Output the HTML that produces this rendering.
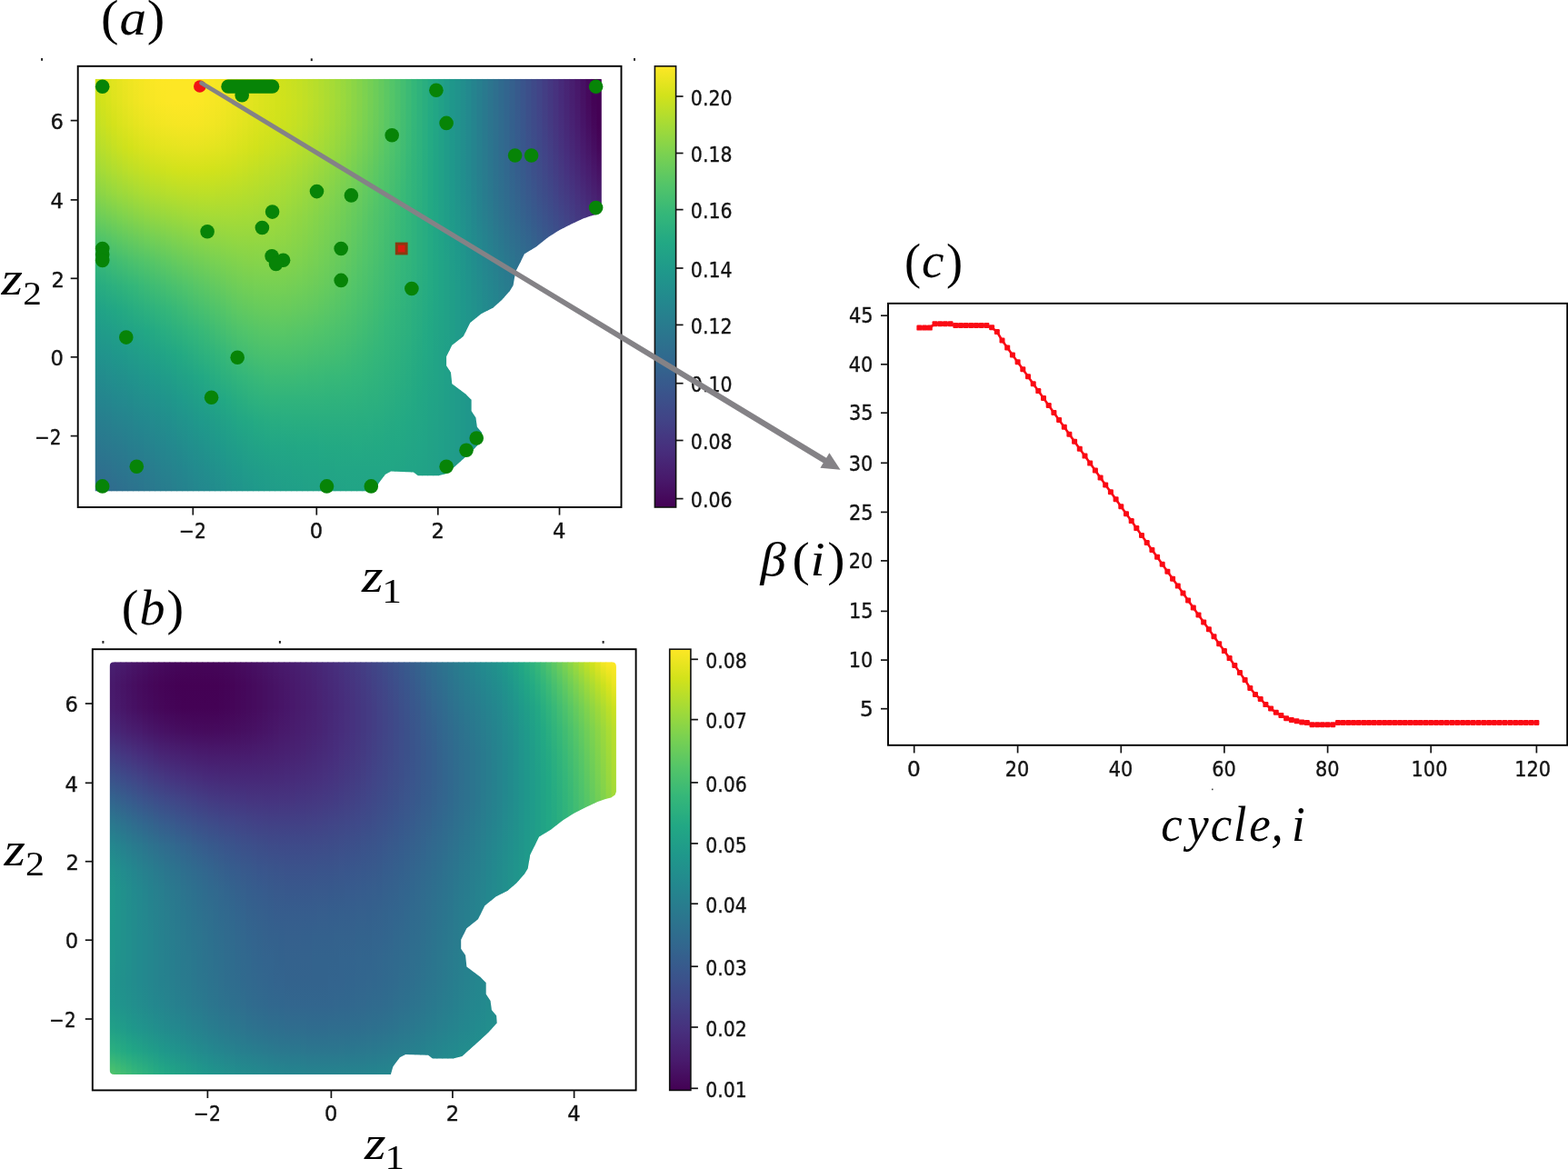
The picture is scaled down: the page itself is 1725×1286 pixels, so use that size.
<!DOCTYPE html>
<html lang="en"><head><meta charset="utf-8"><title>Figure</title>
<style>html,body{margin:0;padding:0;background:#fff}svg{display:block}text{white-space:pre}</style></head>
<body>
<svg width="1725" height="1286" viewBox="0 0 1725 1286">
<rect width="1725" height="1286" fill="#fff"/>
<defs>
<clipPath id="cpa"><path d="M105.5,86.8 L660.8,86.8 Q661.8,86.8 661.8,87.8 L661.8,229.5 L660.5,233.0 L656.0,236.0 L650.0,237.5 L641.4,240.6 L627.5,247.0 L614.8,253.5 L603.0,261.0 L589.5,271.7 L577.0,279.2 L572.1,289.2 L567.1,299.1 L564.6,314.0 L560.9,320.0 L552.1,330.0 L542.2,338.7 L529.7,344.9 L517.3,354.9 L509.8,369.9 L497.3,379.8 L491.1,392.3 L491.1,402.3 L496.0,409.7 L497.3,422.2 L512.3,433.4 L518.5,439.7 L518.5,452.1 L523.5,459.6 L524.7,469.6 L530.0,475.8 L530.5,484.0 L521.5,494.0 L511.8,503.0 L499.8,513.8 L492.3,520.7 L482.4,523.2 L459.9,523.2 L454.9,519.4 L430.0,518.5 L423.8,521.9 L416.3,531.9 L413.8,540.6 L105.5,540.6 Q104.5,540.6 104.5,539.6 L104.5,87.8 Q104.5,86.8 105.5,86.8 Z"/></clipPath>
<linearGradient id="ga0" x1="0" y1="0" x2="0" y2="1"><stop offset="0.000" stop-color="#d1e21b"/><stop offset="0.056" stop-color="#cce11e"/><stop offset="0.111" stop-color="#c2e024"/><stop offset="0.167" stop-color="#b4dd2d"/><stop offset="0.222" stop-color="#a0da39"/><stop offset="0.278" stop-color="#88d448"/><stop offset="0.333" stop-color="#6ccd59"/><stop offset="0.389" stop-color="#4ec26b"/><stop offset="0.444" stop-color="#34b779"/><stop offset="0.500" stop-color="#27ac81"/><stop offset="0.556" stop-color="#21a286"/><stop offset="0.611" stop-color="#1f9a8a"/><stop offset="0.667" stop-color="#20938c"/><stop offset="0.722" stop-color="#228b8d"/><stop offset="0.778" stop-color="#25848e"/><stop offset="0.833" stop-color="#287d8e"/><stop offset="0.889" stop-color="#2b768e"/><stop offset="0.944" stop-color="#2e708e"/><stop offset="1.000" stop-color="#31698e"/></linearGradient>
<linearGradient id="ga1" x1="0" y1="0" x2="0" y2="1"><stop offset="0.000" stop-color="#d7e31c"/><stop offset="0.056" stop-color="#d3e21b"/><stop offset="0.111" stop-color="#c9e121"/><stop offset="0.167" stop-color="#bade2a"/><stop offset="0.222" stop-color="#a6db36"/><stop offset="0.278" stop-color="#8dd545"/><stop offset="0.333" stop-color="#70ce57"/><stop offset="0.389" stop-color="#51c469"/><stop offset="0.444" stop-color="#38b878"/><stop offset="0.500" stop-color="#29ad80"/><stop offset="0.556" stop-color="#21a486"/><stop offset="0.611" stop-color="#209c89"/><stop offset="0.667" stop-color="#20948c"/><stop offset="0.722" stop-color="#228c8d"/><stop offset="0.778" stop-color="#24858e"/><stop offset="0.833" stop-color="#277e8e"/><stop offset="0.889" stop-color="#2a788e"/><stop offset="0.944" stop-color="#2d718e"/><stop offset="1.000" stop-color="#306a8e"/></linearGradient>
<linearGradient id="ga2" x1="0" y1="0" x2="0" y2="1"><stop offset="0.000" stop-color="#dde31e"/><stop offset="0.056" stop-color="#d8e31c"/><stop offset="0.111" stop-color="#cfe11d"/><stop offset="0.167" stop-color="#bfdf26"/><stop offset="0.222" stop-color="#abdc32"/><stop offset="0.278" stop-color="#92d742"/><stop offset="0.333" stop-color="#74cf54"/><stop offset="0.389" stop-color="#55c567"/><stop offset="0.444" stop-color="#3bba76"/><stop offset="0.500" stop-color="#2baf7f"/><stop offset="0.556" stop-color="#22a685"/><stop offset="0.611" stop-color="#209d89"/><stop offset="0.667" stop-color="#20958c"/><stop offset="0.722" stop-color="#228e8d"/><stop offset="0.778" stop-color="#24868e"/><stop offset="0.833" stop-color="#277f8e"/><stop offset="0.889" stop-color="#2a798e"/><stop offset="0.944" stop-color="#2d728e"/><stop offset="1.000" stop-color="#2f6c8e"/></linearGradient>
<linearGradient id="ga3" x1="0" y1="0" x2="0" y2="1"><stop offset="0.000" stop-color="#e2e41f"/><stop offset="0.056" stop-color="#dee31e"/><stop offset="0.111" stop-color="#d4e21b"/><stop offset="0.167" stop-color="#c5e023"/><stop offset="0.222" stop-color="#b0dd30"/><stop offset="0.278" stop-color="#96d83f"/><stop offset="0.333" stop-color="#78d052"/><stop offset="0.389" stop-color="#59c765"/><stop offset="0.444" stop-color="#3fbb74"/><stop offset="0.500" stop-color="#2db17e"/><stop offset="0.556" stop-color="#22a784"/><stop offset="0.611" stop-color="#209f88"/><stop offset="0.667" stop-color="#1f978b"/><stop offset="0.722" stop-color="#218f8d"/><stop offset="0.778" stop-color="#23888e"/><stop offset="0.833" stop-color="#26818e"/><stop offset="0.889" stop-color="#297a8e"/><stop offset="0.944" stop-color="#2c748e"/><stop offset="1.000" stop-color="#2f6d8e"/></linearGradient>
<linearGradient id="ga4" x1="0" y1="0" x2="0" y2="1"><stop offset="0.000" stop-color="#e7e420"/><stop offset="0.056" stop-color="#e2e41f"/><stop offset="0.111" stop-color="#d9e31d"/><stop offset="0.167" stop-color="#cae120"/><stop offset="0.222" stop-color="#b4dd2d"/><stop offset="0.278" stop-color="#9bd93d"/><stop offset="0.333" stop-color="#7cd24f"/><stop offset="0.389" stop-color="#5dc862"/><stop offset="0.444" stop-color="#42bd72"/><stop offset="0.500" stop-color="#2fb27c"/><stop offset="0.556" stop-color="#23a983"/><stop offset="0.611" stop-color="#21a087"/><stop offset="0.667" stop-color="#1f988b"/><stop offset="0.722" stop-color="#21908c"/><stop offset="0.778" stop-color="#23898e"/><stop offset="0.833" stop-color="#26828e"/><stop offset="0.889" stop-color="#297b8e"/><stop offset="0.944" stop-color="#2b758e"/><stop offset="1.000" stop-color="#2e6f8e"/></linearGradient>
<linearGradient id="ga5" x1="0" y1="0" x2="0" y2="1"><stop offset="0.000" stop-color="#ebe521"/><stop offset="0.056" stop-color="#e7e420"/><stop offset="0.111" stop-color="#dde31e"/><stop offset="0.167" stop-color="#cee11d"/><stop offset="0.222" stop-color="#b9de2a"/><stop offset="0.278" stop-color="#9ed93a"/><stop offset="0.333" stop-color="#80d34d"/><stop offset="0.389" stop-color="#61c960"/><stop offset="0.444" stop-color="#45be70"/><stop offset="0.500" stop-color="#31b47b"/><stop offset="0.556" stop-color="#25aa82"/><stop offset="0.611" stop-color="#21a287"/><stop offset="0.667" stop-color="#1f998a"/><stop offset="0.722" stop-color="#21918c"/><stop offset="0.778" stop-color="#238a8e"/><stop offset="0.833" stop-color="#25838e"/><stop offset="0.889" stop-color="#287c8e"/><stop offset="0.944" stop-color="#2b768e"/><stop offset="1.000" stop-color="#2d708e"/></linearGradient>
<linearGradient id="ga6" x1="0" y1="0" x2="0" y2="1"><stop offset="0.000" stop-color="#efe522"/><stop offset="0.056" stop-color="#ebe521"/><stop offset="0.111" stop-color="#e1e41f"/><stop offset="0.167" stop-color="#d2e21b"/><stop offset="0.222" stop-color="#bddf28"/><stop offset="0.278" stop-color="#a2da38"/><stop offset="0.333" stop-color="#84d34b"/><stop offset="0.389" stop-color="#65ca5e"/><stop offset="0.444" stop-color="#49c06e"/><stop offset="0.500" stop-color="#33b67a"/><stop offset="0.556" stop-color="#27ac81"/><stop offset="0.611" stop-color="#21a386"/><stop offset="0.667" stop-color="#209b8a"/><stop offset="0.722" stop-color="#20938c"/><stop offset="0.778" stop-color="#228b8d"/><stop offset="0.833" stop-color="#25848e"/><stop offset="0.889" stop-color="#277e8e"/><stop offset="0.944" stop-color="#2a788e"/><stop offset="1.000" stop-color="#2d728e"/></linearGradient>
<linearGradient id="ga7" x1="0" y1="0" x2="0" y2="1"><stop offset="0.000" stop-color="#f2e623"/><stop offset="0.056" stop-color="#efe522"/><stop offset="0.111" stop-color="#e5e41f"/><stop offset="0.167" stop-color="#d6e21c"/><stop offset="0.222" stop-color="#c0df26"/><stop offset="0.278" stop-color="#a6db36"/><stop offset="0.333" stop-color="#88d448"/><stop offset="0.389" stop-color="#68cb5c"/><stop offset="0.444" stop-color="#4cc16c"/><stop offset="0.500" stop-color="#35b779"/><stop offset="0.556" stop-color="#29ae80"/><stop offset="0.611" stop-color="#21a585"/><stop offset="0.667" stop-color="#209c89"/><stop offset="0.722" stop-color="#20948c"/><stop offset="0.778" stop-color="#228d8d"/><stop offset="0.833" stop-color="#24868e"/><stop offset="0.889" stop-color="#277f8e"/><stop offset="0.944" stop-color="#2a798e"/><stop offset="1.000" stop-color="#2c738e"/></linearGradient>
<linearGradient id="ga8" x1="0" y1="0" x2="0" y2="1"><stop offset="0.000" stop-color="#f5e623"/><stop offset="0.056" stop-color="#f2e622"/><stop offset="0.111" stop-color="#e8e520"/><stop offset="0.167" stop-color="#d9e31d"/><stop offset="0.222" stop-color="#c3e024"/><stop offset="0.278" stop-color="#a9dc34"/><stop offset="0.333" stop-color="#8bd546"/><stop offset="0.389" stop-color="#6ccc5a"/><stop offset="0.444" stop-color="#4fc36b"/><stop offset="0.500" stop-color="#39b977"/><stop offset="0.556" stop-color="#2baf7f"/><stop offset="0.611" stop-color="#22a685"/><stop offset="0.667" stop-color="#209e89"/><stop offset="0.722" stop-color="#20968b"/><stop offset="0.778" stop-color="#228e8d"/><stop offset="0.833" stop-color="#23878e"/><stop offset="0.889" stop-color="#26808e"/><stop offset="0.944" stop-color="#297a8e"/><stop offset="1.000" stop-color="#2b758e"/></linearGradient>
<linearGradient id="ga9" x1="0" y1="0" x2="0" y2="1"><stop offset="0.000" stop-color="#f8e624"/><stop offset="0.056" stop-color="#f5e623"/><stop offset="0.111" stop-color="#ebe521"/><stop offset="0.167" stop-color="#dce31d"/><stop offset="0.222" stop-color="#c6e022"/><stop offset="0.278" stop-color="#acdc32"/><stop offset="0.333" stop-color="#8fd644"/><stop offset="0.389" stop-color="#6fce58"/><stop offset="0.444" stop-color="#52c469"/><stop offset="0.500" stop-color="#3cba75"/><stop offset="0.556" stop-color="#2db17e"/><stop offset="0.611" stop-color="#22a884"/><stop offset="0.667" stop-color="#209f88"/><stop offset="0.722" stop-color="#1f978b"/><stop offset="0.778" stop-color="#218f8d"/><stop offset="0.833" stop-color="#23888e"/><stop offset="0.889" stop-color="#26828e"/><stop offset="0.944" stop-color="#287c8e"/><stop offset="1.000" stop-color="#2b778e"/></linearGradient>
<linearGradient id="ga10" x1="0" y1="0" x2="0" y2="1"><stop offset="0.000" stop-color="#fae724"/><stop offset="0.056" stop-color="#f7e624"/><stop offset="0.111" stop-color="#eee521"/><stop offset="0.167" stop-color="#dfe31e"/><stop offset="0.222" stop-color="#c9e120"/><stop offset="0.278" stop-color="#afdd30"/><stop offset="0.333" stop-color="#92d642"/><stop offset="0.389" stop-color="#72cf56"/><stop offset="0.444" stop-color="#55c567"/><stop offset="0.500" stop-color="#3fbc73"/><stop offset="0.556" stop-color="#2fb27d"/><stop offset="0.611" stop-color="#24a983"/><stop offset="0.667" stop-color="#21a187"/><stop offset="0.722" stop-color="#1f998b"/><stop offset="0.778" stop-color="#21918c"/><stop offset="0.833" stop-color="#238a8e"/><stop offset="0.889" stop-color="#25838e"/><stop offset="0.944" stop-color="#287d8e"/><stop offset="1.000" stop-color="#2a788e"/></linearGradient>
<linearGradient id="ga11" x1="0" y1="0" x2="0" y2="1"><stop offset="0.000" stop-color="#fce725"/><stop offset="0.056" stop-color="#f9e724"/><stop offset="0.111" stop-color="#f0e522"/><stop offset="0.167" stop-color="#e1e41e"/><stop offset="0.222" stop-color="#cbe11f"/><stop offset="0.278" stop-color="#b1dd2f"/><stop offset="0.333" stop-color="#94d740"/><stop offset="0.389" stop-color="#75cf54"/><stop offset="0.444" stop-color="#59c665"/><stop offset="0.500" stop-color="#42bd72"/><stop offset="0.556" stop-color="#31b47b"/><stop offset="0.611" stop-color="#26ab82"/><stop offset="0.667" stop-color="#21a286"/><stop offset="0.722" stop-color="#1f9a8a"/><stop offset="0.778" stop-color="#20928c"/><stop offset="0.833" stop-color="#228b8d"/><stop offset="0.889" stop-color="#24858e"/><stop offset="0.944" stop-color="#277f8e"/><stop offset="1.000" stop-color="#297a8e"/></linearGradient>
<linearGradient id="ga12" x1="0" y1="0" x2="0" y2="1"><stop offset="0.000" stop-color="#fde725"/><stop offset="0.056" stop-color="#fbe724"/><stop offset="0.111" stop-color="#f2e622"/><stop offset="0.167" stop-color="#e3e41f"/><stop offset="0.222" stop-color="#cde11e"/><stop offset="0.278" stop-color="#b4dd2d"/><stop offset="0.333" stop-color="#97d83f"/><stop offset="0.389" stop-color="#78d052"/><stop offset="0.444" stop-color="#5cc863"/><stop offset="0.500" stop-color="#45be70"/><stop offset="0.556" stop-color="#33b57a"/><stop offset="0.611" stop-color="#28ad81"/><stop offset="0.667" stop-color="#21a486"/><stop offset="0.722" stop-color="#209c89"/><stop offset="0.778" stop-color="#20948c"/><stop offset="0.833" stop-color="#228d8d"/><stop offset="0.889" stop-color="#24868e"/><stop offset="0.944" stop-color="#26818e"/><stop offset="1.000" stop-color="#287c8e"/></linearGradient>
<linearGradient id="ga13" x1="0" y1="0" x2="0" y2="1"><stop offset="0.000" stop-color="#fde725"/><stop offset="0.056" stop-color="#fce725"/><stop offset="0.111" stop-color="#f3e623"/><stop offset="0.167" stop-color="#e4e41f"/><stop offset="0.222" stop-color="#cfe21d"/><stop offset="0.278" stop-color="#b6de2c"/><stop offset="0.333" stop-color="#99d83d"/><stop offset="0.389" stop-color="#7bd151"/><stop offset="0.444" stop-color="#5fc961"/><stop offset="0.500" stop-color="#48c06e"/><stop offset="0.556" stop-color="#35b779"/><stop offset="0.611" stop-color="#2aae80"/><stop offset="0.667" stop-color="#22a685"/><stop offset="0.722" stop-color="#209d89"/><stop offset="0.778" stop-color="#20958b"/><stop offset="0.833" stop-color="#218e8d"/><stop offset="0.889" stop-color="#23888e"/><stop offset="0.944" stop-color="#26828e"/><stop offset="1.000" stop-color="#287d8e"/></linearGradient>
<linearGradient id="ga14" x1="0" y1="0" x2="0" y2="1"><stop offset="0.000" stop-color="#fde725"/><stop offset="0.056" stop-color="#fde725"/><stop offset="0.111" stop-color="#f4e623"/><stop offset="0.167" stop-color="#e5e420"/><stop offset="0.222" stop-color="#d1e21c"/><stop offset="0.278" stop-color="#b7de2b"/><stop offset="0.333" stop-color="#9bd93c"/><stop offset="0.389" stop-color="#7ed24f"/><stop offset="0.444" stop-color="#63ca5f"/><stop offset="0.500" stop-color="#4bc16d"/><stop offset="0.556" stop-color="#38b877"/><stop offset="0.611" stop-color="#2cb07e"/><stop offset="0.667" stop-color="#22a784"/><stop offset="0.722" stop-color="#209f88"/><stop offset="0.778" stop-color="#1f978b"/><stop offset="0.833" stop-color="#21908d"/><stop offset="0.889" stop-color="#23898e"/><stop offset="0.944" stop-color="#25848e"/><stop offset="1.000" stop-color="#277f8e"/></linearGradient>
<linearGradient id="ga15" x1="0" y1="0" x2="0" y2="1"><stop offset="0.000" stop-color="#fde725"/><stop offset="0.056" stop-color="#fde725"/><stop offset="0.111" stop-color="#f5e623"/><stop offset="0.167" stop-color="#e6e420"/><stop offset="0.222" stop-color="#d2e21b"/><stop offset="0.278" stop-color="#b9de2a"/><stop offset="0.333" stop-color="#9dd93b"/><stop offset="0.389" stop-color="#80d24d"/><stop offset="0.444" stop-color="#66cb5d"/><stop offset="0.500" stop-color="#4ec26b"/><stop offset="0.556" stop-color="#3bba76"/><stop offset="0.611" stop-color="#2eb17d"/><stop offset="0.667" stop-color="#23a983"/><stop offset="0.722" stop-color="#21a187"/><stop offset="0.778" stop-color="#1f998b"/><stop offset="0.833" stop-color="#21928c"/><stop offset="0.889" stop-color="#228b8d"/><stop offset="0.944" stop-color="#24858e"/><stop offset="1.000" stop-color="#26818e"/></linearGradient>
<linearGradient id="ga16" x1="0" y1="0" x2="0" y2="1"><stop offset="0.000" stop-color="#fde725"/><stop offset="0.056" stop-color="#fde725"/><stop offset="0.111" stop-color="#f5e623"/><stop offset="0.167" stop-color="#e7e420"/><stop offset="0.222" stop-color="#d2e21b"/><stop offset="0.278" stop-color="#bade29"/><stop offset="0.333" stop-color="#9fda3a"/><stop offset="0.389" stop-color="#83d34b"/><stop offset="0.444" stop-color="#69cc5b"/><stop offset="0.500" stop-color="#51c46a"/><stop offset="0.556" stop-color="#3ebb74"/><stop offset="0.611" stop-color="#30b37c"/><stop offset="0.667" stop-color="#25ab82"/><stop offset="0.722" stop-color="#21a286"/><stop offset="0.778" stop-color="#1f9b8a"/><stop offset="0.833" stop-color="#20938c"/><stop offset="0.889" stop-color="#228d8d"/><stop offset="0.944" stop-color="#23878e"/><stop offset="1.000" stop-color="#25828e"/></linearGradient>
<linearGradient id="ga17" x1="0" y1="0" x2="0" y2="1"><stop offset="0.000" stop-color="#fde725"/><stop offset="0.056" stop-color="#fde725"/><stop offset="0.111" stop-color="#f5e623"/><stop offset="0.167" stop-color="#e7e420"/><stop offset="0.222" stop-color="#d3e21b"/><stop offset="0.278" stop-color="#bbde29"/><stop offset="0.333" stop-color="#a1da39"/><stop offset="0.389" stop-color="#85d44a"/><stop offset="0.444" stop-color="#6ccc5a"/><stop offset="0.500" stop-color="#54c568"/><stop offset="0.556" stop-color="#42bd72"/><stop offset="0.611" stop-color="#32b57b"/><stop offset="0.667" stop-color="#28ac81"/><stop offset="0.722" stop-color="#21a486"/><stop offset="0.778" stop-color="#209c89"/><stop offset="0.833" stop-color="#20958c"/><stop offset="0.889" stop-color="#218f8d"/><stop offset="0.944" stop-color="#23898e"/><stop offset="1.000" stop-color="#25848e"/></linearGradient>
<linearGradient id="ga18" x1="0" y1="0" x2="0" y2="1"><stop offset="0.000" stop-color="#fde725"/><stop offset="0.056" stop-color="#fce725"/><stop offset="0.111" stop-color="#f5e623"/><stop offset="0.167" stop-color="#e7e420"/><stop offset="0.222" stop-color="#d3e21b"/><stop offset="0.278" stop-color="#bbde29"/><stop offset="0.333" stop-color="#a2da38"/><stop offset="0.389" stop-color="#88d448"/><stop offset="0.444" stop-color="#6fcd58"/><stop offset="0.500" stop-color="#58c666"/><stop offset="0.556" stop-color="#45be70"/><stop offset="0.611" stop-color="#34b67a"/><stop offset="0.667" stop-color="#2aae80"/><stop offset="0.722" stop-color="#22a685"/><stop offset="0.778" stop-color="#209e88"/><stop offset="0.833" stop-color="#1f978b"/><stop offset="0.889" stop-color="#21908c"/><stop offset="0.944" stop-color="#228b8e"/><stop offset="1.000" stop-color="#24868e"/></linearGradient>
<linearGradient id="ga19" x1="0" y1="0" x2="0" y2="1"><stop offset="0.000" stop-color="#fce725"/><stop offset="0.056" stop-color="#fbe725"/><stop offset="0.111" stop-color="#f4e623"/><stop offset="0.167" stop-color="#e6e420"/><stop offset="0.222" stop-color="#d3e21b"/><stop offset="0.278" stop-color="#bcdf28"/><stop offset="0.333" stop-color="#a3db37"/><stop offset="0.389" stop-color="#8ad547"/><stop offset="0.444" stop-color="#71ce56"/><stop offset="0.500" stop-color="#5bc764"/><stop offset="0.556" stop-color="#48c06f"/><stop offset="0.611" stop-color="#37b878"/><stop offset="0.667" stop-color="#2cb07e"/><stop offset="0.722" stop-color="#22a884"/><stop offset="0.778" stop-color="#20a088"/><stop offset="0.833" stop-color="#1f998b"/><stop offset="0.889" stop-color="#20928c"/><stop offset="0.944" stop-color="#228c8d"/><stop offset="1.000" stop-color="#23888e"/></linearGradient>
<linearGradient id="ga20" x1="0" y1="0" x2="0" y2="1"><stop offset="0.000" stop-color="#fae724"/><stop offset="0.056" stop-color="#f9e724"/><stop offset="0.111" stop-color="#f2e623"/><stop offset="0.167" stop-color="#e5e41f"/><stop offset="0.222" stop-color="#d2e21b"/><stop offset="0.278" stop-color="#bcdf28"/><stop offset="0.333" stop-color="#a4db37"/><stop offset="0.389" stop-color="#8cd546"/><stop offset="0.444" stop-color="#74cf55"/><stop offset="0.500" stop-color="#5ec862"/><stop offset="0.556" stop-color="#4bc16d"/><stop offset="0.611" stop-color="#3ab976"/><stop offset="0.667" stop-color="#2eb27d"/><stop offset="0.722" stop-color="#24aa83"/><stop offset="0.778" stop-color="#21a287"/><stop offset="0.833" stop-color="#1f9a8a"/><stop offset="0.889" stop-color="#20948c"/><stop offset="0.944" stop-color="#218e8d"/><stop offset="1.000" stop-color="#23898e"/></linearGradient>
<linearGradient id="ga21" x1="0" y1="0" x2="0" y2="1"><stop offset="0.000" stop-color="#f8e624"/><stop offset="0.056" stop-color="#f7e624"/><stop offset="0.111" stop-color="#f1e622"/><stop offset="0.167" stop-color="#e4e41f"/><stop offset="0.222" stop-color="#d1e21b"/><stop offset="0.278" stop-color="#bcdf28"/><stop offset="0.333" stop-color="#a5db36"/><stop offset="0.389" stop-color="#8ed645"/><stop offset="0.444" stop-color="#77d053"/><stop offset="0.500" stop-color="#62c960"/><stop offset="0.556" stop-color="#4fc36b"/><stop offset="0.611" stop-color="#3ebb74"/><stop offset="0.667" stop-color="#30b37c"/><stop offset="0.722" stop-color="#27ac81"/><stop offset="0.778" stop-color="#21a486"/><stop offset="0.833" stop-color="#209c89"/><stop offset="0.889" stop-color="#20968b"/><stop offset="0.944" stop-color="#21908c"/><stop offset="1.000" stop-color="#228b8d"/></linearGradient>
<linearGradient id="ga22" x1="0" y1="0" x2="0" y2="1"><stop offset="0.000" stop-color="#f5e623"/><stop offset="0.056" stop-color="#f5e623"/><stop offset="0.111" stop-color="#efe522"/><stop offset="0.167" stop-color="#e2e41f"/><stop offset="0.222" stop-color="#d0e21c"/><stop offset="0.278" stop-color="#bbde29"/><stop offset="0.333" stop-color="#a5db36"/><stop offset="0.389" stop-color="#8fd644"/><stop offset="0.444" stop-color="#79d152"/><stop offset="0.500" stop-color="#65ca5e"/><stop offset="0.556" stop-color="#52c469"/><stop offset="0.611" stop-color="#42bd72"/><stop offset="0.667" stop-color="#33b57a"/><stop offset="0.722" stop-color="#29ae80"/><stop offset="0.778" stop-color="#22a685"/><stop offset="0.833" stop-color="#209e88"/><stop offset="0.889" stop-color="#1f988b"/><stop offset="0.944" stop-color="#21928c"/><stop offset="1.000" stop-color="#228d8d"/></linearGradient>
<linearGradient id="ga23" x1="0" y1="0" x2="0" y2="1"><stop offset="0.000" stop-color="#f2e622"/><stop offset="0.056" stop-color="#f2e622"/><stop offset="0.111" stop-color="#ece521"/><stop offset="0.167" stop-color="#e0e41e"/><stop offset="0.222" stop-color="#cee11d"/><stop offset="0.278" stop-color="#bade29"/><stop offset="0.333" stop-color="#a6db36"/><stop offset="0.389" stop-color="#91d643"/><stop offset="0.444" stop-color="#7cd150"/><stop offset="0.500" stop-color="#68cb5c"/><stop offset="0.556" stop-color="#55c567"/><stop offset="0.611" stop-color="#45be70"/><stop offset="0.667" stop-color="#35b779"/><stop offset="0.722" stop-color="#2cb07e"/><stop offset="0.778" stop-color="#22a884"/><stop offset="0.833" stop-color="#21a087"/><stop offset="0.889" stop-color="#1f9a8a"/><stop offset="0.944" stop-color="#20948c"/><stop offset="1.000" stop-color="#218f8d"/></linearGradient>
<linearGradient id="ga24" x1="0" y1="0" x2="0" y2="1"><stop offset="0.000" stop-color="#eee522"/><stop offset="0.056" stop-color="#efe522"/><stop offset="0.111" stop-color="#e9e520"/><stop offset="0.167" stop-color="#dee31e"/><stop offset="0.222" stop-color="#cde11e"/><stop offset="0.278" stop-color="#b9de2a"/><stop offset="0.333" stop-color="#a6db36"/><stop offset="0.389" stop-color="#92d742"/><stop offset="0.444" stop-color="#7ed24e"/><stop offset="0.500" stop-color="#6ccc5a"/><stop offset="0.556" stop-color="#59c765"/><stop offset="0.611" stop-color="#49c06e"/><stop offset="0.667" stop-color="#39b977"/><stop offset="0.722" stop-color="#2eb17d"/><stop offset="0.778" stop-color="#24aa83"/><stop offset="0.833" stop-color="#21a287"/><stop offset="0.889" stop-color="#209c89"/><stop offset="0.944" stop-color="#20968b"/><stop offset="1.000" stop-color="#21918c"/></linearGradient>
<linearGradient id="ga25" x1="0" y1="0" x2="0" y2="1"><stop offset="0.000" stop-color="#ebe521"/><stop offset="0.056" stop-color="#ece521"/><stop offset="0.111" stop-color="#e7e420"/><stop offset="0.167" stop-color="#dce31d"/><stop offset="0.222" stop-color="#cbe11f"/><stop offset="0.278" stop-color="#b8de2a"/><stop offset="0.333" stop-color="#a6db36"/><stop offset="0.389" stop-color="#93d741"/><stop offset="0.444" stop-color="#80d24d"/><stop offset="0.500" stop-color="#6ecd58"/><stop offset="0.556" stop-color="#5dc863"/><stop offset="0.611" stop-color="#4cc16c"/><stop offset="0.667" stop-color="#3dba75"/><stop offset="0.722" stop-color="#30b37c"/><stop offset="0.778" stop-color="#26ab81"/><stop offset="0.833" stop-color="#21a486"/><stop offset="0.889" stop-color="#209d89"/><stop offset="0.944" stop-color="#1f988b"/><stop offset="1.000" stop-color="#20938c"/></linearGradient>
<linearGradient id="ga26" x1="0" y1="0" x2="0" y2="1"><stop offset="0.000" stop-color="#e8e520"/><stop offset="0.056" stop-color="#e9e520"/><stop offset="0.111" stop-color="#e4e41f"/><stop offset="0.167" stop-color="#d9e31d"/><stop offset="0.222" stop-color="#c9e121"/><stop offset="0.278" stop-color="#b7de2b"/><stop offset="0.333" stop-color="#a5db36"/><stop offset="0.389" stop-color="#94d741"/><stop offset="0.444" stop-color="#82d34c"/><stop offset="0.500" stop-color="#71ce57"/><stop offset="0.556" stop-color="#60c961"/><stop offset="0.611" stop-color="#4fc36b"/><stop offset="0.667" stop-color="#40bc73"/><stop offset="0.722" stop-color="#32b57b"/><stop offset="0.778" stop-color="#28ad80"/><stop offset="0.833" stop-color="#22a685"/><stop offset="0.889" stop-color="#209f88"/><stop offset="0.944" stop-color="#1f998a"/><stop offset="1.000" stop-color="#20948c"/></linearGradient>
<linearGradient id="ga27" x1="0" y1="0" x2="0" y2="1"><stop offset="0.000" stop-color="#e4e41f"/><stop offset="0.056" stop-color="#e6e420"/><stop offset="0.111" stop-color="#e1e41f"/><stop offset="0.167" stop-color="#d7e31c"/><stop offset="0.222" stop-color="#c7e022"/><stop offset="0.278" stop-color="#b5de2c"/><stop offset="0.333" stop-color="#a4db36"/><stop offset="0.389" stop-color="#94d741"/><stop offset="0.444" stop-color="#84d34b"/><stop offset="0.500" stop-color="#73cf55"/><stop offset="0.556" stop-color="#62c95f"/><stop offset="0.611" stop-color="#51c46a"/><stop offset="0.667" stop-color="#42bd72"/><stop offset="0.722" stop-color="#34b67a"/><stop offset="0.778" stop-color="#2aae7f"/><stop offset="0.833" stop-color="#22a784"/><stop offset="0.889" stop-color="#21a087"/><stop offset="0.944" stop-color="#209b8a"/><stop offset="1.000" stop-color="#20968b"/></linearGradient>
<linearGradient id="ga28" x1="0" y1="0" x2="0" y2="1"><stop offset="0.000" stop-color="#e1e41e"/><stop offset="0.056" stop-color="#e2e41f"/><stop offset="0.111" stop-color="#dee31e"/><stop offset="0.167" stop-color="#d4e21c"/><stop offset="0.222" stop-color="#c4e023"/><stop offset="0.278" stop-color="#b4dd2d"/><stop offset="0.333" stop-color="#a4db37"/><stop offset="0.389" stop-color="#94d740"/><stop offset="0.444" stop-color="#85d34a"/><stop offset="0.500" stop-color="#74cf54"/><stop offset="0.556" stop-color="#64ca5e"/><stop offset="0.611" stop-color="#53c568"/><stop offset="0.667" stop-color="#45be70"/><stop offset="0.722" stop-color="#36b779"/><stop offset="0.778" stop-color="#2cb07e"/><stop offset="0.833" stop-color="#23a884"/><stop offset="0.889" stop-color="#21a287"/><stop offset="0.944" stop-color="#209c89"/><stop offset="1.000" stop-color="#1f978b"/></linearGradient>
<linearGradient id="ga29" x1="0" y1="0" x2="0" y2="1"><stop offset="0.000" stop-color="#dee31e"/><stop offset="0.056" stop-color="#dfe41e"/><stop offset="0.111" stop-color="#dbe31d"/><stop offset="0.167" stop-color="#d2e21b"/><stop offset="0.222" stop-color="#c2e025"/><stop offset="0.278" stop-color="#b2dd2e"/><stop offset="0.333" stop-color="#a3da38"/><stop offset="0.389" stop-color="#94d741"/><stop offset="0.444" stop-color="#85d44a"/><stop offset="0.500" stop-color="#76d054"/><stop offset="0.556" stop-color="#66cb5d"/><stop offset="0.611" stop-color="#55c567"/><stop offset="0.667" stop-color="#47bf6f"/><stop offset="0.722" stop-color="#38b878"/><stop offset="0.778" stop-color="#2db17e"/><stop offset="0.833" stop-color="#24aa83"/><stop offset="0.889" stop-color="#21a386"/><stop offset="0.944" stop-color="#209d89"/><stop offset="1.000" stop-color="#1f998b"/></linearGradient>
<linearGradient id="ga30" x1="0" y1="0" x2="0" y2="1"><stop offset="0.000" stop-color="#dbe31d"/><stop offset="0.056" stop-color="#dce31d"/><stop offset="0.111" stop-color="#d8e31d"/><stop offset="0.167" stop-color="#cfe11d"/><stop offset="0.222" stop-color="#bfdf26"/><stop offset="0.278" stop-color="#b0dd2f"/><stop offset="0.333" stop-color="#a1da38"/><stop offset="0.389" stop-color="#94d741"/><stop offset="0.444" stop-color="#86d44a"/><stop offset="0.500" stop-color="#76d053"/><stop offset="0.556" stop-color="#67cb5c"/><stop offset="0.611" stop-color="#57c666"/><stop offset="0.667" stop-color="#48c06e"/><stop offset="0.722" stop-color="#39b977"/><stop offset="0.778" stop-color="#2eb27d"/><stop offset="0.833" stop-color="#25aa82"/><stop offset="0.889" stop-color="#21a486"/><stop offset="0.944" stop-color="#209e88"/><stop offset="1.000" stop-color="#1f9a8a"/></linearGradient>
<linearGradient id="ga31" x1="0" y1="0" x2="0" y2="1"><stop offset="0.000" stop-color="#d7e31c"/><stop offset="0.056" stop-color="#d9e31d"/><stop offset="0.111" stop-color="#d6e21c"/><stop offset="0.167" stop-color="#cce11f"/><stop offset="0.222" stop-color="#bddf28"/><stop offset="0.278" stop-color="#aedc31"/><stop offset="0.333" stop-color="#a0da39"/><stop offset="0.389" stop-color="#93d741"/><stop offset="0.444" stop-color="#86d44a"/><stop offset="0.500" stop-color="#77d053"/><stop offset="0.556" stop-color="#68cb5c"/><stop offset="0.611" stop-color="#58c666"/><stop offset="0.667" stop-color="#49c06e"/><stop offset="0.722" stop-color="#3bba76"/><stop offset="0.778" stop-color="#2fb27c"/><stop offset="0.833" stop-color="#26ab82"/><stop offset="0.889" stop-color="#21a585"/><stop offset="0.944" stop-color="#209f88"/><stop offset="1.000" stop-color="#209b8a"/></linearGradient>
<linearGradient id="ga32" x1="0" y1="0" x2="0" y2="1"><stop offset="0.000" stop-color="#d4e21c"/><stop offset="0.056" stop-color="#d6e31c"/><stop offset="0.111" stop-color="#d3e21b"/><stop offset="0.167" stop-color="#c9e120"/><stop offset="0.222" stop-color="#bade29"/><stop offset="0.278" stop-color="#abdc32"/><stop offset="0.333" stop-color="#9ed93b"/><stop offset="0.389" stop-color="#92d742"/><stop offset="0.444" stop-color="#85d44a"/><stop offset="0.500" stop-color="#77d053"/><stop offset="0.556" stop-color="#69cc5b"/><stop offset="0.611" stop-color="#59c765"/><stop offset="0.667" stop-color="#4ac16d"/><stop offset="0.722" stop-color="#3cba75"/><stop offset="0.778" stop-color="#30b37c"/><stop offset="0.833" stop-color="#27ac81"/><stop offset="0.889" stop-color="#22a685"/><stop offset="0.944" stop-color="#21a087"/><stop offset="1.000" stop-color="#209c89"/></linearGradient>
<linearGradient id="ga33" x1="0" y1="0" x2="0" y2="1"><stop offset="0.000" stop-color="#d1e21b"/><stop offset="0.056" stop-color="#d3e21b"/><stop offset="0.111" stop-color="#d0e21c"/><stop offset="0.167" stop-color="#c6e022"/><stop offset="0.222" stop-color="#b7de2b"/><stop offset="0.278" stop-color="#a9dc34"/><stop offset="0.333" stop-color="#9cd93c"/><stop offset="0.389" stop-color="#90d643"/><stop offset="0.444" stop-color="#84d34b"/><stop offset="0.500" stop-color="#77d053"/><stop offset="0.556" stop-color="#69cc5b"/><stop offset="0.611" stop-color="#59c765"/><stop offset="0.667" stop-color="#4ac16d"/><stop offset="0.722" stop-color="#3cba75"/><stop offset="0.778" stop-color="#30b37c"/><stop offset="0.833" stop-color="#27ac81"/><stop offset="0.889" stop-color="#22a685"/><stop offset="0.944" stop-color="#21a187"/><stop offset="1.000" stop-color="#209d89"/></linearGradient>
<linearGradient id="ga34" x1="0" y1="0" x2="0" y2="1"><stop offset="0.000" stop-color="#cee11d"/><stop offset="0.056" stop-color="#d0e21c"/><stop offset="0.111" stop-color="#cce11e"/><stop offset="0.167" stop-color="#c3e024"/><stop offset="0.222" stop-color="#b4dd2d"/><stop offset="0.278" stop-color="#a6db35"/><stop offset="0.333" stop-color="#9ad83d"/><stop offset="0.389" stop-color="#8fd644"/><stop offset="0.444" stop-color="#83d34b"/><stop offset="0.500" stop-color="#76d053"/><stop offset="0.556" stop-color="#68cb5c"/><stop offset="0.611" stop-color="#59c765"/><stop offset="0.667" stop-color="#4ac16d"/><stop offset="0.722" stop-color="#3cba75"/><stop offset="0.778" stop-color="#30b37c"/><stop offset="0.833" stop-color="#28ad81"/><stop offset="0.889" stop-color="#22a785"/><stop offset="0.944" stop-color="#21a287"/><stop offset="1.000" stop-color="#209e88"/></linearGradient>
<linearGradient id="ga35" x1="0" y1="0" x2="0" y2="1"><stop offset="0.000" stop-color="#cbe11f"/><stop offset="0.056" stop-color="#cde11e"/><stop offset="0.111" stop-color="#c9e120"/><stop offset="0.167" stop-color="#c0df26"/><stop offset="0.222" stop-color="#b1dd2f"/><stop offset="0.278" stop-color="#a3db37"/><stop offset="0.333" stop-color="#97d83f"/><stop offset="0.389" stop-color="#8dd545"/><stop offset="0.444" stop-color="#82d34c"/><stop offset="0.500" stop-color="#75cf54"/><stop offset="0.556" stop-color="#68cb5c"/><stop offset="0.611" stop-color="#58c665"/><stop offset="0.667" stop-color="#4ac16d"/><stop offset="0.722" stop-color="#3cba75"/><stop offset="0.778" stop-color="#30b37c"/><stop offset="0.833" stop-color="#28ad81"/><stop offset="0.889" stop-color="#22a784"/><stop offset="0.944" stop-color="#21a287"/><stop offset="1.000" stop-color="#209f88"/></linearGradient>
<linearGradient id="ga36" x1="0" y1="0" x2="0" y2="1"><stop offset="0.000" stop-color="#c8e021"/><stop offset="0.056" stop-color="#cae120"/><stop offset="0.111" stop-color="#c6e022"/><stop offset="0.167" stop-color="#bcdf28"/><stop offset="0.222" stop-color="#aedc31"/><stop offset="0.278" stop-color="#a0da39"/><stop offset="0.333" stop-color="#94d741"/><stop offset="0.389" stop-color="#8ad547"/><stop offset="0.444" stop-color="#80d24d"/><stop offset="0.500" stop-color="#74cf55"/><stop offset="0.556" stop-color="#66cb5d"/><stop offset="0.611" stop-color="#57c666"/><stop offset="0.667" stop-color="#4ac06e"/><stop offset="0.722" stop-color="#3cba75"/><stop offset="0.778" stop-color="#30b37c"/><stop offset="0.833" stop-color="#28ad80"/><stop offset="0.889" stop-color="#22a784"/><stop offset="0.944" stop-color="#21a386"/><stop offset="1.000" stop-color="#209f88"/></linearGradient>
<linearGradient id="ga37" x1="0" y1="0" x2="0" y2="1"><stop offset="0.000" stop-color="#c4e023"/><stop offset="0.056" stop-color="#c6e022"/><stop offset="0.111" stop-color="#c2e025"/><stop offset="0.167" stop-color="#b8de2a"/><stop offset="0.222" stop-color="#aadc33"/><stop offset="0.278" stop-color="#9dd93b"/><stop offset="0.333" stop-color="#91d642"/><stop offset="0.389" stop-color="#88d448"/><stop offset="0.444" stop-color="#7ed24f"/><stop offset="0.500" stop-color="#72cf56"/><stop offset="0.556" stop-color="#65ca5e"/><stop offset="0.611" stop-color="#56c667"/><stop offset="0.667" stop-color="#49c06e"/><stop offset="0.722" stop-color="#3bba76"/><stop offset="0.778" stop-color="#30b37c"/><stop offset="0.833" stop-color="#28ad80"/><stop offset="0.889" stop-color="#22a884"/><stop offset="0.944" stop-color="#21a386"/><stop offset="1.000" stop-color="#20a088"/></linearGradient>
<linearGradient id="ga38" x1="0" y1="0" x2="0" y2="1"><stop offset="0.000" stop-color="#c0df26"/><stop offset="0.056" stop-color="#c2df25"/><stop offset="0.111" stop-color="#bedf27"/><stop offset="0.167" stop-color="#b4dd2d"/><stop offset="0.222" stop-color="#a6db36"/><stop offset="0.278" stop-color="#99d83e"/><stop offset="0.333" stop-color="#8ed645"/><stop offset="0.389" stop-color="#85d34a"/><stop offset="0.444" stop-color="#7bd150"/><stop offset="0.500" stop-color="#70ce57"/><stop offset="0.556" stop-color="#64ca5f"/><stop offset="0.611" stop-color="#55c567"/><stop offset="0.667" stop-color="#48c06e"/><stop offset="0.722" stop-color="#3bba76"/><stop offset="0.778" stop-color="#30b37c"/><stop offset="0.833" stop-color="#28ad80"/><stop offset="0.889" stop-color="#22a884"/><stop offset="0.944" stop-color="#21a486"/><stop offset="1.000" stop-color="#21a087"/></linearGradient>
<linearGradient id="ga39" x1="0" y1="0" x2="0" y2="1"><stop offset="0.000" stop-color="#bbde29"/><stop offset="0.056" stop-color="#bddf28"/><stop offset="0.111" stop-color="#b9de2a"/><stop offset="0.167" stop-color="#b0dd30"/><stop offset="0.222" stop-color="#a2da38"/><stop offset="0.278" stop-color="#95d740"/><stop offset="0.333" stop-color="#8ad547"/><stop offset="0.389" stop-color="#81d34c"/><stop offset="0.444" stop-color="#78d052"/><stop offset="0.500" stop-color="#6ecd58"/><stop offset="0.556" stop-color="#62c960"/><stop offset="0.611" stop-color="#54c568"/><stop offset="0.667" stop-color="#47bf6f"/><stop offset="0.722" stop-color="#3ab976"/><stop offset="0.778" stop-color="#30b37c"/><stop offset="0.833" stop-color="#28ad80"/><stop offset="0.889" stop-color="#22a884"/><stop offset="0.944" stop-color="#21a486"/><stop offset="1.000" stop-color="#21a187"/></linearGradient>
<linearGradient id="ga40" x1="0" y1="0" x2="0" y2="1"><stop offset="0.000" stop-color="#b7de2b"/><stop offset="0.056" stop-color="#b8de2b"/><stop offset="0.111" stop-color="#b4dd2d"/><stop offset="0.167" stop-color="#abdc32"/><stop offset="0.222" stop-color="#9dd93b"/><stop offset="0.278" stop-color="#91d643"/><stop offset="0.333" stop-color="#86d449"/><stop offset="0.389" stop-color="#7ed24f"/><stop offset="0.444" stop-color="#76d054"/><stop offset="0.500" stop-color="#6ccc5a"/><stop offset="0.556" stop-color="#60c961"/><stop offset="0.611" stop-color="#52c469"/><stop offset="0.667" stop-color="#46bf70"/><stop offset="0.722" stop-color="#3ab976"/><stop offset="0.778" stop-color="#30b37c"/><stop offset="0.833" stop-color="#28ad80"/><stop offset="0.889" stop-color="#22a884"/><stop offset="0.944" stop-color="#21a486"/><stop offset="1.000" stop-color="#21a187"/></linearGradient>
<linearGradient id="ga41" x1="0" y1="0" x2="0" y2="1"><stop offset="0.000" stop-color="#b1dd2f"/><stop offset="0.056" stop-color="#b3dd2e"/><stop offset="0.111" stop-color="#afdd30"/><stop offset="0.167" stop-color="#a6db36"/><stop offset="0.222" stop-color="#99d83e"/><stop offset="0.278" stop-color="#8cd546"/><stop offset="0.333" stop-color="#82d34c"/><stop offset="0.389" stop-color="#7ad151"/><stop offset="0.444" stop-color="#72cf56"/><stop offset="0.500" stop-color="#69cc5b"/><stop offset="0.556" stop-color="#5dc862"/><stop offset="0.611" stop-color="#51c46a"/><stop offset="0.667" stop-color="#45be70"/><stop offset="0.722" stop-color="#39b977"/><stop offset="0.778" stop-color="#30b37c"/><stop offset="0.833" stop-color="#29ad80"/><stop offset="0.889" stop-color="#23a984"/><stop offset="0.944" stop-color="#21a585"/><stop offset="1.000" stop-color="#21a287"/></linearGradient>
<linearGradient id="ga42" x1="0" y1="0" x2="0" y2="1"><stop offset="0.000" stop-color="#acdc32"/><stop offset="0.056" stop-color="#addc31"/><stop offset="0.111" stop-color="#a9dc33"/><stop offset="0.167" stop-color="#a0da39"/><stop offset="0.222" stop-color="#94d741"/><stop offset="0.278" stop-color="#88d448"/><stop offset="0.333" stop-color="#7ed24f"/><stop offset="0.389" stop-color="#76d053"/><stop offset="0.444" stop-color="#6fce58"/><stop offset="0.500" stop-color="#66cb5d"/><stop offset="0.556" stop-color="#5bc764"/><stop offset="0.611" stop-color="#4fc36b"/><stop offset="0.667" stop-color="#44be71"/><stop offset="0.722" stop-color="#38b877"/><stop offset="0.778" stop-color="#2fb37c"/><stop offset="0.833" stop-color="#29ad80"/><stop offset="0.889" stop-color="#23a983"/><stop offset="0.944" stop-color="#21a585"/><stop offset="1.000" stop-color="#21a286"/></linearGradient>
<linearGradient id="ga43" x1="0" y1="0" x2="0" y2="1"><stop offset="0.000" stop-color="#a6db36"/><stop offset="0.056" stop-color="#a7db35"/><stop offset="0.111" stop-color="#a3db37"/><stop offset="0.167" stop-color="#9bd93c"/><stop offset="0.222" stop-color="#8ed644"/><stop offset="0.278" stop-color="#83d34c"/><stop offset="0.333" stop-color="#79d152"/><stop offset="0.389" stop-color="#72cf56"/><stop offset="0.444" stop-color="#6bcc5a"/><stop offset="0.500" stop-color="#63ca5f"/><stop offset="0.556" stop-color="#58c666"/><stop offset="0.611" stop-color="#4dc26c"/><stop offset="0.667" stop-color="#43bd71"/><stop offset="0.722" stop-color="#37b878"/><stop offset="0.778" stop-color="#2fb27c"/><stop offset="0.833" stop-color="#29ad80"/><stop offset="0.889" stop-color="#23a983"/><stop offset="0.944" stop-color="#22a585"/><stop offset="1.000" stop-color="#21a386"/></linearGradient>
<linearGradient id="ga44" x1="0" y1="0" x2="0" y2="1"><stop offset="0.000" stop-color="#9fda39"/><stop offset="0.056" stop-color="#a1da39"/><stop offset="0.111" stop-color="#9dd93b"/><stop offset="0.167" stop-color="#95d740"/><stop offset="0.222" stop-color="#89d448"/><stop offset="0.278" stop-color="#7dd24f"/><stop offset="0.333" stop-color="#75cf54"/><stop offset="0.389" stop-color="#6ecd58"/><stop offset="0.444" stop-color="#67cb5c"/><stop offset="0.500" stop-color="#5fc861"/><stop offset="0.556" stop-color="#55c567"/><stop offset="0.611" stop-color="#4bc16d"/><stop offset="0.667" stop-color="#41bd72"/><stop offset="0.722" stop-color="#37b878"/><stop offset="0.778" stop-color="#2fb27c"/><stop offset="0.833" stop-color="#29ad80"/><stop offset="0.889" stop-color="#23a983"/><stop offset="0.944" stop-color="#22a685"/><stop offset="1.000" stop-color="#21a386"/></linearGradient>
<linearGradient id="ga45" x1="0" y1="0" x2="0" y2="1"><stop offset="0.000" stop-color="#99d83e"/><stop offset="0.056" stop-color="#9ad93d"/><stop offset="0.111" stop-color="#97d83f"/><stop offset="0.167" stop-color="#8fd644"/><stop offset="0.222" stop-color="#83d34b"/><stop offset="0.278" stop-color="#78d052"/><stop offset="0.333" stop-color="#70ce57"/><stop offset="0.389" stop-color="#69cc5b"/><stop offset="0.444" stop-color="#63ca5f"/><stop offset="0.500" stop-color="#5bc764"/><stop offset="0.556" stop-color="#52c469"/><stop offset="0.611" stop-color="#49c06e"/><stop offset="0.667" stop-color="#40bc73"/><stop offset="0.722" stop-color="#36b779"/><stop offset="0.778" stop-color="#2fb27d"/><stop offset="0.833" stop-color="#29ad80"/><stop offset="0.889" stop-color="#24a983"/><stop offset="0.944" stop-color="#22a685"/><stop offset="1.000" stop-color="#21a386"/></linearGradient>
<linearGradient id="ga46" x1="0" y1="0" x2="0" y2="1"><stop offset="0.000" stop-color="#92d742"/><stop offset="0.056" stop-color="#93d741"/><stop offset="0.111" stop-color="#90d643"/><stop offset="0.167" stop-color="#88d448"/><stop offset="0.222" stop-color="#7dd24f"/><stop offset="0.278" stop-color="#73cf55"/><stop offset="0.333" stop-color="#6bcc5a"/><stop offset="0.389" stop-color="#65ca5e"/><stop offset="0.444" stop-color="#5fc862"/><stop offset="0.500" stop-color="#57c666"/><stop offset="0.556" stop-color="#4fc36b"/><stop offset="0.611" stop-color="#47bf6f"/><stop offset="0.667" stop-color="#3ebb74"/><stop offset="0.722" stop-color="#35b779"/><stop offset="0.778" stop-color="#2eb27d"/><stop offset="0.833" stop-color="#29ad80"/><stop offset="0.889" stop-color="#24a983"/><stop offset="0.944" stop-color="#22a685"/><stop offset="1.000" stop-color="#21a486"/></linearGradient>
<linearGradient id="ga47" x1="0" y1="0" x2="0" y2="1"><stop offset="0.000" stop-color="#8bd546"/><stop offset="0.056" stop-color="#8cd546"/><stop offset="0.111" stop-color="#89d548"/><stop offset="0.167" stop-color="#82d34c"/><stop offset="0.222" stop-color="#77d053"/><stop offset="0.278" stop-color="#6dcd59"/><stop offset="0.333" stop-color="#66cb5d"/><stop offset="0.389" stop-color="#60c961"/><stop offset="0.444" stop-color="#5ac764"/><stop offset="0.500" stop-color="#53c569"/><stop offset="0.556" stop-color="#4cc26c"/><stop offset="0.611" stop-color="#45be70"/><stop offset="0.667" stop-color="#3cba75"/><stop offset="0.722" stop-color="#34b67a"/><stop offset="0.778" stop-color="#2eb27d"/><stop offset="0.833" stop-color="#29ad80"/><stop offset="0.889" stop-color="#24aa83"/><stop offset="0.944" stop-color="#22a685"/><stop offset="1.000" stop-color="#21a486"/></linearGradient>
<linearGradient id="ga48" x1="0" y1="0" x2="0" y2="1"><stop offset="0.000" stop-color="#83d34b"/><stop offset="0.056" stop-color="#85d34a"/><stop offset="0.111" stop-color="#82d34c"/><stop offset="0.167" stop-color="#7ad151"/><stop offset="0.222" stop-color="#71ce57"/><stop offset="0.278" stop-color="#68cb5c"/><stop offset="0.333" stop-color="#61c960"/><stop offset="0.389" stop-color="#5bc764"/><stop offset="0.444" stop-color="#55c567"/><stop offset="0.500" stop-color="#4fc36a"/><stop offset="0.556" stop-color="#49c06e"/><stop offset="0.611" stop-color="#42bd72"/><stop offset="0.667" stop-color="#3ab976"/><stop offset="0.722" stop-color="#33b67a"/><stop offset="0.778" stop-color="#2eb17d"/><stop offset="0.833" stop-color="#28ad80"/><stop offset="0.889" stop-color="#24aa83"/><stop offset="0.944" stop-color="#22a685"/><stop offset="1.000" stop-color="#21a486"/></linearGradient>
<linearGradient id="ga49" x1="0" y1="0" x2="0" y2="1"><stop offset="0.000" stop-color="#7bd150"/><stop offset="0.056" stop-color="#7dd24f"/><stop offset="0.111" stop-color="#7ad151"/><stop offset="0.167" stop-color="#74cf55"/><stop offset="0.222" stop-color="#6acc5a"/><stop offset="0.278" stop-color="#62c960"/><stop offset="0.333" stop-color="#5bc764"/><stop offset="0.389" stop-color="#56c567"/><stop offset="0.444" stop-color="#51c46a"/><stop offset="0.500" stop-color="#4cc16c"/><stop offset="0.556" stop-color="#46bf70"/><stop offset="0.611" stop-color="#3fbc73"/><stop offset="0.667" stop-color="#38b877"/><stop offset="0.722" stop-color="#32b57b"/><stop offset="0.778" stop-color="#2db17e"/><stop offset="0.833" stop-color="#28ad80"/><stop offset="0.889" stop-color="#24a983"/><stop offset="0.944" stop-color="#22a685"/><stop offset="1.000" stop-color="#21a486"/></linearGradient>
<linearGradient id="ga50" x1="0" y1="0" x2="0" y2="1"><stop offset="0.000" stop-color="#74cf55"/><stop offset="0.056" stop-color="#75cf54"/><stop offset="0.111" stop-color="#72cf56"/><stop offset="0.167" stop-color="#6dcd59"/><stop offset="0.222" stop-color="#64ca5e"/><stop offset="0.278" stop-color="#5cc863"/><stop offset="0.333" stop-color="#55c567"/><stop offset="0.389" stop-color="#51c46a"/><stop offset="0.444" stop-color="#4dc26c"/><stop offset="0.500" stop-color="#48c06f"/><stop offset="0.556" stop-color="#43bd71"/><stop offset="0.611" stop-color="#3dba75"/><stop offset="0.667" stop-color="#36b778"/><stop offset="0.722" stop-color="#31b47b"/><stop offset="0.778" stop-color="#2cb07e"/><stop offset="0.833" stop-color="#28ad81"/><stop offset="0.889" stop-color="#24a983"/><stop offset="0.944" stop-color="#22a685"/><stop offset="1.000" stop-color="#21a486"/></linearGradient>
<linearGradient id="ga51" x1="0" y1="0" x2="0" y2="1"><stop offset="0.000" stop-color="#6ccd59"/><stop offset="0.056" stop-color="#6dcd59"/><stop offset="0.111" stop-color="#6bcc5a"/><stop offset="0.167" stop-color="#65ca5d"/><stop offset="0.222" stop-color="#5dc862"/><stop offset="0.278" stop-color="#56c667"/><stop offset="0.333" stop-color="#50c36a"/><stop offset="0.389" stop-color="#4dc26c"/><stop offset="0.444" stop-color="#49c06e"/><stop offset="0.500" stop-color="#44be71"/><stop offset="0.556" stop-color="#3fbc73"/><stop offset="0.611" stop-color="#3ab976"/><stop offset="0.667" stop-color="#34b67a"/><stop offset="0.722" stop-color="#30b37c"/><stop offset="0.778" stop-color="#2cb07e"/><stop offset="0.833" stop-color="#27ac81"/><stop offset="0.889" stop-color="#23a983"/><stop offset="0.944" stop-color="#22a685"/><stop offset="1.000" stop-color="#21a486"/></linearGradient>
<linearGradient id="ga52" x1="0" y1="0" x2="0" y2="1"><stop offset="0.000" stop-color="#64ca5e"/><stop offset="0.056" stop-color="#65ca5e"/><stop offset="0.111" stop-color="#63ca5f"/><stop offset="0.167" stop-color="#5ec862"/><stop offset="0.222" stop-color="#56c667"/><stop offset="0.278" stop-color="#50c36a"/><stop offset="0.333" stop-color="#4cc16d"/><stop offset="0.389" stop-color="#48c06f"/><stop offset="0.444" stop-color="#45be70"/><stop offset="0.500" stop-color="#41bc73"/><stop offset="0.556" stop-color="#3cba75"/><stop offset="0.611" stop-color="#37b878"/><stop offset="0.667" stop-color="#33b57a"/><stop offset="0.722" stop-color="#2fb27d"/><stop offset="0.778" stop-color="#2baf7f"/><stop offset="0.833" stop-color="#27ac81"/><stop offset="0.889" stop-color="#23a983"/><stop offset="0.944" stop-color="#22a685"/><stop offset="1.000" stop-color="#21a486"/></linearGradient>
<linearGradient id="ga53" x1="0" y1="0" x2="0" y2="1"><stop offset="0.000" stop-color="#5cc763"/><stop offset="0.056" stop-color="#5cc863"/><stop offset="0.111" stop-color="#5ac764"/><stop offset="0.167" stop-color="#56c667"/><stop offset="0.222" stop-color="#50c36a"/><stop offset="0.278" stop-color="#4bc16d"/><stop offset="0.333" stop-color="#47bf6f"/><stop offset="0.389" stop-color="#43bd71"/><stop offset="0.444" stop-color="#40bc73"/><stop offset="0.500" stop-color="#3dba75"/><stop offset="0.556" stop-color="#38b977"/><stop offset="0.611" stop-color="#34b67a"/><stop offset="0.667" stop-color="#31b47b"/><stop offset="0.722" stop-color="#2db17d"/><stop offset="0.778" stop-color="#2aae80"/><stop offset="0.833" stop-color="#26ab82"/><stop offset="0.889" stop-color="#23a884"/><stop offset="0.944" stop-color="#22a685"/><stop offset="1.000" stop-color="#21a486"/></linearGradient>
<linearGradient id="ga54" x1="0" y1="0" x2="0" y2="1"><stop offset="0.000" stop-color="#53c569"/><stop offset="0.056" stop-color="#54c568"/><stop offset="0.111" stop-color="#52c469"/><stop offset="0.167" stop-color="#4fc36b"/><stop offset="0.222" stop-color="#4ac06e"/><stop offset="0.278" stop-color="#45be70"/><stop offset="0.333" stop-color="#41bd72"/><stop offset="0.389" stop-color="#3fbb74"/><stop offset="0.444" stop-color="#3cba75"/><stop offset="0.500" stop-color="#39b977"/><stop offset="0.556" stop-color="#35b779"/><stop offset="0.611" stop-color="#32b57b"/><stop offset="0.667" stop-color="#2fb27c"/><stop offset="0.722" stop-color="#2cb07e"/><stop offset="0.778" stop-color="#29ad80"/><stop offset="0.833" stop-color="#25aa82"/><stop offset="0.889" stop-color="#22a884"/><stop offset="0.944" stop-color="#22a685"/><stop offset="1.000" stop-color="#21a486"/></linearGradient>
<linearGradient id="ga55" x1="0" y1="0" x2="0" y2="1"><stop offset="0.000" stop-color="#4cc16d"/><stop offset="0.056" stop-color="#4cc16c"/><stop offset="0.111" stop-color="#4bc16d"/><stop offset="0.167" stop-color="#48c06f"/><stop offset="0.222" stop-color="#43be71"/><stop offset="0.278" stop-color="#3fbc73"/><stop offset="0.333" stop-color="#3cba75"/><stop offset="0.389" stop-color="#3ab976"/><stop offset="0.444" stop-color="#38b878"/><stop offset="0.500" stop-color="#35b779"/><stop offset="0.556" stop-color="#33b57a"/><stop offset="0.611" stop-color="#30b37c"/><stop offset="0.667" stop-color="#2db17d"/><stop offset="0.722" stop-color="#2aaf7f"/><stop offset="0.778" stop-color="#27ac81"/><stop offset="0.833" stop-color="#24aa83"/><stop offset="0.889" stop-color="#22a884"/><stop offset="0.944" stop-color="#22a585"/><stop offset="1.000" stop-color="#21a386"/></linearGradient>
<linearGradient id="ga56" x1="0" y1="0" x2="0" y2="1"><stop offset="0.000" stop-color="#44be71"/><stop offset="0.056" stop-color="#44be71"/><stop offset="0.111" stop-color="#43bd71"/><stop offset="0.167" stop-color="#41bc73"/><stop offset="0.222" stop-color="#3dbb75"/><stop offset="0.278" stop-color="#39b977"/><stop offset="0.333" stop-color="#37b878"/><stop offset="0.389" stop-color="#35b779"/><stop offset="0.444" stop-color="#34b67a"/><stop offset="0.500" stop-color="#32b57b"/><stop offset="0.556" stop-color="#30b37c"/><stop offset="0.611" stop-color="#2eb17d"/><stop offset="0.667" stop-color="#2baf7f"/><stop offset="0.722" stop-color="#29ad80"/><stop offset="0.778" stop-color="#26ab82"/><stop offset="0.833" stop-color="#23a983"/><stop offset="0.889" stop-color="#22a784"/><stop offset="0.944" stop-color="#21a585"/><stop offset="1.000" stop-color="#21a386"/></linearGradient>
<linearGradient id="ga57" x1="0" y1="0" x2="0" y2="1"><stop offset="0.000" stop-color="#3cba75"/><stop offset="0.056" stop-color="#3cba75"/><stop offset="0.111" stop-color="#3bba75"/><stop offset="0.167" stop-color="#39b977"/><stop offset="0.222" stop-color="#36b778"/><stop offset="0.278" stop-color="#34b67a"/><stop offset="0.333" stop-color="#33b57a"/><stop offset="0.389" stop-color="#32b57b"/><stop offset="0.444" stop-color="#31b47b"/><stop offset="0.500" stop-color="#30b37c"/><stop offset="0.556" stop-color="#2eb17d"/><stop offset="0.611" stop-color="#2cb07e"/><stop offset="0.667" stop-color="#29ae80"/><stop offset="0.722" stop-color="#27ac81"/><stop offset="0.778" stop-color="#25aa83"/><stop offset="0.833" stop-color="#22a884"/><stop offset="0.889" stop-color="#22a685"/><stop offset="0.944" stop-color="#21a486"/><stop offset="1.000" stop-color="#21a386"/></linearGradient>
<linearGradient id="ga58" x1="0" y1="0" x2="0" y2="1"><stop offset="0.000" stop-color="#34b679"/><stop offset="0.056" stop-color="#34b779"/><stop offset="0.111" stop-color="#34b67a"/><stop offset="0.167" stop-color="#33b57a"/><stop offset="0.222" stop-color="#31b47b"/><stop offset="0.278" stop-color="#30b37c"/><stop offset="0.333" stop-color="#2fb27c"/><stop offset="0.389" stop-color="#2fb27d"/><stop offset="0.444" stop-color="#2eb27d"/><stop offset="0.500" stop-color="#2db17e"/><stop offset="0.556" stop-color="#2baf7f"/><stop offset="0.611" stop-color="#29ae80"/><stop offset="0.667" stop-color="#27ac81"/><stop offset="0.722" stop-color="#25aa82"/><stop offset="0.778" stop-color="#23a983"/><stop offset="0.833" stop-color="#22a784"/><stop offset="0.889" stop-color="#22a585"/><stop offset="0.944" stop-color="#21a486"/><stop offset="1.000" stop-color="#21a286"/></linearGradient>
<linearGradient id="ga59" x1="0" y1="0" x2="0" y2="1"><stop offset="0.000" stop-color="#2fb27c"/><stop offset="0.056" stop-color="#2fb27c"/><stop offset="0.111" stop-color="#2fb27d"/><stop offset="0.167" stop-color="#2eb27d"/><stop offset="0.222" stop-color="#2db17e"/><stop offset="0.278" stop-color="#2cb07e"/><stop offset="0.333" stop-color="#2baf7f"/><stop offset="0.389" stop-color="#2baf7f"/><stop offset="0.444" stop-color="#2baf7f"/><stop offset="0.500" stop-color="#2aae7f"/><stop offset="0.556" stop-color="#29ad80"/><stop offset="0.611" stop-color="#27ac81"/><stop offset="0.667" stop-color="#25aa82"/><stop offset="0.722" stop-color="#23a983"/><stop offset="0.778" stop-color="#22a784"/><stop offset="0.833" stop-color="#22a685"/><stop offset="0.889" stop-color="#21a586"/><stop offset="0.944" stop-color="#21a386"/><stop offset="1.000" stop-color="#21a287"/></linearGradient>
<linearGradient id="ga60" x1="0" y1="0" x2="0" y2="1"><stop offset="0.000" stop-color="#2aae7f"/><stop offset="0.056" stop-color="#2aae7f"/><stop offset="0.111" stop-color="#2aae80"/><stop offset="0.167" stop-color="#29ae80"/><stop offset="0.222" stop-color="#28ad80"/><stop offset="0.278" stop-color="#28ad81"/><stop offset="0.333" stop-color="#28ac81"/><stop offset="0.389" stop-color="#28ad81"/><stop offset="0.444" stop-color="#28ad81"/><stop offset="0.500" stop-color="#27ac81"/><stop offset="0.556" stop-color="#26ab82"/><stop offset="0.611" stop-color="#24aa83"/><stop offset="0.667" stop-color="#23a984"/><stop offset="0.722" stop-color="#22a784"/><stop offset="0.778" stop-color="#22a685"/><stop offset="0.833" stop-color="#21a585"/><stop offset="0.889" stop-color="#21a486"/><stop offset="0.944" stop-color="#21a286"/><stop offset="1.000" stop-color="#21a187"/></linearGradient>
<linearGradient id="ga61" x1="0" y1="0" x2="0" y2="1"><stop offset="0.000" stop-color="#25aa83"/><stop offset="0.056" stop-color="#25aa82"/><stop offset="0.111" stop-color="#24aa83"/><stop offset="0.167" stop-color="#24aa83"/><stop offset="0.222" stop-color="#24a983"/><stop offset="0.278" stop-color="#23a983"/><stop offset="0.333" stop-color="#23a983"/><stop offset="0.389" stop-color="#24aa83"/><stop offset="0.444" stop-color="#24aa83"/><stop offset="0.500" stop-color="#24aa83"/><stop offset="0.556" stop-color="#23a983"/><stop offset="0.611" stop-color="#22a884"/><stop offset="0.667" stop-color="#22a785"/><stop offset="0.722" stop-color="#22a585"/><stop offset="0.778" stop-color="#21a486"/><stop offset="0.833" stop-color="#21a386"/><stop offset="0.889" stop-color="#21a286"/><stop offset="0.944" stop-color="#21a187"/><stop offset="1.000" stop-color="#21a087"/></linearGradient>
<linearGradient id="ga62" x1="0" y1="0" x2="0" y2="1"><stop offset="0.000" stop-color="#22a685"/><stop offset="0.056" stop-color="#22a685"/><stop offset="0.111" stop-color="#22a685"/><stop offset="0.167" stop-color="#22a585"/><stop offset="0.222" stop-color="#21a585"/><stop offset="0.278" stop-color="#21a585"/><stop offset="0.333" stop-color="#22a685"/><stop offset="0.389" stop-color="#22a685"/><stop offset="0.444" stop-color="#22a784"/><stop offset="0.500" stop-color="#22a784"/><stop offset="0.556" stop-color="#22a685"/><stop offset="0.611" stop-color="#22a585"/><stop offset="0.667" stop-color="#21a486"/><stop offset="0.722" stop-color="#21a486"/><stop offset="0.778" stop-color="#21a386"/><stop offset="0.833" stop-color="#21a287"/><stop offset="0.889" stop-color="#21a187"/><stop offset="0.944" stop-color="#21a087"/><stop offset="1.000" stop-color="#209f88"/></linearGradient>
<linearGradient id="ga63" x1="0" y1="0" x2="0" y2="1"><stop offset="0.000" stop-color="#21a187"/><stop offset="0.056" stop-color="#21a187"/><stop offset="0.111" stop-color="#21a187"/><stop offset="0.167" stop-color="#21a187"/><stop offset="0.222" stop-color="#21a187"/><stop offset="0.278" stop-color="#21a187"/><stop offset="0.333" stop-color="#21a287"/><stop offset="0.389" stop-color="#21a386"/><stop offset="0.444" stop-color="#21a486"/><stop offset="0.500" stop-color="#21a486"/><stop offset="0.556" stop-color="#21a486"/><stop offset="0.611" stop-color="#21a386"/><stop offset="0.667" stop-color="#21a287"/><stop offset="0.722" stop-color="#21a287"/><stop offset="0.778" stop-color="#21a187"/><stop offset="0.833" stop-color="#21a087"/><stop offset="0.889" stop-color="#20a088"/><stop offset="0.944" stop-color="#209f88"/><stop offset="1.000" stop-color="#209e88"/></linearGradient>
<linearGradient id="ga64" x1="0" y1="0" x2="0" y2="1"><stop offset="0.000" stop-color="#209c89"/><stop offset="0.056" stop-color="#209c89"/><stop offset="0.111" stop-color="#209c89"/><stop offset="0.167" stop-color="#209c89"/><stop offset="0.222" stop-color="#209c89"/><stop offset="0.278" stop-color="#209d89"/><stop offset="0.333" stop-color="#209e88"/><stop offset="0.389" stop-color="#209f88"/><stop offset="0.444" stop-color="#21a187"/><stop offset="0.500" stop-color="#21a187"/><stop offset="0.556" stop-color="#21a187"/><stop offset="0.611" stop-color="#21a187"/><stop offset="0.667" stop-color="#20a088"/><stop offset="0.722" stop-color="#20a088"/><stop offset="0.778" stop-color="#209f88"/><stop offset="0.833" stop-color="#209f88"/><stop offset="0.889" stop-color="#209e88"/><stop offset="0.944" stop-color="#209e89"/><stop offset="1.000" stop-color="#209d89"/></linearGradient>
<linearGradient id="ga65" x1="0" y1="0" x2="0" y2="1"><stop offset="0.000" stop-color="#1f978b"/><stop offset="0.056" stop-color="#1f978b"/><stop offset="0.111" stop-color="#1f978b"/><stop offset="0.167" stop-color="#1f988b"/><stop offset="0.222" stop-color="#1f988b"/><stop offset="0.278" stop-color="#1f998b"/><stop offset="0.333" stop-color="#1f9a8a"/><stop offset="0.389" stop-color="#209c89"/><stop offset="0.444" stop-color="#209d89"/><stop offset="0.500" stop-color="#209e88"/><stop offset="0.556" stop-color="#209e88"/><stop offset="0.611" stop-color="#209e88"/><stop offset="0.667" stop-color="#209e89"/><stop offset="0.722" stop-color="#209d89"/><stop offset="0.778" stop-color="#209d89"/><stop offset="0.833" stop-color="#209d89"/><stop offset="0.889" stop-color="#209d89"/><stop offset="0.944" stop-color="#209c89"/><stop offset="1.000" stop-color="#209c89"/></linearGradient>
<linearGradient id="ga66" x1="0" y1="0" x2="0" y2="1"><stop offset="0.000" stop-color="#20938c"/><stop offset="0.056" stop-color="#20938c"/><stop offset="0.111" stop-color="#20938c"/><stop offset="0.167" stop-color="#20938c"/><stop offset="0.222" stop-color="#20938c"/><stop offset="0.278" stop-color="#20948c"/><stop offset="0.333" stop-color="#20968b"/><stop offset="0.389" stop-color="#1f988b"/><stop offset="0.444" stop-color="#1f9a8a"/><stop offset="0.500" stop-color="#209b8a"/><stop offset="0.556" stop-color="#209b8a"/><stop offset="0.611" stop-color="#209b8a"/><stop offset="0.667" stop-color="#209b8a"/><stop offset="0.722" stop-color="#209b8a"/><stop offset="0.778" stop-color="#209b8a"/><stop offset="0.833" stop-color="#209b8a"/><stop offset="0.889" stop-color="#209b8a"/><stop offset="0.944" stop-color="#209b8a"/><stop offset="1.000" stop-color="#1f9a8a"/></linearGradient>
<linearGradient id="ga67" x1="0" y1="0" x2="0" y2="1"><stop offset="0.000" stop-color="#228e8d"/><stop offset="0.056" stop-color="#228e8d"/><stop offset="0.111" stop-color="#228e8d"/><stop offset="0.167" stop-color="#228e8d"/><stop offset="0.222" stop-color="#218e8d"/><stop offset="0.278" stop-color="#218f8d"/><stop offset="0.333" stop-color="#21918c"/><stop offset="0.389" stop-color="#20948c"/><stop offset="0.444" stop-color="#20968b"/><stop offset="0.500" stop-color="#1f978b"/><stop offset="0.556" stop-color="#1f988b"/><stop offset="0.611" stop-color="#1f988b"/><stop offset="0.667" stop-color="#1f998b"/><stop offset="0.722" stop-color="#1f998b"/><stop offset="0.778" stop-color="#1f998a"/><stop offset="0.833" stop-color="#1f998a"/><stop offset="0.889" stop-color="#1f998a"/><stop offset="0.944" stop-color="#1f998b"/><stop offset="1.000" stop-color="#1f988b"/></linearGradient>
<linearGradient id="ga68" x1="0" y1="0" x2="0" y2="1"><stop offset="0.000" stop-color="#23898e"/><stop offset="0.056" stop-color="#23898e"/><stop offset="0.111" stop-color="#23898e"/><stop offset="0.167" stop-color="#23898e"/><stop offset="0.222" stop-color="#23898e"/><stop offset="0.278" stop-color="#228b8e"/><stop offset="0.333" stop-color="#228d8d"/><stop offset="0.389" stop-color="#218f8d"/><stop offset="0.444" stop-color="#20928c"/><stop offset="0.500" stop-color="#20948c"/><stop offset="0.556" stop-color="#20958c"/><stop offset="0.611" stop-color="#20968b"/><stop offset="0.667" stop-color="#20968b"/><stop offset="0.722" stop-color="#1f968b"/><stop offset="0.778" stop-color="#1f978b"/><stop offset="0.833" stop-color="#1f978b"/><stop offset="0.889" stop-color="#1f978b"/><stop offset="0.944" stop-color="#1f978b"/><stop offset="1.000" stop-color="#1f978b"/></linearGradient>
<linearGradient id="ga69" x1="0" y1="0" x2="0" y2="1"><stop offset="0.000" stop-color="#25848e"/><stop offset="0.056" stop-color="#25838e"/><stop offset="0.111" stop-color="#25848e"/><stop offset="0.167" stop-color="#25848e"/><stop offset="0.222" stop-color="#25848e"/><stop offset="0.278" stop-color="#24868e"/><stop offset="0.333" stop-color="#23888e"/><stop offset="0.389" stop-color="#228b8d"/><stop offset="0.444" stop-color="#218e8d"/><stop offset="0.500" stop-color="#21908c"/><stop offset="0.556" stop-color="#21928c"/><stop offset="0.611" stop-color="#20938c"/><stop offset="0.667" stop-color="#20938c"/><stop offset="0.722" stop-color="#20948c"/><stop offset="0.778" stop-color="#20958c"/><stop offset="0.833" stop-color="#20958c"/><stop offset="0.889" stop-color="#20958b"/><stop offset="0.944" stop-color="#20958c"/><stop offset="1.000" stop-color="#20958c"/></linearGradient>
<linearGradient id="ga70" x1="0" y1="0" x2="0" y2="1"><stop offset="0.000" stop-color="#277f8e"/><stop offset="0.056" stop-color="#277e8e"/><stop offset="0.111" stop-color="#277e8e"/><stop offset="0.167" stop-color="#277f8e"/><stop offset="0.222" stop-color="#277f8e"/><stop offset="0.278" stop-color="#26818e"/><stop offset="0.333" stop-color="#25838e"/><stop offset="0.389" stop-color="#24878e"/><stop offset="0.444" stop-color="#228a8e"/><stop offset="0.500" stop-color="#228d8d"/><stop offset="0.556" stop-color="#218f8d"/><stop offset="0.611" stop-color="#21908d"/><stop offset="0.667" stop-color="#21918c"/><stop offset="0.722" stop-color="#21928c"/><stop offset="0.778" stop-color="#20928c"/><stop offset="0.833" stop-color="#20938c"/><stop offset="0.889" stop-color="#20938c"/><stop offset="0.944" stop-color="#20938c"/><stop offset="1.000" stop-color="#20938c"/></linearGradient>
<linearGradient id="ga71" x1="0" y1="0" x2="0" y2="1"><stop offset="0.000" stop-color="#297a8e"/><stop offset="0.056" stop-color="#29798e"/><stop offset="0.111" stop-color="#29798e"/><stop offset="0.167" stop-color="#297a8e"/><stop offset="0.222" stop-color="#297b8e"/><stop offset="0.278" stop-color="#287c8e"/><stop offset="0.333" stop-color="#277f8e"/><stop offset="0.389" stop-color="#25838e"/><stop offset="0.444" stop-color="#24868e"/><stop offset="0.500" stop-color="#23898e"/><stop offset="0.556" stop-color="#228b8d"/><stop offset="0.611" stop-color="#228d8d"/><stop offset="0.667" stop-color="#228e8d"/><stop offset="0.722" stop-color="#218f8d"/><stop offset="0.778" stop-color="#21908c"/><stop offset="0.833" stop-color="#21918c"/><stop offset="0.889" stop-color="#21918c"/><stop offset="0.944" stop-color="#21918c"/><stop offset="1.000" stop-color="#21918c"/></linearGradient>
<linearGradient id="ga72" x1="0" y1="0" x2="0" y2="1"><stop offset="0.000" stop-color="#2c758e"/><stop offset="0.056" stop-color="#2c748e"/><stop offset="0.111" stop-color="#2c748e"/><stop offset="0.167" stop-color="#2b758e"/><stop offset="0.222" stop-color="#2b768e"/><stop offset="0.278" stop-color="#2a788e"/><stop offset="0.333" stop-color="#297b8e"/><stop offset="0.389" stop-color="#277f8e"/><stop offset="0.444" stop-color="#25838e"/><stop offset="0.500" stop-color="#24868e"/><stop offset="0.556" stop-color="#23888e"/><stop offset="0.611" stop-color="#238a8e"/><stop offset="0.667" stop-color="#228b8d"/><stop offset="0.722" stop-color="#228c8d"/><stop offset="0.778" stop-color="#228e8d"/><stop offset="0.833" stop-color="#218f8d"/><stop offset="0.889" stop-color="#218f8d"/><stop offset="0.944" stop-color="#218f8d"/><stop offset="1.000" stop-color="#218f8d"/></linearGradient>
<linearGradient id="ga73" x1="0" y1="0" x2="0" y2="1"><stop offset="0.000" stop-color="#2e708e"/><stop offset="0.056" stop-color="#2e6f8e"/><stop offset="0.111" stop-color="#2e708e"/><stop offset="0.167" stop-color="#2d708e"/><stop offset="0.222" stop-color="#2d718e"/><stop offset="0.278" stop-color="#2c738e"/><stop offset="0.333" stop-color="#2b768e"/><stop offset="0.389" stop-color="#297b8e"/><stop offset="0.444" stop-color="#277f8e"/><stop offset="0.500" stop-color="#25838e"/><stop offset="0.556" stop-color="#24858e"/><stop offset="0.611" stop-color="#24878e"/><stop offset="0.667" stop-color="#23888e"/><stop offset="0.722" stop-color="#238a8e"/><stop offset="0.778" stop-color="#228b8d"/><stop offset="0.833" stop-color="#228c8d"/><stop offset="0.889" stop-color="#228d8d"/><stop offset="0.944" stop-color="#228d8d"/><stop offset="1.000" stop-color="#228d8d"/></linearGradient>
<linearGradient id="ga74" x1="0" y1="0" x2="0" y2="1"><stop offset="0.000" stop-color="#306a8e"/><stop offset="0.056" stop-color="#306a8e"/><stop offset="0.111" stop-color="#306b8e"/><stop offset="0.167" stop-color="#306b8e"/><stop offset="0.222" stop-color="#2f6d8e"/><stop offset="0.278" stop-color="#2e6f8e"/><stop offset="0.333" stop-color="#2d728e"/><stop offset="0.389" stop-color="#2a778e"/><stop offset="0.444" stop-color="#287c8e"/><stop offset="0.500" stop-color="#277f8e"/><stop offset="0.556" stop-color="#26828e"/><stop offset="0.611" stop-color="#25848e"/><stop offset="0.667" stop-color="#24858e"/><stop offset="0.722" stop-color="#23878e"/><stop offset="0.778" stop-color="#23898e"/><stop offset="0.833" stop-color="#228a8e"/><stop offset="0.889" stop-color="#228b8d"/><stop offset="0.944" stop-color="#228b8d"/><stop offset="1.000" stop-color="#228b8d"/></linearGradient>
<linearGradient id="ga75" x1="0" y1="0" x2="0" y2="1"><stop offset="0.000" stop-color="#32658e"/><stop offset="0.056" stop-color="#32658e"/><stop offset="0.111" stop-color="#32668e"/><stop offset="0.167" stop-color="#32678e"/><stop offset="0.222" stop-color="#31688e"/><stop offset="0.278" stop-color="#306b8e"/><stop offset="0.333" stop-color="#2e6e8e"/><stop offset="0.389" stop-color="#2c738e"/><stop offset="0.444" stop-color="#2a788e"/><stop offset="0.500" stop-color="#287c8e"/><stop offset="0.556" stop-color="#277f8e"/><stop offset="0.611" stop-color="#26818e"/><stop offset="0.667" stop-color="#25828e"/><stop offset="0.722" stop-color="#25848e"/><stop offset="0.778" stop-color="#24868e"/><stop offset="0.833" stop-color="#23888e"/><stop offset="0.889" stop-color="#23898e"/><stop offset="0.944" stop-color="#23898e"/><stop offset="1.000" stop-color="#23898e"/></linearGradient>
<linearGradient id="ga76" x1="0" y1="0" x2="0" y2="1"><stop offset="0.000" stop-color="#35608d"/><stop offset="0.056" stop-color="#35608d"/><stop offset="0.111" stop-color="#34608d"/><stop offset="0.167" stop-color="#34618d"/><stop offset="0.222" stop-color="#33638d"/><stop offset="0.278" stop-color="#32668e"/><stop offset="0.333" stop-color="#306a8e"/><stop offset="0.389" stop-color="#2e6f8e"/><stop offset="0.444" stop-color="#2b758e"/><stop offset="0.500" stop-color="#2a798e"/><stop offset="0.556" stop-color="#287c8e"/><stop offset="0.611" stop-color="#287e8e"/><stop offset="0.667" stop-color="#27808e"/><stop offset="0.722" stop-color="#26828e"/><stop offset="0.778" stop-color="#25838e"/><stop offset="0.833" stop-color="#24858e"/><stop offset="0.889" stop-color="#24868e"/><stop offset="0.944" stop-color="#24878e"/><stop offset="1.000" stop-color="#24878e"/></linearGradient>
<linearGradient id="ga77" x1="0" y1="0" x2="0" y2="1"><stop offset="0.000" stop-color="#375a8c"/><stop offset="0.056" stop-color="#375a8c"/><stop offset="0.111" stop-color="#375b8d"/><stop offset="0.167" stop-color="#365c8d"/><stop offset="0.222" stop-color="#355e8d"/><stop offset="0.278" stop-color="#34628d"/><stop offset="0.333" stop-color="#32668e"/><stop offset="0.389" stop-color="#2f6c8e"/><stop offset="0.444" stop-color="#2d718e"/><stop offset="0.500" stop-color="#2b768e"/><stop offset="0.556" stop-color="#2a798e"/><stop offset="0.611" stop-color="#297b8e"/><stop offset="0.667" stop-color="#287d8e"/><stop offset="0.722" stop-color="#277f8e"/><stop offset="0.778" stop-color="#26818e"/><stop offset="0.833" stop-color="#25838e"/><stop offset="0.889" stop-color="#25848e"/><stop offset="0.944" stop-color="#25858e"/><stop offset="1.000" stop-color="#24858e"/></linearGradient>
<linearGradient id="ga78" x1="0" y1="0" x2="0" y2="1"><stop offset="0.000" stop-color="#3a548c"/><stop offset="0.056" stop-color="#3a558c"/><stop offset="0.111" stop-color="#39568c"/><stop offset="0.167" stop-color="#38578c"/><stop offset="0.222" stop-color="#375a8c"/><stop offset="0.278" stop-color="#365d8d"/><stop offset="0.333" stop-color="#34628d"/><stop offset="0.389" stop-color="#31688e"/><stop offset="0.444" stop-color="#2e6e8e"/><stop offset="0.500" stop-color="#2c728e"/><stop offset="0.556" stop-color="#2b758e"/><stop offset="0.611" stop-color="#2a788e"/><stop offset="0.667" stop-color="#297a8e"/><stop offset="0.722" stop-color="#287c8e"/><stop offset="0.778" stop-color="#277e8e"/><stop offset="0.833" stop-color="#27808e"/><stop offset="0.889" stop-color="#26818e"/><stop offset="0.944" stop-color="#26828e"/><stop offset="1.000" stop-color="#25838e"/></linearGradient>
<linearGradient id="ga79" x1="0" y1="0" x2="0" y2="1"><stop offset="0.000" stop-color="#3c4f8a"/><stop offset="0.056" stop-color="#3c4f8a"/><stop offset="0.111" stop-color="#3c508a"/><stop offset="0.167" stop-color="#3b528b"/><stop offset="0.222" stop-color="#3a558c"/><stop offset="0.278" stop-color="#38598c"/><stop offset="0.333" stop-color="#355e8d"/><stop offset="0.389" stop-color="#32658e"/><stop offset="0.444" stop-color="#306b8e"/><stop offset="0.500" stop-color="#2e6f8e"/><stop offset="0.556" stop-color="#2c728e"/><stop offset="0.611" stop-color="#2c758e"/><stop offset="0.667" stop-color="#2b778e"/><stop offset="0.722" stop-color="#2a798e"/><stop offset="0.778" stop-color="#297b8e"/><stop offset="0.833" stop-color="#287d8e"/><stop offset="0.889" stop-color="#277f8e"/><stop offset="0.944" stop-color="#27808e"/><stop offset="1.000" stop-color="#26808e"/></linearGradient>
<linearGradient id="ga80" x1="0" y1="0" x2="0" y2="1"><stop offset="0.000" stop-color="#3f4988"/><stop offset="0.056" stop-color="#3e4a89"/><stop offset="0.111" stop-color="#3e4b89"/><stop offset="0.167" stop-color="#3d4d8a"/><stop offset="0.222" stop-color="#3c508a"/><stop offset="0.278" stop-color="#3a558c"/><stop offset="0.333" stop-color="#375a8c"/><stop offset="0.389" stop-color="#34618d"/><stop offset="0.444" stop-color="#31688e"/><stop offset="0.500" stop-color="#2f6c8e"/><stop offset="0.556" stop-color="#2e6f8e"/><stop offset="0.611" stop-color="#2d728e"/><stop offset="0.667" stop-color="#2c748e"/><stop offset="0.722" stop-color="#2b768e"/><stop offset="0.778" stop-color="#2a788e"/><stop offset="0.833" stop-color="#297b8e"/><stop offset="0.889" stop-color="#287c8e"/><stop offset="0.944" stop-color="#287e8e"/><stop offset="1.000" stop-color="#277e8e"/></linearGradient>
<linearGradient id="ga81" x1="0" y1="0" x2="0" y2="1"><stop offset="0.000" stop-color="#414487"/><stop offset="0.056" stop-color="#414487"/><stop offset="0.111" stop-color="#404688"/><stop offset="0.167" stop-color="#3f4888"/><stop offset="0.222" stop-color="#3e4c89"/><stop offset="0.278" stop-color="#3c508a"/><stop offset="0.333" stop-color="#39568c"/><stop offset="0.389" stop-color="#365d8d"/><stop offset="0.444" stop-color="#33648e"/><stop offset="0.500" stop-color="#31698e"/><stop offset="0.556" stop-color="#2f6c8e"/><stop offset="0.611" stop-color="#2e6e8e"/><stop offset="0.667" stop-color="#2d718e"/><stop offset="0.722" stop-color="#2c738e"/><stop offset="0.778" stop-color="#2b768e"/><stop offset="0.833" stop-color="#2a788e"/><stop offset="0.889" stop-color="#297a8e"/><stop offset="0.944" stop-color="#297b8e"/><stop offset="1.000" stop-color="#287c8e"/></linearGradient>
<linearGradient id="ga82" x1="0" y1="0" x2="0" y2="1"><stop offset="0.000" stop-color="#433d84"/><stop offset="0.056" stop-color="#433e84"/><stop offset="0.111" stop-color="#424085"/><stop offset="0.167" stop-color="#414387"/><stop offset="0.222" stop-color="#404788"/><stop offset="0.278" stop-color="#3d4c89"/><stop offset="0.333" stop-color="#3b528b"/><stop offset="0.389" stop-color="#37598c"/><stop offset="0.444" stop-color="#34608d"/><stop offset="0.500" stop-color="#32668e"/><stop offset="0.556" stop-color="#30698e"/><stop offset="0.611" stop-color="#306b8e"/><stop offset="0.667" stop-color="#2f6e8e"/><stop offset="0.722" stop-color="#2e708e"/><stop offset="0.778" stop-color="#2c738e"/><stop offset="0.833" stop-color="#2b758e"/><stop offset="0.889" stop-color="#2a778e"/><stop offset="0.944" stop-color="#2a798e"/><stop offset="1.000" stop-color="#297a8e"/></linearGradient>
<linearGradient id="ga83" x1="0" y1="0" x2="0" y2="1"><stop offset="0.000" stop-color="#453781"/><stop offset="0.056" stop-color="#443881"/><stop offset="0.111" stop-color="#443a82"/><stop offset="0.167" stop-color="#433e84"/><stop offset="0.222" stop-color="#414286"/><stop offset="0.278" stop-color="#3f4888"/><stop offset="0.333" stop-color="#3c4e8a"/><stop offset="0.389" stop-color="#39568c"/><stop offset="0.444" stop-color="#365d8d"/><stop offset="0.500" stop-color="#34628d"/><stop offset="0.556" stop-color="#32668e"/><stop offset="0.611" stop-color="#31688e"/><stop offset="0.667" stop-color="#306a8e"/><stop offset="0.722" stop-color="#2f6d8e"/><stop offset="0.778" stop-color="#2e708e"/><stop offset="0.833" stop-color="#2c728e"/><stop offset="0.889" stop-color="#2c758e"/><stop offset="0.944" stop-color="#2b768e"/><stop offset="1.000" stop-color="#2a778e"/></linearGradient>
<linearGradient id="ga84" x1="0" y1="0" x2="0" y2="1"><stop offset="0.000" stop-color="#47317e"/><stop offset="0.056" stop-color="#46327e"/><stop offset="0.111" stop-color="#46347f"/><stop offset="0.167" stop-color="#443881"/><stop offset="0.222" stop-color="#433d84"/><stop offset="0.278" stop-color="#414387"/><stop offset="0.333" stop-color="#3e4a89"/><stop offset="0.389" stop-color="#3b528b"/><stop offset="0.444" stop-color="#38598c"/><stop offset="0.500" stop-color="#355e8d"/><stop offset="0.556" stop-color="#34628d"/><stop offset="0.611" stop-color="#32658e"/><stop offset="0.667" stop-color="#31678e"/><stop offset="0.722" stop-color="#306a8e"/><stop offset="0.778" stop-color="#2f6d8e"/><stop offset="0.833" stop-color="#2e708e"/><stop offset="0.889" stop-color="#2d728e"/><stop offset="0.944" stop-color="#2c748e"/><stop offset="1.000" stop-color="#2b758e"/></linearGradient>
<linearGradient id="ga85" x1="0" y1="0" x2="0" y2="1"><stop offset="0.000" stop-color="#472a79"/><stop offset="0.056" stop-color="#472b7a"/><stop offset="0.111" stop-color="#472e7c"/><stop offset="0.167" stop-color="#46327e"/><stop offset="0.222" stop-color="#453881"/><stop offset="0.278" stop-color="#433e84"/><stop offset="0.333" stop-color="#404688"/><stop offset="0.389" stop-color="#3d4e8a"/><stop offset="0.444" stop-color="#39558c"/><stop offset="0.500" stop-color="#375b8d"/><stop offset="0.556" stop-color="#355f8d"/><stop offset="0.611" stop-color="#34618d"/><stop offset="0.667" stop-color="#33648e"/><stop offset="0.722" stop-color="#32678e"/><stop offset="0.778" stop-color="#306a8e"/><stop offset="0.833" stop-color="#2f6d8e"/><stop offset="0.889" stop-color="#2e6f8e"/><stop offset="0.944" stop-color="#2d718e"/><stop offset="1.000" stop-color="#2c738e"/></linearGradient>
<linearGradient id="ga86" x1="0" y1="0" x2="0" y2="1"><stop offset="0.000" stop-color="#482474"/><stop offset="0.056" stop-color="#472575"/><stop offset="0.111" stop-color="#472877"/><stop offset="0.167" stop-color="#472c7b"/><stop offset="0.222" stop-color="#46327f"/><stop offset="0.278" stop-color="#443a82"/><stop offset="0.333" stop-color="#424286"/><stop offset="0.389" stop-color="#3e4a89"/><stop offset="0.444" stop-color="#3b518b"/><stop offset="0.500" stop-color="#39578c"/><stop offset="0.556" stop-color="#375b8d"/><stop offset="0.611" stop-color="#365d8d"/><stop offset="0.667" stop-color="#34608d"/><stop offset="0.722" stop-color="#33638d"/><stop offset="0.778" stop-color="#32678e"/><stop offset="0.833" stop-color="#306a8e"/><stop offset="0.889" stop-color="#2f6c8e"/><stop offset="0.944" stop-color="#2e6e8e"/><stop offset="1.000" stop-color="#2d708e"/></linearGradient>
<linearGradient id="ga87" x1="0" y1="0" x2="0" y2="1"><stop offset="0.000" stop-color="#481e6f"/><stop offset="0.056" stop-color="#481f70"/><stop offset="0.111" stop-color="#482273"/><stop offset="0.167" stop-color="#472776"/><stop offset="0.222" stop-color="#472d7b"/><stop offset="0.278" stop-color="#453580"/><stop offset="0.333" stop-color="#433d84"/><stop offset="0.389" stop-color="#404688"/><stop offset="0.444" stop-color="#3d4e8a"/><stop offset="0.500" stop-color="#3a538b"/><stop offset="0.556" stop-color="#38578c"/><stop offset="0.611" stop-color="#375a8c"/><stop offset="0.667" stop-color="#365d8d"/><stop offset="0.722" stop-color="#35608d"/><stop offset="0.778" stop-color="#33638d"/><stop offset="0.833" stop-color="#32678e"/><stop offset="0.889" stop-color="#306a8e"/><stop offset="0.944" stop-color="#2f6c8e"/><stop offset="1.000" stop-color="#2f6e8e"/></linearGradient>
<linearGradient id="ga88" x1="0" y1="0" x2="0" y2="1"><stop offset="0.000" stop-color="#48176a"/><stop offset="0.056" stop-color="#48196b"/><stop offset="0.111" stop-color="#481c6e"/><stop offset="0.167" stop-color="#482172"/><stop offset="0.222" stop-color="#472877"/><stop offset="0.278" stop-color="#47307d"/><stop offset="0.333" stop-color="#443881"/><stop offset="0.389" stop-color="#424286"/><stop offset="0.444" stop-color="#3e4a89"/><stop offset="0.500" stop-color="#3c4f8a"/><stop offset="0.556" stop-color="#3a548b"/><stop offset="0.611" stop-color="#39568c"/><stop offset="0.667" stop-color="#38598c"/><stop offset="0.722" stop-color="#365c8d"/><stop offset="0.778" stop-color="#35608d"/><stop offset="0.833" stop-color="#33648e"/><stop offset="0.889" stop-color="#32678e"/><stop offset="0.944" stop-color="#31698e"/><stop offset="1.000" stop-color="#306b8e"/></linearGradient>
<linearGradient id="ga89" x1="0" y1="0" x2="0" y2="1"><stop offset="0.000" stop-color="#461063"/><stop offset="0.056" stop-color="#471264"/><stop offset="0.111" stop-color="#471568"/><stop offset="0.167" stop-color="#481b6d"/><stop offset="0.222" stop-color="#482273"/><stop offset="0.278" stop-color="#472b79"/><stop offset="0.333" stop-color="#46337f"/><stop offset="0.389" stop-color="#433d84"/><stop offset="0.444" stop-color="#404687"/><stop offset="0.500" stop-color="#3e4c89"/><stop offset="0.556" stop-color="#3c508a"/><stop offset="0.611" stop-color="#3b528b"/><stop offset="0.667" stop-color="#39558c"/><stop offset="0.722" stop-color="#38598c"/><stop offset="0.778" stop-color="#365d8d"/><stop offset="0.833" stop-color="#34608d"/><stop offset="0.889" stop-color="#33638d"/><stop offset="0.944" stop-color="#32668e"/><stop offset="1.000" stop-color="#31688e"/></linearGradient>
<linearGradient id="ga90" x1="0" y1="0" x2="0" y2="1"><stop offset="0.000" stop-color="#45095c"/><stop offset="0.056" stop-color="#460a5d"/><stop offset="0.111" stop-color="#460e61"/><stop offset="0.167" stop-color="#471567"/><stop offset="0.222" stop-color="#481d6f"/><stop offset="0.278" stop-color="#472675"/><stop offset="0.333" stop-color="#472f7d"/><stop offset="0.389" stop-color="#443881"/><stop offset="0.444" stop-color="#424186"/><stop offset="0.500" stop-color="#3f4888"/><stop offset="0.556" stop-color="#3d4c89"/><stop offset="0.611" stop-color="#3c4f8a"/><stop offset="0.667" stop-color="#3b528b"/><stop offset="0.722" stop-color="#39558c"/><stop offset="0.778" stop-color="#38598c"/><stop offset="0.833" stop-color="#365d8d"/><stop offset="0.889" stop-color="#35608d"/><stop offset="0.944" stop-color="#33638d"/><stop offset="1.000" stop-color="#32658e"/></linearGradient>
<linearGradient id="ga91" x1="0" y1="0" x2="0" y2="1"><stop offset="0.000" stop-color="#440255"/><stop offset="0.056" stop-color="#440356"/><stop offset="0.111" stop-color="#45075a"/><stop offset="0.167" stop-color="#460e61"/><stop offset="0.222" stop-color="#48176a"/><stop offset="0.278" stop-color="#482171"/><stop offset="0.333" stop-color="#472a79"/><stop offset="0.389" stop-color="#46347f"/><stop offset="0.444" stop-color="#433d84"/><stop offset="0.500" stop-color="#414487"/><stop offset="0.556" stop-color="#3f4888"/><stop offset="0.611" stop-color="#3e4b89"/><stop offset="0.667" stop-color="#3c4e8a"/><stop offset="0.722" stop-color="#3b528b"/><stop offset="0.778" stop-color="#39568c"/><stop offset="0.833" stop-color="#37598c"/><stop offset="0.889" stop-color="#365d8d"/><stop offset="0.944" stop-color="#35608d"/><stop offset="1.000" stop-color="#34628d"/></linearGradient>
<linearGradient id="ga92" x1="0" y1="0" x2="0" y2="1"><stop offset="0.000" stop-color="#440154"/><stop offset="0.056" stop-color="#440154"/><stop offset="0.111" stop-color="#440154"/><stop offset="0.167" stop-color="#45075a"/><stop offset="0.222" stop-color="#471164"/><stop offset="0.278" stop-color="#481c6d"/><stop offset="0.333" stop-color="#472575"/><stop offset="0.389" stop-color="#472f7d"/><stop offset="0.444" stop-color="#443881"/><stop offset="0.500" stop-color="#423f85"/><stop offset="0.556" stop-color="#414487"/><stop offset="0.611" stop-color="#404788"/><stop offset="0.667" stop-color="#3e4a89"/><stop offset="0.722" stop-color="#3d4e8a"/><stop offset="0.778" stop-color="#3b528b"/><stop offset="0.833" stop-color="#39568c"/><stop offset="0.889" stop-color="#37598c"/><stop offset="0.944" stop-color="#365c8d"/><stop offset="1.000" stop-color="#355f8d"/></linearGradient>
<linearGradient id="cb0" x1="0" y1="1" x2="0" y2="0"><stop offset="0.0000" stop-color="#440154"/><stop offset="0.0667" stop-color="#481a6c"/><stop offset="0.1333" stop-color="#472f7d"/><stop offset="0.2000" stop-color="#414487"/><stop offset="0.2667" stop-color="#39568c"/><stop offset="0.3333" stop-color="#31688e"/><stop offset="0.4000" stop-color="#2a788e"/><stop offset="0.4667" stop-color="#23888e"/><stop offset="0.5333" stop-color="#1f988b"/><stop offset="0.6000" stop-color="#22a884"/><stop offset="0.6667" stop-color="#35b779"/><stop offset="0.7333" stop-color="#54c568"/><stop offset="0.8000" stop-color="#7ad151"/><stop offset="0.8667" stop-color="#a5db36"/><stop offset="0.9333" stop-color="#d2e21b"/><stop offset="1.0000" stop-color="#fde725"/></linearGradient>
<clipPath id="cpb"><path d="M125.6,728.2 L672.9,728.2 Q677.9,728.2 677.9,733.2 L677.9,870.9 L676.6,874.4 L672.1,877.4 L666.1,878.9 L657.5,882.0 L643.6,888.4 L630.9,894.9 L619.1,902.4 L605.6,913.1 L593.1,920.6 L588.2,930.6 L583.2,940.5 L580.7,955.4 L577.0,961.4 L568.2,971.4 L558.3,980.1 L545.8,986.3 L533.4,996.3 L525.9,1011.3 L513.4,1021.2 L507.2,1033.7 L507.2,1043.7 L512.1,1051.1 L513.4,1063.6 L528.4,1074.8 L534.6,1081.1 L534.6,1093.5 L539.6,1101.0 L540.8,1111.0 L546.1,1117.2 L546.6,1125.4 L537.6,1135.4 L527.9,1144.4 L515.9,1155.2 L508.4,1162.1 L498.5,1164.6 L476.0,1164.6 L471.0,1160.8 L446.1,1159.9 L439.9,1163.3 L432.4,1173.3 L429.9,1182.0 L125.6,1182.0 Q120.6,1182.0 120.6,1177.0 L120.6,733.2 Q120.6,728.2 125.6,728.2 Z"/></clipPath>
<linearGradient id="gb0" x1="0" y1="0" x2="0" y2="1"><stop offset="0.000" stop-color="#482071"/><stop offset="0.056" stop-color="#48196b"/><stop offset="0.111" stop-color="#481c6d"/><stop offset="0.167" stop-color="#472777"/><stop offset="0.222" stop-color="#433c83"/><stop offset="0.278" stop-color="#3c508a"/><stop offset="0.333" stop-color="#33648e"/><stop offset="0.389" stop-color="#2b778e"/><stop offset="0.444" stop-color="#24868e"/><stop offset="0.500" stop-color="#21918c"/><stop offset="0.556" stop-color="#20968b"/><stop offset="0.611" stop-color="#1f978b"/><stop offset="0.667" stop-color="#1f968b"/><stop offset="0.722" stop-color="#20968b"/><stop offset="0.778" stop-color="#20948c"/><stop offset="0.833" stop-color="#1f978b"/><stop offset="0.889" stop-color="#21a087"/><stop offset="0.944" stop-color="#2baf7f"/><stop offset="1.000" stop-color="#4fc36b"/></linearGradient>
<linearGradient id="gb1" x1="0" y1="0" x2="0" y2="1"><stop offset="0.000" stop-color="#481d6f"/><stop offset="0.056" stop-color="#471668"/><stop offset="0.111" stop-color="#48196b"/><stop offset="0.167" stop-color="#472575"/><stop offset="0.222" stop-color="#443982"/><stop offset="0.278" stop-color="#3d4d8a"/><stop offset="0.333" stop-color="#34618d"/><stop offset="0.389" stop-color="#2c748e"/><stop offset="0.444" stop-color="#25838e"/><stop offset="0.500" stop-color="#228e8d"/><stop offset="0.556" stop-color="#20938c"/><stop offset="0.611" stop-color="#20948c"/><stop offset="0.667" stop-color="#20948c"/><stop offset="0.722" stop-color="#20938c"/><stop offset="0.778" stop-color="#20928c"/><stop offset="0.833" stop-color="#20958c"/><stop offset="0.889" stop-color="#209e88"/><stop offset="0.944" stop-color="#28ad81"/><stop offset="1.000" stop-color="#48c06e"/></linearGradient>
<linearGradient id="gb2" x1="0" y1="0" x2="0" y2="1"><stop offset="0.000" stop-color="#481b6d"/><stop offset="0.056" stop-color="#471365"/><stop offset="0.111" stop-color="#471668"/><stop offset="0.167" stop-color="#482272"/><stop offset="0.222" stop-color="#453580"/><stop offset="0.278" stop-color="#3e4a89"/><stop offset="0.333" stop-color="#365e8d"/><stop offset="0.389" stop-color="#2d718e"/><stop offset="0.444" stop-color="#26808e"/><stop offset="0.500" stop-color="#228b8e"/><stop offset="0.556" stop-color="#21908c"/><stop offset="0.611" stop-color="#21918c"/><stop offset="0.667" stop-color="#21918c"/><stop offset="0.722" stop-color="#21918c"/><stop offset="0.778" stop-color="#21908c"/><stop offset="0.833" stop-color="#20938c"/><stop offset="0.889" stop-color="#209c89"/><stop offset="0.944" stop-color="#25aa82"/><stop offset="1.000" stop-color="#42bd72"/></linearGradient>
<linearGradient id="gb3" x1="0" y1="0" x2="0" y2="1"><stop offset="0.000" stop-color="#48186a"/><stop offset="0.056" stop-color="#461063"/><stop offset="0.111" stop-color="#471365"/><stop offset="0.167" stop-color="#481f70"/><stop offset="0.222" stop-color="#46337f"/><stop offset="0.278" stop-color="#3f4788"/><stop offset="0.333" stop-color="#375b8d"/><stop offset="0.389" stop-color="#2e6e8e"/><stop offset="0.444" stop-color="#287d8e"/><stop offset="0.500" stop-color="#23888e"/><stop offset="0.556" stop-color="#228d8d"/><stop offset="0.611" stop-color="#218e8d"/><stop offset="0.667" stop-color="#218f8d"/><stop offset="0.722" stop-color="#218f8d"/><stop offset="0.778" stop-color="#218e8d"/><stop offset="0.833" stop-color="#21918c"/><stop offset="0.889" stop-color="#1f998a"/><stop offset="0.944" stop-color="#22a884"/><stop offset="1.000" stop-color="#3cba75"/></linearGradient>
<linearGradient id="gb4" x1="0" y1="0" x2="0" y2="1"><stop offset="0.000" stop-color="#471567"/><stop offset="0.056" stop-color="#460e60"/><stop offset="0.111" stop-color="#461063"/><stop offset="0.167" stop-color="#481d6e"/><stop offset="0.222" stop-color="#47307d"/><stop offset="0.278" stop-color="#414587"/><stop offset="0.333" stop-color="#38588c"/><stop offset="0.389" stop-color="#306b8e"/><stop offset="0.444" stop-color="#297a8e"/><stop offset="0.500" stop-color="#24858e"/><stop offset="0.556" stop-color="#228a8e"/><stop offset="0.611" stop-color="#228c8d"/><stop offset="0.667" stop-color="#228c8d"/><stop offset="0.722" stop-color="#228c8d"/><stop offset="0.778" stop-color="#228c8d"/><stop offset="0.833" stop-color="#218f8d"/><stop offset="0.889" stop-color="#1f978b"/><stop offset="0.944" stop-color="#21a585"/><stop offset="1.000" stop-color="#36b779"/></linearGradient>
<linearGradient id="gb5" x1="0" y1="0" x2="0" y2="1"><stop offset="0.000" stop-color="#471365"/><stop offset="0.056" stop-color="#460b5e"/><stop offset="0.111" stop-color="#460e60"/><stop offset="0.167" stop-color="#481b6d"/><stop offset="0.222" stop-color="#472d7c"/><stop offset="0.278" stop-color="#424286"/><stop offset="0.333" stop-color="#3a558c"/><stop offset="0.389" stop-color="#31688e"/><stop offset="0.444" stop-color="#2a788e"/><stop offset="0.500" stop-color="#26828e"/><stop offset="0.556" stop-color="#23888e"/><stop offset="0.611" stop-color="#23898e"/><stop offset="0.667" stop-color="#228a8e"/><stop offset="0.722" stop-color="#228a8e"/><stop offset="0.778" stop-color="#228a8e"/><stop offset="0.833" stop-color="#228d8d"/><stop offset="0.889" stop-color="#20958c"/><stop offset="0.944" stop-color="#21a386"/><stop offset="1.000" stop-color="#32b47b"/></linearGradient>
<linearGradient id="gb6" x1="0" y1="0" x2="0" y2="1"><stop offset="0.000" stop-color="#461163"/><stop offset="0.056" stop-color="#45095c"/><stop offset="0.111" stop-color="#460c5e"/><stop offset="0.167" stop-color="#48186a"/><stop offset="0.222" stop-color="#472b7a"/><stop offset="0.278" stop-color="#423f85"/><stop offset="0.333" stop-color="#3b528b"/><stop offset="0.389" stop-color="#32658e"/><stop offset="0.444" stop-color="#2b758e"/><stop offset="0.500" stop-color="#277f8e"/><stop offset="0.556" stop-color="#24858e"/><stop offset="0.611" stop-color="#24878e"/><stop offset="0.667" stop-color="#23888e"/><stop offset="0.722" stop-color="#23888e"/><stop offset="0.778" stop-color="#23888e"/><stop offset="0.833" stop-color="#228b8d"/><stop offset="0.889" stop-color="#20938c"/><stop offset="0.944" stop-color="#21a087"/><stop offset="1.000" stop-color="#2eb27d"/></linearGradient>
<linearGradient id="gb7" x1="0" y1="0" x2="0" y2="1"><stop offset="0.000" stop-color="#460e61"/><stop offset="0.056" stop-color="#45075a"/><stop offset="0.111" stop-color="#450a5d"/><stop offset="0.167" stop-color="#471668"/><stop offset="0.222" stop-color="#472978"/><stop offset="0.278" stop-color="#433c83"/><stop offset="0.333" stop-color="#3c508a"/><stop offset="0.389" stop-color="#33638d"/><stop offset="0.444" stop-color="#2d728e"/><stop offset="0.500" stop-color="#287d8e"/><stop offset="0.556" stop-color="#25828e"/><stop offset="0.611" stop-color="#25848e"/><stop offset="0.667" stop-color="#24868e"/><stop offset="0.722" stop-color="#24868e"/><stop offset="0.778" stop-color="#24868e"/><stop offset="0.833" stop-color="#23898e"/><stop offset="0.889" stop-color="#21918c"/><stop offset="0.944" stop-color="#209e88"/><stop offset="1.000" stop-color="#2baf7f"/></linearGradient>
<linearGradient id="gb8" x1="0" y1="0" x2="0" y2="1"><stop offset="0.000" stop-color="#460d5f"/><stop offset="0.056" stop-color="#450658"/><stop offset="0.111" stop-color="#45085b"/><stop offset="0.167" stop-color="#471466"/><stop offset="0.222" stop-color="#472676"/><stop offset="0.278" stop-color="#443a82"/><stop offset="0.333" stop-color="#3d4d8a"/><stop offset="0.389" stop-color="#35608d"/><stop offset="0.444" stop-color="#2e708e"/><stop offset="0.500" stop-color="#297a8e"/><stop offset="0.556" stop-color="#27808e"/><stop offset="0.611" stop-color="#26828e"/><stop offset="0.667" stop-color="#25838e"/><stop offset="0.722" stop-color="#25848e"/><stop offset="0.778" stop-color="#25848e"/><stop offset="0.833" stop-color="#23878e"/><stop offset="0.889" stop-color="#218f8d"/><stop offset="0.944" stop-color="#209c89"/><stop offset="1.000" stop-color="#27ac81"/></linearGradient>
<linearGradient id="gb9" x1="0" y1="0" x2="0" y2="1"><stop offset="0.000" stop-color="#460b5e"/><stop offset="0.056" stop-color="#450457"/><stop offset="0.111" stop-color="#450759"/><stop offset="0.167" stop-color="#471265"/><stop offset="0.222" stop-color="#482474"/><stop offset="0.278" stop-color="#453881"/><stop offset="0.333" stop-color="#3e4b89"/><stop offset="0.389" stop-color="#365d8d"/><stop offset="0.444" stop-color="#2f6d8e"/><stop offset="0.500" stop-color="#2a788e"/><stop offset="0.556" stop-color="#287e8e"/><stop offset="0.611" stop-color="#27808e"/><stop offset="0.667" stop-color="#26818e"/><stop offset="0.722" stop-color="#26828e"/><stop offset="0.778" stop-color="#25828e"/><stop offset="0.833" stop-color="#24868e"/><stop offset="0.889" stop-color="#228d8d"/><stop offset="0.944" stop-color="#1f998a"/><stop offset="1.000" stop-color="#24aa83"/></linearGradient>
<linearGradient id="gb10" x1="0" y1="0" x2="0" y2="1"><stop offset="0.000" stop-color="#450a5c"/><stop offset="0.056" stop-color="#440356"/><stop offset="0.111" stop-color="#450558"/><stop offset="0.167" stop-color="#471163"/><stop offset="0.222" stop-color="#482373"/><stop offset="0.278" stop-color="#453580"/><stop offset="0.333" stop-color="#3f4988"/><stop offset="0.389" stop-color="#375b8d"/><stop offset="0.444" stop-color="#306b8e"/><stop offset="0.500" stop-color="#2b758e"/><stop offset="0.556" stop-color="#297b8e"/><stop offset="0.611" stop-color="#287e8e"/><stop offset="0.667" stop-color="#277f8e"/><stop offset="0.722" stop-color="#26808e"/><stop offset="0.778" stop-color="#26818e"/><stop offset="0.833" stop-color="#25848e"/><stop offset="0.889" stop-color="#228b8d"/><stop offset="0.944" stop-color="#1f978b"/><stop offset="1.000" stop-color="#22a784"/></linearGradient>
<linearGradient id="gb11" x1="0" y1="0" x2="0" y2="1"><stop offset="0.000" stop-color="#45085b"/><stop offset="0.056" stop-color="#440255"/><stop offset="0.111" stop-color="#440457"/><stop offset="0.167" stop-color="#460f62"/><stop offset="0.222" stop-color="#482172"/><stop offset="0.278" stop-color="#46337f"/><stop offset="0.333" stop-color="#404788"/><stop offset="0.389" stop-color="#38598c"/><stop offset="0.444" stop-color="#31698e"/><stop offset="0.500" stop-color="#2c738e"/><stop offset="0.556" stop-color="#2a798e"/><stop offset="0.611" stop-color="#297b8e"/><stop offset="0.667" stop-color="#287d8e"/><stop offset="0.722" stop-color="#277e8e"/><stop offset="0.778" stop-color="#277f8e"/><stop offset="0.833" stop-color="#26828e"/><stop offset="0.889" stop-color="#23898e"/><stop offset="0.944" stop-color="#20958c"/><stop offset="1.000" stop-color="#21a585"/></linearGradient>
<linearGradient id="gb12" x1="0" y1="0" x2="0" y2="1"><stop offset="0.000" stop-color="#45075a"/><stop offset="0.056" stop-color="#440154"/><stop offset="0.111" stop-color="#440356"/><stop offset="0.167" stop-color="#460e60"/><stop offset="0.222" stop-color="#482071"/><stop offset="0.278" stop-color="#46317e"/><stop offset="0.333" stop-color="#414587"/><stop offset="0.389" stop-color="#39568c"/><stop offset="0.444" stop-color="#32668e"/><stop offset="0.500" stop-color="#2d718e"/><stop offset="0.556" stop-color="#2b778e"/><stop offset="0.611" stop-color="#29798e"/><stop offset="0.667" stop-color="#297b8e"/><stop offset="0.722" stop-color="#287c8e"/><stop offset="0.778" stop-color="#287d8e"/><stop offset="0.833" stop-color="#26808e"/><stop offset="0.889" stop-color="#23888e"/><stop offset="0.944" stop-color="#20938c"/><stop offset="1.000" stop-color="#21a286"/></linearGradient>
<linearGradient id="gb13" x1="0" y1="0" x2="0" y2="1"><stop offset="0.000" stop-color="#450759"/><stop offset="0.056" stop-color="#440154"/><stop offset="0.111" stop-color="#440255"/><stop offset="0.167" stop-color="#460d5f"/><stop offset="0.222" stop-color="#481e6f"/><stop offset="0.278" stop-color="#47307d"/><stop offset="0.333" stop-color="#414386"/><stop offset="0.389" stop-color="#3a548b"/><stop offset="0.444" stop-color="#33648e"/><stop offset="0.500" stop-color="#2e6e8e"/><stop offset="0.556" stop-color="#2c748e"/><stop offset="0.611" stop-color="#2a778e"/><stop offset="0.667" stop-color="#2a798e"/><stop offset="0.722" stop-color="#297a8e"/><stop offset="0.778" stop-color="#297b8e"/><stop offset="0.833" stop-color="#277f8e"/><stop offset="0.889" stop-color="#24868e"/><stop offset="0.944" stop-color="#21918c"/><stop offset="1.000" stop-color="#21a087"/></linearGradient>
<linearGradient id="gb14" x1="0" y1="0" x2="0" y2="1"><stop offset="0.000" stop-color="#450659"/><stop offset="0.056" stop-color="#440154"/><stop offset="0.111" stop-color="#440255"/><stop offset="0.167" stop-color="#460c5f"/><stop offset="0.222" stop-color="#481d6f"/><stop offset="0.278" stop-color="#472e7c"/><stop offset="0.333" stop-color="#424185"/><stop offset="0.389" stop-color="#3b528b"/><stop offset="0.444" stop-color="#34628d"/><stop offset="0.500" stop-color="#2f6c8e"/><stop offset="0.556" stop-color="#2d728e"/><stop offset="0.611" stop-color="#2b758e"/><stop offset="0.667" stop-color="#2a778e"/><stop offset="0.722" stop-color="#2a798e"/><stop offset="0.778" stop-color="#297a8e"/><stop offset="0.833" stop-color="#287d8e"/><stop offset="0.889" stop-color="#25848e"/><stop offset="0.944" stop-color="#218f8d"/><stop offset="1.000" stop-color="#209e88"/></linearGradient>
<linearGradient id="gb15" x1="0" y1="0" x2="0" y2="1"><stop offset="0.000" stop-color="#450659"/><stop offset="0.056" stop-color="#440154"/><stop offset="0.111" stop-color="#440255"/><stop offset="0.167" stop-color="#460b5e"/><stop offset="0.222" stop-color="#481c6e"/><stop offset="0.278" stop-color="#472d7b"/><stop offset="0.333" stop-color="#423f85"/><stop offset="0.389" stop-color="#3c508a"/><stop offset="0.444" stop-color="#355f8d"/><stop offset="0.500" stop-color="#306a8e"/><stop offset="0.556" stop-color="#2d708e"/><stop offset="0.611" stop-color="#2c738e"/><stop offset="0.667" stop-color="#2b758e"/><stop offset="0.722" stop-color="#2a778e"/><stop offset="0.778" stop-color="#2a788e"/><stop offset="0.833" stop-color="#297b8e"/><stop offset="0.889" stop-color="#26828e"/><stop offset="0.944" stop-color="#228d8d"/><stop offset="1.000" stop-color="#209c89"/></linearGradient>
<linearGradient id="gb16" x1="0" y1="0" x2="0" y2="1"><stop offset="0.000" stop-color="#450658"/><stop offset="0.056" stop-color="#440154"/><stop offset="0.111" stop-color="#440255"/><stop offset="0.167" stop-color="#460b5e"/><stop offset="0.222" stop-color="#481b6d"/><stop offset="0.278" stop-color="#472c7a"/><stop offset="0.333" stop-color="#433d84"/><stop offset="0.389" stop-color="#3c4e8a"/><stop offset="0.444" stop-color="#365d8d"/><stop offset="0.500" stop-color="#31688e"/><stop offset="0.556" stop-color="#2e6e8e"/><stop offset="0.611" stop-color="#2d718e"/><stop offset="0.667" stop-color="#2c748e"/><stop offset="0.722" stop-color="#2b758e"/><stop offset="0.778" stop-color="#2b768e"/><stop offset="0.833" stop-color="#297a8e"/><stop offset="0.889" stop-color="#26818e"/><stop offset="0.944" stop-color="#228b8d"/><stop offset="1.000" stop-color="#1f9a8a"/></linearGradient>
<linearGradient id="gb17" x1="0" y1="0" x2="0" y2="1"><stop offset="0.000" stop-color="#450659"/><stop offset="0.056" stop-color="#440154"/><stop offset="0.111" stop-color="#440255"/><stop offset="0.167" stop-color="#460b5d"/><stop offset="0.222" stop-color="#481b6d"/><stop offset="0.278" stop-color="#472a79"/><stop offset="0.333" stop-color="#433c83"/><stop offset="0.389" stop-color="#3d4d89"/><stop offset="0.444" stop-color="#375b8d"/><stop offset="0.500" stop-color="#32668e"/><stop offset="0.556" stop-color="#2f6c8e"/><stop offset="0.611" stop-color="#2e6f8e"/><stop offset="0.667" stop-color="#2d728e"/><stop offset="0.722" stop-color="#2c738e"/><stop offset="0.778" stop-color="#2b758e"/><stop offset="0.833" stop-color="#2a788e"/><stop offset="0.889" stop-color="#277f8e"/><stop offset="0.944" stop-color="#238a8e"/><stop offset="1.000" stop-color="#1f988b"/></linearGradient>
<linearGradient id="gb18" x1="0" y1="0" x2="0" y2="1"><stop offset="0.000" stop-color="#450659"/><stop offset="0.056" stop-color="#440154"/><stop offset="0.111" stop-color="#440255"/><stop offset="0.167" stop-color="#460b5d"/><stop offset="0.222" stop-color="#481a6c"/><stop offset="0.278" stop-color="#472979"/><stop offset="0.333" stop-color="#443a82"/><stop offset="0.389" stop-color="#3e4b89"/><stop offset="0.444" stop-color="#37598c"/><stop offset="0.500" stop-color="#33648e"/><stop offset="0.556" stop-color="#306a8e"/><stop offset="0.611" stop-color="#2f6e8e"/><stop offset="0.667" stop-color="#2d708e"/><stop offset="0.722" stop-color="#2d728e"/><stop offset="0.778" stop-color="#2c738e"/><stop offset="0.833" stop-color="#2b768e"/><stop offset="0.889" stop-color="#287d8e"/><stop offset="0.944" stop-color="#23888e"/><stop offset="1.000" stop-color="#1f968b"/></linearGradient>
<linearGradient id="gb19" x1="0" y1="0" x2="0" y2="1"><stop offset="0.000" stop-color="#450759"/><stop offset="0.056" stop-color="#440154"/><stop offset="0.111" stop-color="#440255"/><stop offset="0.167" stop-color="#460b5e"/><stop offset="0.222" stop-color="#481a6c"/><stop offset="0.278" stop-color="#472978"/><stop offset="0.333" stop-color="#443982"/><stop offset="0.389" stop-color="#3e4a89"/><stop offset="0.444" stop-color="#38588c"/><stop offset="0.500" stop-color="#34628d"/><stop offset="0.556" stop-color="#31698e"/><stop offset="0.611" stop-color="#2f6c8e"/><stop offset="0.667" stop-color="#2e6e8e"/><stop offset="0.722" stop-color="#2d708e"/><stop offset="0.778" stop-color="#2d728e"/><stop offset="0.833" stop-color="#2b758e"/><stop offset="0.889" stop-color="#287c8e"/><stop offset="0.944" stop-color="#24868e"/><stop offset="1.000" stop-color="#20948c"/></linearGradient>
<linearGradient id="gb20" x1="0" y1="0" x2="0" y2="1"><stop offset="0.000" stop-color="#45075a"/><stop offset="0.056" stop-color="#440255"/><stop offset="0.111" stop-color="#440356"/><stop offset="0.167" stop-color="#460b5e"/><stop offset="0.222" stop-color="#481a6c"/><stop offset="0.278" stop-color="#472877"/><stop offset="0.333" stop-color="#443881"/><stop offset="0.389" stop-color="#3f4888"/><stop offset="0.444" stop-color="#39568c"/><stop offset="0.500" stop-color="#35608d"/><stop offset="0.556" stop-color="#32678e"/><stop offset="0.611" stop-color="#306a8e"/><stop offset="0.667" stop-color="#2f6d8e"/><stop offset="0.722" stop-color="#2e6f8e"/><stop offset="0.778" stop-color="#2e708e"/><stop offset="0.833" stop-color="#2c738e"/><stop offset="0.889" stop-color="#297a8e"/><stop offset="0.944" stop-color="#24858e"/><stop offset="1.000" stop-color="#20938c"/></linearGradient>
<linearGradient id="gb21" x1="0" y1="0" x2="0" y2="1"><stop offset="0.000" stop-color="#45085b"/><stop offset="0.056" stop-color="#440356"/><stop offset="0.111" stop-color="#440457"/><stop offset="0.167" stop-color="#460c5e"/><stop offset="0.222" stop-color="#481a6c"/><stop offset="0.278" stop-color="#472877"/><stop offset="0.333" stop-color="#453781"/><stop offset="0.389" stop-color="#404788"/><stop offset="0.444" stop-color="#3a548c"/><stop offset="0.500" stop-color="#355e8d"/><stop offset="0.556" stop-color="#32658e"/><stop offset="0.611" stop-color="#31698e"/><stop offset="0.667" stop-color="#306b8e"/><stop offset="0.722" stop-color="#2f6d8e"/><stop offset="0.778" stop-color="#2e6e8e"/><stop offset="0.833" stop-color="#2d728e"/><stop offset="0.889" stop-color="#2a798e"/><stop offset="0.944" stop-color="#25838e"/><stop offset="1.000" stop-color="#21918c"/></linearGradient>
<linearGradient id="gb22" x1="0" y1="0" x2="0" y2="1"><stop offset="0.000" stop-color="#450a5c"/><stop offset="0.056" stop-color="#450457"/><stop offset="0.111" stop-color="#450558"/><stop offset="0.167" stop-color="#460d5f"/><stop offset="0.222" stop-color="#481a6c"/><stop offset="0.278" stop-color="#472777"/><stop offset="0.333" stop-color="#453680"/><stop offset="0.389" stop-color="#404688"/><stop offset="0.444" stop-color="#3a538b"/><stop offset="0.500" stop-color="#365c8d"/><stop offset="0.556" stop-color="#33638d"/><stop offset="0.611" stop-color="#31678e"/><stop offset="0.667" stop-color="#306a8e"/><stop offset="0.722" stop-color="#2f6c8e"/><stop offset="0.778" stop-color="#2f6d8e"/><stop offset="0.833" stop-color="#2d708e"/><stop offset="0.889" stop-color="#2a778e"/><stop offset="0.944" stop-color="#26828e"/><stop offset="1.000" stop-color="#21908d"/></linearGradient>
<linearGradient id="gb23" x1="0" y1="0" x2="0" y2="1"><stop offset="0.000" stop-color="#460b5e"/><stop offset="0.056" stop-color="#450659"/><stop offset="0.111" stop-color="#450759"/><stop offset="0.167" stop-color="#460e60"/><stop offset="0.222" stop-color="#481a6c"/><stop offset="0.278" stop-color="#472777"/><stop offset="0.333" stop-color="#453580"/><stop offset="0.389" stop-color="#414587"/><stop offset="0.444" stop-color="#3b518b"/><stop offset="0.500" stop-color="#375b8d"/><stop offset="0.556" stop-color="#34618d"/><stop offset="0.611" stop-color="#32658e"/><stop offset="0.667" stop-color="#31688e"/><stop offset="0.722" stop-color="#306a8e"/><stop offset="0.778" stop-color="#2f6c8e"/><stop offset="0.833" stop-color="#2e6f8e"/><stop offset="0.889" stop-color="#2b768e"/><stop offset="0.944" stop-color="#26808e"/><stop offset="1.000" stop-color="#218e8d"/></linearGradient>
<linearGradient id="gb24" x1="0" y1="0" x2="0" y2="1"><stop offset="0.000" stop-color="#460d5f"/><stop offset="0.056" stop-color="#45075a"/><stop offset="0.111" stop-color="#45085b"/><stop offset="0.167" stop-color="#460f61"/><stop offset="0.222" stop-color="#481b6d"/><stop offset="0.278" stop-color="#472777"/><stop offset="0.333" stop-color="#453580"/><stop offset="0.389" stop-color="#414487"/><stop offset="0.444" stop-color="#3c508a"/><stop offset="0.500" stop-color="#38598c"/><stop offset="0.556" stop-color="#35608d"/><stop offset="0.611" stop-color="#33648e"/><stop offset="0.667" stop-color="#32678e"/><stop offset="0.722" stop-color="#31698e"/><stop offset="0.778" stop-color="#306a8e"/><stop offset="0.833" stop-color="#2f6e8e"/><stop offset="0.889" stop-color="#2c758e"/><stop offset="0.944" stop-color="#277f8e"/><stop offset="1.000" stop-color="#228d8d"/></linearGradient>
<linearGradient id="gb25" x1="0" y1="0" x2="0" y2="1"><stop offset="0.000" stop-color="#460e61"/><stop offset="0.056" stop-color="#45095c"/><stop offset="0.111" stop-color="#450a5c"/><stop offset="0.167" stop-color="#461062"/><stop offset="0.222" stop-color="#481b6d"/><stop offset="0.278" stop-color="#472777"/><stop offset="0.333" stop-color="#46347f"/><stop offset="0.389" stop-color="#414386"/><stop offset="0.444" stop-color="#3c4f8a"/><stop offset="0.500" stop-color="#38588c"/><stop offset="0.556" stop-color="#355e8d"/><stop offset="0.611" stop-color="#34628d"/><stop offset="0.667" stop-color="#32658e"/><stop offset="0.722" stop-color="#31688e"/><stop offset="0.778" stop-color="#31698e"/><stop offset="0.833" stop-color="#2f6c8e"/><stop offset="0.889" stop-color="#2c738e"/><stop offset="0.944" stop-color="#277e8e"/><stop offset="1.000" stop-color="#228c8d"/></linearGradient>
<linearGradient id="gb26" x1="0" y1="0" x2="0" y2="1"><stop offset="0.000" stop-color="#461063"/><stop offset="0.056" stop-color="#460b5d"/><stop offset="0.111" stop-color="#460b5e"/><stop offset="0.167" stop-color="#471163"/><stop offset="0.222" stop-color="#481c6e"/><stop offset="0.278" stop-color="#472777"/><stop offset="0.333" stop-color="#46347f"/><stop offset="0.389" stop-color="#424286"/><stop offset="0.444" stop-color="#3d4e8a"/><stop offset="0.500" stop-color="#39578c"/><stop offset="0.556" stop-color="#365d8d"/><stop offset="0.611" stop-color="#34618d"/><stop offset="0.667" stop-color="#33648e"/><stop offset="0.722" stop-color="#32668e"/><stop offset="0.778" stop-color="#31688e"/><stop offset="0.833" stop-color="#306b8e"/><stop offset="0.889" stop-color="#2d728e"/><stop offset="0.944" stop-color="#287d8e"/><stop offset="1.000" stop-color="#228b8d"/></linearGradient>
<linearGradient id="gb27" x1="0" y1="0" x2="0" y2="1"><stop offset="0.000" stop-color="#471264"/><stop offset="0.056" stop-color="#460d5f"/><stop offset="0.111" stop-color="#460d5f"/><stop offset="0.167" stop-color="#471265"/><stop offset="0.222" stop-color="#481d6e"/><stop offset="0.278" stop-color="#472777"/><stop offset="0.333" stop-color="#46347f"/><stop offset="0.389" stop-color="#424186"/><stop offset="0.444" stop-color="#3d4d89"/><stop offset="0.500" stop-color="#39558c"/><stop offset="0.556" stop-color="#365c8d"/><stop offset="0.611" stop-color="#35608d"/><stop offset="0.667" stop-color="#33638d"/><stop offset="0.722" stop-color="#32658e"/><stop offset="0.778" stop-color="#32678e"/><stop offset="0.833" stop-color="#306a8e"/><stop offset="0.889" stop-color="#2d718e"/><stop offset="0.944" stop-color="#287c8e"/><stop offset="1.000" stop-color="#238a8e"/></linearGradient>
<linearGradient id="gb28" x1="0" y1="0" x2="0" y2="1"><stop offset="0.000" stop-color="#471466"/><stop offset="0.056" stop-color="#460f61"/><stop offset="0.111" stop-color="#460f61"/><stop offset="0.167" stop-color="#471466"/><stop offset="0.222" stop-color="#481d6f"/><stop offset="0.278" stop-color="#472877"/><stop offset="0.333" stop-color="#46337f"/><stop offset="0.389" stop-color="#424185"/><stop offset="0.444" stop-color="#3d4c89"/><stop offset="0.500" stop-color="#3a558c"/><stop offset="0.556" stop-color="#375b8d"/><stop offset="0.611" stop-color="#355f8d"/><stop offset="0.667" stop-color="#34628d"/><stop offset="0.722" stop-color="#33648e"/><stop offset="0.778" stop-color="#32668e"/><stop offset="0.833" stop-color="#30698e"/><stop offset="0.889" stop-color="#2d708e"/><stop offset="0.944" stop-color="#297b8e"/><stop offset="1.000" stop-color="#23898e"/></linearGradient>
<linearGradient id="gb29" x1="0" y1="0" x2="0" y2="1"><stop offset="0.000" stop-color="#471668"/><stop offset="0.056" stop-color="#461163"/><stop offset="0.111" stop-color="#461163"/><stop offset="0.167" stop-color="#471568"/><stop offset="0.222" stop-color="#481e6f"/><stop offset="0.278" stop-color="#472877"/><stop offset="0.333" stop-color="#46337f"/><stop offset="0.389" stop-color="#424085"/><stop offset="0.444" stop-color="#3e4b89"/><stop offset="0.500" stop-color="#3a548b"/><stop offset="0.556" stop-color="#375a8c"/><stop offset="0.611" stop-color="#355e8d"/><stop offset="0.667" stop-color="#34618d"/><stop offset="0.722" stop-color="#33648e"/><stop offset="0.778" stop-color="#32658e"/><stop offset="0.833" stop-color="#31688e"/><stop offset="0.889" stop-color="#2e6f8e"/><stop offset="0.944" stop-color="#297a8e"/><stop offset="1.000" stop-color="#23888e"/></linearGradient>
<linearGradient id="gb30" x1="0" y1="0" x2="0" y2="1"><stop offset="0.000" stop-color="#48186a"/><stop offset="0.056" stop-color="#471365"/><stop offset="0.111" stop-color="#471265"/><stop offset="0.167" stop-color="#481769"/><stop offset="0.222" stop-color="#481f70"/><stop offset="0.278" stop-color="#472878"/><stop offset="0.333" stop-color="#46337f"/><stop offset="0.389" stop-color="#424085"/><stop offset="0.444" stop-color="#3e4b89"/><stop offset="0.500" stop-color="#3a538b"/><stop offset="0.556" stop-color="#38598c"/><stop offset="0.611" stop-color="#365d8d"/><stop offset="0.667" stop-color="#34618d"/><stop offset="0.722" stop-color="#33638d"/><stop offset="0.778" stop-color="#33648e"/><stop offset="0.833" stop-color="#31688e"/><stop offset="0.889" stop-color="#2e6f8e"/><stop offset="0.944" stop-color="#2a798e"/><stop offset="1.000" stop-color="#23878e"/></linearGradient>
<linearGradient id="gb31" x1="0" y1="0" x2="0" y2="1"><stop offset="0.000" stop-color="#481a6c"/><stop offset="0.056" stop-color="#471567"/><stop offset="0.111" stop-color="#471467"/><stop offset="0.167" stop-color="#48196b"/><stop offset="0.222" stop-color="#482071"/><stop offset="0.278" stop-color="#472978"/><stop offset="0.333" stop-color="#46347f"/><stop offset="0.389" stop-color="#424085"/><stop offset="0.444" stop-color="#3e4a89"/><stop offset="0.500" stop-color="#3b538b"/><stop offset="0.556" stop-color="#38598c"/><stop offset="0.611" stop-color="#365d8d"/><stop offset="0.667" stop-color="#34608d"/><stop offset="0.722" stop-color="#33628d"/><stop offset="0.778" stop-color="#33648e"/><stop offset="0.833" stop-color="#31678e"/><stop offset="0.889" stop-color="#2e6e8e"/><stop offset="0.944" stop-color="#2a788e"/><stop offset="1.000" stop-color="#24878e"/></linearGradient>
<linearGradient id="gb32" x1="0" y1="0" x2="0" y2="1"><stop offset="0.000" stop-color="#481b6d"/><stop offset="0.056" stop-color="#481769"/><stop offset="0.111" stop-color="#471669"/><stop offset="0.167" stop-color="#481a6c"/><stop offset="0.222" stop-color="#482172"/><stop offset="0.278" stop-color="#472a79"/><stop offset="0.333" stop-color="#46347f"/><stop offset="0.389" stop-color="#424085"/><stop offset="0.444" stop-color="#3e4a89"/><stop offset="0.500" stop-color="#3b528b"/><stop offset="0.556" stop-color="#38588c"/><stop offset="0.611" stop-color="#365d8d"/><stop offset="0.667" stop-color="#35608d"/><stop offset="0.722" stop-color="#34628d"/><stop offset="0.778" stop-color="#33638d"/><stop offset="0.833" stop-color="#32678e"/><stop offset="0.889" stop-color="#2f6d8e"/><stop offset="0.944" stop-color="#2a788e"/><stop offset="1.000" stop-color="#24868e"/></linearGradient>
<linearGradient id="gb33" x1="0" y1="0" x2="0" y2="1"><stop offset="0.000" stop-color="#481d6f"/><stop offset="0.056" stop-color="#48196b"/><stop offset="0.111" stop-color="#48186b"/><stop offset="0.167" stop-color="#481c6d"/><stop offset="0.222" stop-color="#482272"/><stop offset="0.278" stop-color="#472a79"/><stop offset="0.333" stop-color="#46347f"/><stop offset="0.389" stop-color="#424085"/><stop offset="0.444" stop-color="#3e4a89"/><stop offset="0.500" stop-color="#3b528b"/><stop offset="0.556" stop-color="#38588c"/><stop offset="0.611" stop-color="#365d8d"/><stop offset="0.667" stop-color="#35608d"/><stop offset="0.722" stop-color="#34628d"/><stop offset="0.778" stop-color="#33638d"/><stop offset="0.833" stop-color="#32668e"/><stop offset="0.889" stop-color="#2f6d8e"/><stop offset="0.944" stop-color="#2a778e"/><stop offset="1.000" stop-color="#24858e"/></linearGradient>
<linearGradient id="gb34" x1="0" y1="0" x2="0" y2="1"><stop offset="0.000" stop-color="#481f70"/><stop offset="0.056" stop-color="#481b6d"/><stop offset="0.111" stop-color="#481b6c"/><stop offset="0.167" stop-color="#481d6f"/><stop offset="0.222" stop-color="#482373"/><stop offset="0.278" stop-color="#472b7a"/><stop offset="0.333" stop-color="#453580"/><stop offset="0.389" stop-color="#424085"/><stop offset="0.444" stop-color="#3e4a89"/><stop offset="0.500" stop-color="#3b528b"/><stop offset="0.556" stop-color="#38588c"/><stop offset="0.611" stop-color="#365d8d"/><stop offset="0.667" stop-color="#35608d"/><stop offset="0.722" stop-color="#34628d"/><stop offset="0.778" stop-color="#33638d"/><stop offset="0.833" stop-color="#32668e"/><stop offset="0.889" stop-color="#2f6d8e"/><stop offset="0.944" stop-color="#2a778e"/><stop offset="1.000" stop-color="#24858e"/></linearGradient>
<linearGradient id="gb35" x1="0" y1="0" x2="0" y2="1"><stop offset="0.000" stop-color="#482172"/><stop offset="0.056" stop-color="#481d6f"/><stop offset="0.111" stop-color="#481c6e"/><stop offset="0.167" stop-color="#481f70"/><stop offset="0.222" stop-color="#482474"/><stop offset="0.278" stop-color="#472c7a"/><stop offset="0.333" stop-color="#453580"/><stop offset="0.389" stop-color="#424085"/><stop offset="0.444" stop-color="#3e4a89"/><stop offset="0.500" stop-color="#3b528b"/><stop offset="0.556" stop-color="#38588c"/><stop offset="0.611" stop-color="#365d8d"/><stop offset="0.667" stop-color="#34608d"/><stop offset="0.722" stop-color="#34628d"/><stop offset="0.778" stop-color="#33638d"/><stop offset="0.833" stop-color="#32668e"/><stop offset="0.889" stop-color="#2f6d8e"/><stop offset="0.944" stop-color="#2b778e"/><stop offset="1.000" stop-color="#24858e"/></linearGradient>
<linearGradient id="gb36" x1="0" y1="0" x2="0" y2="1"><stop offset="0.000" stop-color="#482373"/><stop offset="0.056" stop-color="#481f70"/><stop offset="0.111" stop-color="#481e70"/><stop offset="0.167" stop-color="#482171"/><stop offset="0.222" stop-color="#472675"/><stop offset="0.278" stop-color="#472d7b"/><stop offset="0.333" stop-color="#453680"/><stop offset="0.389" stop-color="#424185"/><stop offset="0.444" stop-color="#3e4a89"/><stop offset="0.500" stop-color="#3b528b"/><stop offset="0.556" stop-color="#38588c"/><stop offset="0.611" stop-color="#365d8d"/><stop offset="0.667" stop-color="#34608d"/><stop offset="0.722" stop-color="#34628d"/><stop offset="0.778" stop-color="#33638d"/><stop offset="0.833" stop-color="#32668e"/><stop offset="0.889" stop-color="#2f6c8e"/><stop offset="0.944" stop-color="#2b768e"/><stop offset="1.000" stop-color="#25848e"/></linearGradient>
<linearGradient id="gb37" x1="0" y1="0" x2="0" y2="1"><stop offset="0.000" stop-color="#472575"/><stop offset="0.056" stop-color="#482172"/><stop offset="0.111" stop-color="#482071"/><stop offset="0.167" stop-color="#482273"/><stop offset="0.222" stop-color="#472777"/><stop offset="0.278" stop-color="#472e7c"/><stop offset="0.333" stop-color="#453781"/><stop offset="0.389" stop-color="#424186"/><stop offset="0.444" stop-color="#3e4b89"/><stop offset="0.500" stop-color="#3b528b"/><stop offset="0.556" stop-color="#38598c"/><stop offset="0.611" stop-color="#365d8d"/><stop offset="0.667" stop-color="#34618d"/><stop offset="0.722" stop-color="#33638d"/><stop offset="0.778" stop-color="#33638d"/><stop offset="0.833" stop-color="#32668e"/><stop offset="0.889" stop-color="#2f6c8e"/><stop offset="0.944" stop-color="#2b768e"/><stop offset="1.000" stop-color="#25848e"/></linearGradient>
<linearGradient id="gb38" x1="0" y1="0" x2="0" y2="1"><stop offset="0.000" stop-color="#472777"/><stop offset="0.056" stop-color="#482474"/><stop offset="0.111" stop-color="#482373"/><stop offset="0.167" stop-color="#482474"/><stop offset="0.222" stop-color="#472978"/><stop offset="0.278" stop-color="#472f7d"/><stop offset="0.333" stop-color="#453881"/><stop offset="0.389" stop-color="#424286"/><stop offset="0.444" stop-color="#3e4b89"/><stop offset="0.500" stop-color="#3a538b"/><stop offset="0.556" stop-color="#38598c"/><stop offset="0.611" stop-color="#365e8d"/><stop offset="0.667" stop-color="#34618d"/><stop offset="0.722" stop-color="#33638d"/><stop offset="0.778" stop-color="#33638d"/><stop offset="0.833" stop-color="#32668e"/><stop offset="0.889" stop-color="#2f6c8e"/><stop offset="0.944" stop-color="#2b768e"/><stop offset="1.000" stop-color="#25848e"/></linearGradient>
<linearGradient id="gb39" x1="0" y1="0" x2="0" y2="1"><stop offset="0.000" stop-color="#472a79"/><stop offset="0.056" stop-color="#472676"/><stop offset="0.111" stop-color="#472575"/><stop offset="0.167" stop-color="#472676"/><stop offset="0.222" stop-color="#472b79"/><stop offset="0.278" stop-color="#47317e"/><stop offset="0.333" stop-color="#443982"/><stop offset="0.389" stop-color="#414386"/><stop offset="0.444" stop-color="#3e4c89"/><stop offset="0.500" stop-color="#3a538b"/><stop offset="0.556" stop-color="#38598c"/><stop offset="0.611" stop-color="#365e8d"/><stop offset="0.667" stop-color="#34618d"/><stop offset="0.722" stop-color="#33638d"/><stop offset="0.778" stop-color="#33638d"/><stop offset="0.833" stop-color="#32668e"/><stop offset="0.889" stop-color="#2f6c8e"/><stop offset="0.944" stop-color="#2b768e"/><stop offset="1.000" stop-color="#25848e"/></linearGradient>
<linearGradient id="gb40" x1="0" y1="0" x2="0" y2="1"><stop offset="0.000" stop-color="#472c7b"/><stop offset="0.056" stop-color="#472978"/><stop offset="0.111" stop-color="#472777"/><stop offset="0.167" stop-color="#472978"/><stop offset="0.222" stop-color="#472c7b"/><stop offset="0.278" stop-color="#46327f"/><stop offset="0.333" stop-color="#443a82"/><stop offset="0.389" stop-color="#414487"/><stop offset="0.444" stop-color="#3d4c89"/><stop offset="0.500" stop-color="#3a538b"/><stop offset="0.556" stop-color="#37598c"/><stop offset="0.611" stop-color="#355e8d"/><stop offset="0.667" stop-color="#34618d"/><stop offset="0.722" stop-color="#33638d"/><stop offset="0.778" stop-color="#33648e"/><stop offset="0.833" stop-color="#32668e"/><stop offset="0.889" stop-color="#2f6d8e"/><stop offset="0.944" stop-color="#2b768e"/><stop offset="1.000" stop-color="#25848e"/></linearGradient>
<linearGradient id="gb41" x1="0" y1="0" x2="0" y2="1"><stop offset="0.000" stop-color="#472f7d"/><stop offset="0.056" stop-color="#472b7a"/><stop offset="0.111" stop-color="#472a79"/><stop offset="0.167" stop-color="#472b7a"/><stop offset="0.222" stop-color="#472e7d"/><stop offset="0.278" stop-color="#46347f"/><stop offset="0.333" stop-color="#433b83"/><stop offset="0.389" stop-color="#414587"/><stop offset="0.444" stop-color="#3d4d89"/><stop offset="0.500" stop-color="#3a548b"/><stop offset="0.556" stop-color="#375a8c"/><stop offset="0.611" stop-color="#355e8d"/><stop offset="0.667" stop-color="#34628d"/><stop offset="0.722" stop-color="#33638d"/><stop offset="0.778" stop-color="#33648e"/><stop offset="0.833" stop-color="#32678e"/><stop offset="0.889" stop-color="#2f6d8e"/><stop offset="0.944" stop-color="#2b768e"/><stop offset="1.000" stop-color="#25848e"/></linearGradient>
<linearGradient id="gb42" x1="0" y1="0" x2="0" y2="1"><stop offset="0.000" stop-color="#46327e"/><stop offset="0.056" stop-color="#472e7c"/><stop offset="0.111" stop-color="#472c7b"/><stop offset="0.167" stop-color="#472d7c"/><stop offset="0.222" stop-color="#47317e"/><stop offset="0.278" stop-color="#453680"/><stop offset="0.333" stop-color="#433d84"/><stop offset="0.389" stop-color="#404687"/><stop offset="0.444" stop-color="#3d4e8a"/><stop offset="0.500" stop-color="#3a558c"/><stop offset="0.556" stop-color="#375a8c"/><stop offset="0.611" stop-color="#355f8d"/><stop offset="0.667" stop-color="#34628d"/><stop offset="0.722" stop-color="#33648e"/><stop offset="0.778" stop-color="#33648e"/><stop offset="0.833" stop-color="#31678e"/><stop offset="0.889" stop-color="#2f6d8e"/><stop offset="0.944" stop-color="#2b778e"/><stop offset="1.000" stop-color="#25848e"/></linearGradient>
<linearGradient id="gb43" x1="0" y1="0" x2="0" y2="1"><stop offset="0.000" stop-color="#453580"/><stop offset="0.056" stop-color="#46317e"/><stop offset="0.111" stop-color="#472f7d"/><stop offset="0.167" stop-color="#47307d"/><stop offset="0.222" stop-color="#46337f"/><stop offset="0.278" stop-color="#443881"/><stop offset="0.333" stop-color="#433f84"/><stop offset="0.389" stop-color="#404788"/><stop offset="0.444" stop-color="#3c4f8a"/><stop offset="0.500" stop-color="#39558c"/><stop offset="0.556" stop-color="#375b8d"/><stop offset="0.611" stop-color="#355f8d"/><stop offset="0.667" stop-color="#34628d"/><stop offset="0.722" stop-color="#33648e"/><stop offset="0.778" stop-color="#32658e"/><stop offset="0.833" stop-color="#31678e"/><stop offset="0.889" stop-color="#2f6d8e"/><stop offset="0.944" stop-color="#2a778e"/><stop offset="1.000" stop-color="#25848e"/></linearGradient>
<linearGradient id="gb44" x1="0" y1="0" x2="0" y2="1"><stop offset="0.000" stop-color="#443881"/><stop offset="0.056" stop-color="#46347f"/><stop offset="0.111" stop-color="#46327e"/><stop offset="0.167" stop-color="#46327f"/><stop offset="0.222" stop-color="#453580"/><stop offset="0.278" stop-color="#443a82"/><stop offset="0.333" stop-color="#424085"/><stop offset="0.389" stop-color="#3f4888"/><stop offset="0.444" stop-color="#3c4f8a"/><stop offset="0.500" stop-color="#39568c"/><stop offset="0.556" stop-color="#375b8d"/><stop offset="0.611" stop-color="#355f8d"/><stop offset="0.667" stop-color="#34628d"/><stop offset="0.722" stop-color="#33648e"/><stop offset="0.778" stop-color="#32658e"/><stop offset="0.833" stop-color="#31688e"/><stop offset="0.889" stop-color="#2e6e8e"/><stop offset="0.944" stop-color="#2a778e"/><stop offset="1.000" stop-color="#25848e"/></linearGradient>
<linearGradient id="gb45" x1="0" y1="0" x2="0" y2="1"><stop offset="0.000" stop-color="#443b83"/><stop offset="0.056" stop-color="#453781"/><stop offset="0.111" stop-color="#453580"/><stop offset="0.167" stop-color="#453580"/><stop offset="0.222" stop-color="#453881"/><stop offset="0.278" stop-color="#433c83"/><stop offset="0.333" stop-color="#414286"/><stop offset="0.389" stop-color="#3f4989"/><stop offset="0.444" stop-color="#3b508a"/><stop offset="0.500" stop-color="#39578c"/><stop offset="0.556" stop-color="#375c8d"/><stop offset="0.611" stop-color="#35608d"/><stop offset="0.667" stop-color="#33638d"/><stop offset="0.722" stop-color="#33658e"/><stop offset="0.778" stop-color="#32668e"/><stop offset="0.833" stop-color="#31698e"/><stop offset="0.889" stop-color="#2e6e8e"/><stop offset="0.944" stop-color="#2a788e"/><stop offset="1.000" stop-color="#25848e"/></linearGradient>
<linearGradient id="gb46" x1="0" y1="0" x2="0" y2="1"><stop offset="0.000" stop-color="#433e84"/><stop offset="0.056" stop-color="#443a82"/><stop offset="0.111" stop-color="#443881"/><stop offset="0.167" stop-color="#443881"/><stop offset="0.222" stop-color="#443a82"/><stop offset="0.278" stop-color="#433f84"/><stop offset="0.333" stop-color="#414487"/><stop offset="0.389" stop-color="#3e4b89"/><stop offset="0.444" stop-color="#3b528b"/><stop offset="0.500" stop-color="#38578c"/><stop offset="0.556" stop-color="#365c8d"/><stop offset="0.611" stop-color="#35608d"/><stop offset="0.667" stop-color="#33638d"/><stop offset="0.722" stop-color="#32658e"/><stop offset="0.778" stop-color="#32668e"/><stop offset="0.833" stop-color="#31698e"/><stop offset="0.889" stop-color="#2e6f8e"/><stop offset="0.944" stop-color="#2a788e"/><stop offset="1.000" stop-color="#25848e"/></linearGradient>
<linearGradient id="gb47" x1="0" y1="0" x2="0" y2="1"><stop offset="0.000" stop-color="#424286"/><stop offset="0.056" stop-color="#433d84"/><stop offset="0.111" stop-color="#443b83"/><stop offset="0.167" stop-color="#443b83"/><stop offset="0.222" stop-color="#433d84"/><stop offset="0.278" stop-color="#424186"/><stop offset="0.333" stop-color="#404688"/><stop offset="0.389" stop-color="#3d4c89"/><stop offset="0.444" stop-color="#3a538b"/><stop offset="0.500" stop-color="#38588c"/><stop offset="0.556" stop-color="#365d8d"/><stop offset="0.611" stop-color="#34608d"/><stop offset="0.667" stop-color="#33638d"/><stop offset="0.722" stop-color="#32658e"/><stop offset="0.778" stop-color="#32678e"/><stop offset="0.833" stop-color="#306a8e"/><stop offset="0.889" stop-color="#2e708e"/><stop offset="0.944" stop-color="#2a798e"/><stop offset="1.000" stop-color="#24858e"/></linearGradient>
<linearGradient id="gb48" x1="0" y1="0" x2="0" y2="1"><stop offset="0.000" stop-color="#404587"/><stop offset="0.056" stop-color="#424185"/><stop offset="0.111" stop-color="#433e84"/><stop offset="0.167" stop-color="#433e84"/><stop offset="0.222" stop-color="#424085"/><stop offset="0.278" stop-color="#414487"/><stop offset="0.333" stop-color="#3f4888"/><stop offset="0.389" stop-color="#3d4e8a"/><stop offset="0.444" stop-color="#3a548b"/><stop offset="0.500" stop-color="#38598c"/><stop offset="0.556" stop-color="#365e8d"/><stop offset="0.611" stop-color="#34618d"/><stop offset="0.667" stop-color="#33648e"/><stop offset="0.722" stop-color="#32668e"/><stop offset="0.778" stop-color="#31678e"/><stop offset="0.833" stop-color="#306b8e"/><stop offset="0.889" stop-color="#2d708e"/><stop offset="0.944" stop-color="#29798e"/><stop offset="1.000" stop-color="#24858e"/></linearGradient>
<linearGradient id="gb49" x1="0" y1="0" x2="0" y2="1"><stop offset="0.000" stop-color="#3f4888"/><stop offset="0.056" stop-color="#414487"/><stop offset="0.111" stop-color="#424286"/><stop offset="0.167" stop-color="#424186"/><stop offset="0.222" stop-color="#414386"/><stop offset="0.278" stop-color="#404688"/><stop offset="0.333" stop-color="#3e4a89"/><stop offset="0.389" stop-color="#3c508a"/><stop offset="0.444" stop-color="#39558c"/><stop offset="0.500" stop-color="#375a8c"/><stop offset="0.556" stop-color="#355e8d"/><stop offset="0.611" stop-color="#34628d"/><stop offset="0.667" stop-color="#33648e"/><stop offset="0.722" stop-color="#32678e"/><stop offset="0.778" stop-color="#31688e"/><stop offset="0.833" stop-color="#306b8e"/><stop offset="0.889" stop-color="#2d718e"/><stop offset="0.944" stop-color="#297a8e"/><stop offset="1.000" stop-color="#24868e"/></linearGradient>
<linearGradient id="gb50" x1="0" y1="0" x2="0" y2="1"><stop offset="0.000" stop-color="#3e4c89"/><stop offset="0.056" stop-color="#404788"/><stop offset="0.111" stop-color="#414587"/><stop offset="0.167" stop-color="#414487"/><stop offset="0.222" stop-color="#404687"/><stop offset="0.278" stop-color="#3f4888"/><stop offset="0.333" stop-color="#3d4c89"/><stop offset="0.389" stop-color="#3b518b"/><stop offset="0.444" stop-color="#39578c"/><stop offset="0.500" stop-color="#365c8d"/><stop offset="0.556" stop-color="#35608d"/><stop offset="0.611" stop-color="#33638d"/><stop offset="0.667" stop-color="#32658e"/><stop offset="0.722" stop-color="#31688e"/><stop offset="0.778" stop-color="#30698e"/><stop offset="0.833" stop-color="#2f6c8e"/><stop offset="0.889" stop-color="#2d728e"/><stop offset="0.944" stop-color="#297b8e"/><stop offset="1.000" stop-color="#24868e"/></linearGradient>
<linearGradient id="gb51" x1="0" y1="0" x2="0" y2="1"><stop offset="0.000" stop-color="#3c4f8a"/><stop offset="0.056" stop-color="#3e4b89"/><stop offset="0.111" stop-color="#3f4888"/><stop offset="0.167" stop-color="#404788"/><stop offset="0.222" stop-color="#3f4888"/><stop offset="0.278" stop-color="#3e4b89"/><stop offset="0.333" stop-color="#3c4e8a"/><stop offset="0.389" stop-color="#3a538b"/><stop offset="0.444" stop-color="#38598c"/><stop offset="0.500" stop-color="#365d8d"/><stop offset="0.556" stop-color="#34618d"/><stop offset="0.611" stop-color="#33648e"/><stop offset="0.667" stop-color="#32668e"/><stop offset="0.722" stop-color="#31698e"/><stop offset="0.778" stop-color="#306a8e"/><stop offset="0.833" stop-color="#2f6d8e"/><stop offset="0.889" stop-color="#2c738e"/><stop offset="0.944" stop-color="#287c8e"/><stop offset="1.000" stop-color="#24878e"/></linearGradient>
<linearGradient id="gb52" x1="0" y1="0" x2="0" y2="1"><stop offset="0.000" stop-color="#3b538b"/><stop offset="0.056" stop-color="#3d4e8a"/><stop offset="0.111" stop-color="#3e4b89"/><stop offset="0.167" stop-color="#3e4a89"/><stop offset="0.222" stop-color="#3e4b89"/><stop offset="0.278" stop-color="#3d4d89"/><stop offset="0.333" stop-color="#3b508a"/><stop offset="0.389" stop-color="#39558c"/><stop offset="0.444" stop-color="#375a8c"/><stop offset="0.500" stop-color="#355f8d"/><stop offset="0.556" stop-color="#34628d"/><stop offset="0.611" stop-color="#32658e"/><stop offset="0.667" stop-color="#31688e"/><stop offset="0.722" stop-color="#306a8e"/><stop offset="0.778" stop-color="#306b8e"/><stop offset="0.833" stop-color="#2e6f8e"/><stop offset="0.889" stop-color="#2c748e"/><stop offset="0.944" stop-color="#287d8e"/><stop offset="1.000" stop-color="#23888e"/></linearGradient>
<linearGradient id="gb53" x1="0" y1="0" x2="0" y2="1"><stop offset="0.000" stop-color="#39568c"/><stop offset="0.056" stop-color="#3b528b"/><stop offset="0.111" stop-color="#3c4f8a"/><stop offset="0.167" stop-color="#3d4d8a"/><stop offset="0.222" stop-color="#3d4e8a"/><stop offset="0.278" stop-color="#3c4f8a"/><stop offset="0.333" stop-color="#3b538b"/><stop offset="0.389" stop-color="#38578c"/><stop offset="0.444" stop-color="#365c8d"/><stop offset="0.500" stop-color="#34608d"/><stop offset="0.556" stop-color="#33648e"/><stop offset="0.611" stop-color="#32668e"/><stop offset="0.667" stop-color="#31698e"/><stop offset="0.722" stop-color="#306b8e"/><stop offset="0.778" stop-color="#2f6d8e"/><stop offset="0.833" stop-color="#2e708e"/><stop offset="0.889" stop-color="#2b768e"/><stop offset="0.944" stop-color="#287e8e"/><stop offset="1.000" stop-color="#23888e"/></linearGradient>
<linearGradient id="gb54" x1="0" y1="0" x2="0" y2="1"><stop offset="0.000" stop-color="#375a8c"/><stop offset="0.056" stop-color="#39558c"/><stop offset="0.111" stop-color="#3b528b"/><stop offset="0.167" stop-color="#3b508a"/><stop offset="0.222" stop-color="#3b508a"/><stop offset="0.278" stop-color="#3b528b"/><stop offset="0.333" stop-color="#3a558c"/><stop offset="0.389" stop-color="#38598c"/><stop offset="0.444" stop-color="#355e8d"/><stop offset="0.500" stop-color="#34628d"/><stop offset="0.556" stop-color="#32658e"/><stop offset="0.611" stop-color="#31688e"/><stop offset="0.667" stop-color="#306a8e"/><stop offset="0.722" stop-color="#2f6c8e"/><stop offset="0.778" stop-color="#2e6e8e"/><stop offset="0.833" stop-color="#2d718e"/><stop offset="0.889" stop-color="#2b778e"/><stop offset="0.944" stop-color="#277f8e"/><stop offset="1.000" stop-color="#23898e"/></linearGradient>
<linearGradient id="gb55" x1="0" y1="0" x2="0" y2="1"><stop offset="0.000" stop-color="#365e8d"/><stop offset="0.056" stop-color="#38598c"/><stop offset="0.111" stop-color="#39568c"/><stop offset="0.167" stop-color="#3a548b"/><stop offset="0.222" stop-color="#3a538b"/><stop offset="0.278" stop-color="#3a548c"/><stop offset="0.333" stop-color="#39578c"/><stop offset="0.389" stop-color="#375b8d"/><stop offset="0.444" stop-color="#35608d"/><stop offset="0.500" stop-color="#33648e"/><stop offset="0.556" stop-color="#31678e"/><stop offset="0.611" stop-color="#306a8e"/><stop offset="0.667" stop-color="#2f6c8e"/><stop offset="0.722" stop-color="#2f6e8e"/><stop offset="0.778" stop-color="#2e6f8e"/><stop offset="0.833" stop-color="#2c738e"/><stop offset="0.889" stop-color="#2a788e"/><stop offset="0.944" stop-color="#27808e"/><stop offset="1.000" stop-color="#228a8e"/></linearGradient>
<linearGradient id="gb56" x1="0" y1="0" x2="0" y2="1"><stop offset="0.000" stop-color="#34628d"/><stop offset="0.056" stop-color="#365d8d"/><stop offset="0.111" stop-color="#38598c"/><stop offset="0.167" stop-color="#39578c"/><stop offset="0.222" stop-color="#39568c"/><stop offset="0.278" stop-color="#39578c"/><stop offset="0.333" stop-color="#37598c"/><stop offset="0.389" stop-color="#365e8d"/><stop offset="0.444" stop-color="#34628d"/><stop offset="0.500" stop-color="#32668e"/><stop offset="0.556" stop-color="#31698e"/><stop offset="0.611" stop-color="#306b8e"/><stop offset="0.667" stop-color="#2f6d8e"/><stop offset="0.722" stop-color="#2e6f8e"/><stop offset="0.778" stop-color="#2d718e"/><stop offset="0.833" stop-color="#2c748e"/><stop offset="0.889" stop-color="#297a8e"/><stop offset="0.944" stop-color="#26818e"/><stop offset="1.000" stop-color="#228b8d"/></linearGradient>
<linearGradient id="gb57" x1="0" y1="0" x2="0" y2="1"><stop offset="0.000" stop-color="#32668e"/><stop offset="0.056" stop-color="#34618d"/><stop offset="0.111" stop-color="#365d8d"/><stop offset="0.167" stop-color="#375b8d"/><stop offset="0.222" stop-color="#38598c"/><stop offset="0.278" stop-color="#375a8c"/><stop offset="0.333" stop-color="#365c8d"/><stop offset="0.389" stop-color="#35608d"/><stop offset="0.444" stop-color="#33648e"/><stop offset="0.500" stop-color="#31688e"/><stop offset="0.556" stop-color="#306b8e"/><stop offset="0.611" stop-color="#2f6d8e"/><stop offset="0.667" stop-color="#2e6f8e"/><stop offset="0.722" stop-color="#2d718e"/><stop offset="0.778" stop-color="#2c738e"/><stop offset="0.833" stop-color="#2b768e"/><stop offset="0.889" stop-color="#297b8e"/><stop offset="0.944" stop-color="#25828e"/><stop offset="1.000" stop-color="#228c8d"/></linearGradient>
<linearGradient id="gb58" x1="0" y1="0" x2="0" y2="1"><stop offset="0.000" stop-color="#306a8e"/><stop offset="0.056" stop-color="#32658e"/><stop offset="0.111" stop-color="#34618d"/><stop offset="0.167" stop-color="#355e8d"/><stop offset="0.222" stop-color="#365c8d"/><stop offset="0.278" stop-color="#365c8d"/><stop offset="0.333" stop-color="#355e8d"/><stop offset="0.389" stop-color="#34628d"/><stop offset="0.444" stop-color="#32678e"/><stop offset="0.500" stop-color="#306a8e"/><stop offset="0.556" stop-color="#2f6d8e"/><stop offset="0.611" stop-color="#2e6f8e"/><stop offset="0.667" stop-color="#2d718e"/><stop offset="0.722" stop-color="#2c738e"/><stop offset="0.778" stop-color="#2b758e"/><stop offset="0.833" stop-color="#2a788e"/><stop offset="0.889" stop-color="#287d8e"/><stop offset="0.944" stop-color="#25848e"/><stop offset="1.000" stop-color="#228d8d"/></linearGradient>
<linearGradient id="gb59" x1="0" y1="0" x2="0" y2="1"><stop offset="0.000" stop-color="#2f6d8e"/><stop offset="0.056" stop-color="#31698e"/><stop offset="0.111" stop-color="#33658e"/><stop offset="0.167" stop-color="#34618d"/><stop offset="0.222" stop-color="#355f8d"/><stop offset="0.278" stop-color="#355f8d"/><stop offset="0.333" stop-color="#34618d"/><stop offset="0.389" stop-color="#32658e"/><stop offset="0.444" stop-color="#31698e"/><stop offset="0.500" stop-color="#2f6c8e"/><stop offset="0.556" stop-color="#2e6f8e"/><stop offset="0.611" stop-color="#2d718e"/><stop offset="0.667" stop-color="#2c738e"/><stop offset="0.722" stop-color="#2b758e"/><stop offset="0.778" stop-color="#2b768e"/><stop offset="0.833" stop-color="#29798e"/><stop offset="0.889" stop-color="#277e8e"/><stop offset="0.944" stop-color="#24858e"/><stop offset="1.000" stop-color="#218e8d"/></linearGradient>
<linearGradient id="gb60" x1="0" y1="0" x2="0" y2="1"><stop offset="0.000" stop-color="#2d718e"/><stop offset="0.056" stop-color="#2f6c8e"/><stop offset="0.111" stop-color="#31688e"/><stop offset="0.167" stop-color="#32658e"/><stop offset="0.222" stop-color="#33638d"/><stop offset="0.278" stop-color="#34628d"/><stop offset="0.333" stop-color="#33648e"/><stop offset="0.389" stop-color="#31678e"/><stop offset="0.444" stop-color="#306b8e"/><stop offset="0.500" stop-color="#2e6e8e"/><stop offset="0.556" stop-color="#2d718e"/><stop offset="0.611" stop-color="#2c738e"/><stop offset="0.667" stop-color="#2b758e"/><stop offset="0.722" stop-color="#2b778e"/><stop offset="0.778" stop-color="#2a788e"/><stop offset="0.833" stop-color="#297b8e"/><stop offset="0.889" stop-color="#27808e"/><stop offset="0.944" stop-color="#24868e"/><stop offset="1.000" stop-color="#218f8d"/></linearGradient>
<linearGradient id="gb61" x1="0" y1="0" x2="0" y2="1"><stop offset="0.000" stop-color="#2c748e"/><stop offset="0.056" stop-color="#2e6f8e"/><stop offset="0.111" stop-color="#306b8e"/><stop offset="0.167" stop-color="#31688e"/><stop offset="0.222" stop-color="#32668e"/><stop offset="0.278" stop-color="#32658e"/><stop offset="0.333" stop-color="#32668e"/><stop offset="0.389" stop-color="#306a8e"/><stop offset="0.444" stop-color="#2f6d8e"/><stop offset="0.500" stop-color="#2d718e"/><stop offset="0.556" stop-color="#2c738e"/><stop offset="0.611" stop-color="#2b758e"/><stop offset="0.667" stop-color="#2a778e"/><stop offset="0.722" stop-color="#2a798e"/><stop offset="0.778" stop-color="#297a8e"/><stop offset="0.833" stop-color="#287d8e"/><stop offset="0.889" stop-color="#26818e"/><stop offset="0.944" stop-color="#23888e"/><stop offset="1.000" stop-color="#21908c"/></linearGradient>
<linearGradient id="gb62" x1="0" y1="0" x2="0" y2="1"><stop offset="0.000" stop-color="#2a778e"/><stop offset="0.056" stop-color="#2c738e"/><stop offset="0.111" stop-color="#2e6f8e"/><stop offset="0.167" stop-color="#306b8e"/><stop offset="0.222" stop-color="#31698e"/><stop offset="0.278" stop-color="#31688e"/><stop offset="0.333" stop-color="#30698e"/><stop offset="0.389" stop-color="#2f6c8e"/><stop offset="0.444" stop-color="#2e708e"/><stop offset="0.500" stop-color="#2c738e"/><stop offset="0.556" stop-color="#2b758e"/><stop offset="0.611" stop-color="#2a778e"/><stop offset="0.667" stop-color="#2a798e"/><stop offset="0.722" stop-color="#297b8e"/><stop offset="0.778" stop-color="#287c8e"/><stop offset="0.833" stop-color="#277e8e"/><stop offset="0.889" stop-color="#25838e"/><stop offset="0.944" stop-color="#23898e"/><stop offset="1.000" stop-color="#21918c"/></linearGradient>
<linearGradient id="gb63" x1="0" y1="0" x2="0" y2="1"><stop offset="0.000" stop-color="#297b8e"/><stop offset="0.056" stop-color="#2b768e"/><stop offset="0.111" stop-color="#2d728e"/><stop offset="0.167" stop-color="#2e6e8e"/><stop offset="0.222" stop-color="#2f6c8e"/><stop offset="0.278" stop-color="#306b8e"/><stop offset="0.333" stop-color="#2f6c8e"/><stop offset="0.389" stop-color="#2e6f8e"/><stop offset="0.444" stop-color="#2d728e"/><stop offset="0.500" stop-color="#2b758e"/><stop offset="0.556" stop-color="#2a788e"/><stop offset="0.611" stop-color="#297a8e"/><stop offset="0.667" stop-color="#297b8e"/><stop offset="0.722" stop-color="#287d8e"/><stop offset="0.778" stop-color="#277e8e"/><stop offset="0.833" stop-color="#26808e"/><stop offset="0.889" stop-color="#25848e"/><stop offset="0.944" stop-color="#228a8e"/><stop offset="1.000" stop-color="#20928c"/></linearGradient>
<linearGradient id="gb64" x1="0" y1="0" x2="0" y2="1"><stop offset="0.000" stop-color="#277e8e"/><stop offset="0.056" stop-color="#2a798e"/><stop offset="0.111" stop-color="#2b758e"/><stop offset="0.167" stop-color="#2d718e"/><stop offset="0.222" stop-color="#2e6f8e"/><stop offset="0.278" stop-color="#2f6e8e"/><stop offset="0.333" stop-color="#2e6f8e"/><stop offset="0.389" stop-color="#2d718e"/><stop offset="0.444" stop-color="#2b758e"/><stop offset="0.500" stop-color="#2a788e"/><stop offset="0.556" stop-color="#297a8e"/><stop offset="0.611" stop-color="#287c8e"/><stop offset="0.667" stop-color="#287d8e"/><stop offset="0.722" stop-color="#277f8e"/><stop offset="0.778" stop-color="#27808e"/><stop offset="0.833" stop-color="#26828e"/><stop offset="0.889" stop-color="#24868e"/><stop offset="0.944" stop-color="#228c8d"/><stop offset="1.000" stop-color="#20938c"/></linearGradient>
<linearGradient id="gb65" x1="0" y1="0" x2="0" y2="1"><stop offset="0.000" stop-color="#26818e"/><stop offset="0.056" stop-color="#287c8e"/><stop offset="0.111" stop-color="#2a788e"/><stop offset="0.167" stop-color="#2c748e"/><stop offset="0.222" stop-color="#2d718e"/><stop offset="0.278" stop-color="#2d718e"/><stop offset="0.333" stop-color="#2d718e"/><stop offset="0.389" stop-color="#2c748e"/><stop offset="0.444" stop-color="#2a778e"/><stop offset="0.500" stop-color="#297a8e"/><stop offset="0.556" stop-color="#287c8e"/><stop offset="0.611" stop-color="#277e8e"/><stop offset="0.667" stop-color="#27808e"/><stop offset="0.722" stop-color="#26818e"/><stop offset="0.778" stop-color="#26828e"/><stop offset="0.833" stop-color="#25848e"/><stop offset="0.889" stop-color="#23878e"/><stop offset="0.944" stop-color="#228d8d"/><stop offset="1.000" stop-color="#20948c"/></linearGradient>
<linearGradient id="gb66" x1="0" y1="0" x2="0" y2="1"><stop offset="0.000" stop-color="#25848e"/><stop offset="0.056" stop-color="#277f8e"/><stop offset="0.111" stop-color="#297a8e"/><stop offset="0.167" stop-color="#2a778e"/><stop offset="0.222" stop-color="#2c748e"/><stop offset="0.278" stop-color="#2c748e"/><stop offset="0.333" stop-color="#2c748e"/><stop offset="0.389" stop-color="#2a778e"/><stop offset="0.444" stop-color="#297a8e"/><stop offset="0.500" stop-color="#287d8e"/><stop offset="0.556" stop-color="#277f8e"/><stop offset="0.611" stop-color="#26818e"/><stop offset="0.667" stop-color="#26828e"/><stop offset="0.722" stop-color="#25838e"/><stop offset="0.778" stop-color="#25848e"/><stop offset="0.833" stop-color="#24868e"/><stop offset="0.889" stop-color="#23898e"/><stop offset="0.944" stop-color="#218e8d"/><stop offset="1.000" stop-color="#20958c"/></linearGradient>
<linearGradient id="gb67" x1="0" y1="0" x2="0" y2="1"><stop offset="0.000" stop-color="#23888e"/><stop offset="0.056" stop-color="#26828e"/><stop offset="0.111" stop-color="#287d8e"/><stop offset="0.167" stop-color="#297a8e"/><stop offset="0.222" stop-color="#2a778e"/><stop offset="0.278" stop-color="#2b778e"/><stop offset="0.333" stop-color="#2a778e"/><stop offset="0.389" stop-color="#297a8e"/><stop offset="0.444" stop-color="#287d8e"/><stop offset="0.500" stop-color="#277f8e"/><stop offset="0.556" stop-color="#26828e"/><stop offset="0.611" stop-color="#25838e"/><stop offset="0.667" stop-color="#25848e"/><stop offset="0.722" stop-color="#24858e"/><stop offset="0.778" stop-color="#24868e"/><stop offset="0.833" stop-color="#23878e"/><stop offset="0.889" stop-color="#228b8e"/><stop offset="0.944" stop-color="#218f8d"/><stop offset="1.000" stop-color="#1f968b"/></linearGradient>
<linearGradient id="gb68" x1="0" y1="0" x2="0" y2="1"><stop offset="0.000" stop-color="#228b8e"/><stop offset="0.056" stop-color="#24858e"/><stop offset="0.111" stop-color="#26808e"/><stop offset="0.167" stop-color="#287d8e"/><stop offset="0.222" stop-color="#297a8e"/><stop offset="0.278" stop-color="#297a8e"/><stop offset="0.333" stop-color="#297b8e"/><stop offset="0.389" stop-color="#287d8e"/><stop offset="0.444" stop-color="#27808e"/><stop offset="0.500" stop-color="#26828e"/><stop offset="0.556" stop-color="#25848e"/><stop offset="0.611" stop-color="#24868e"/><stop offset="0.667" stop-color="#24878e"/><stop offset="0.722" stop-color="#23878e"/><stop offset="0.778" stop-color="#23888e"/><stop offset="0.833" stop-color="#23898e"/><stop offset="0.889" stop-color="#228c8d"/><stop offset="0.944" stop-color="#21918c"/><stop offset="1.000" stop-color="#1f978b"/></linearGradient>
<linearGradient id="gb69" x1="0" y1="0" x2="0" y2="1"><stop offset="0.000" stop-color="#228e8d"/><stop offset="0.056" stop-color="#23888e"/><stop offset="0.111" stop-color="#25838e"/><stop offset="0.167" stop-color="#27808e"/><stop offset="0.222" stop-color="#287d8e"/><stop offset="0.278" stop-color="#287d8e"/><stop offset="0.333" stop-color="#287e8e"/><stop offset="0.389" stop-color="#26808e"/><stop offset="0.444" stop-color="#25838e"/><stop offset="0.500" stop-color="#24858e"/><stop offset="0.556" stop-color="#23878e"/><stop offset="0.611" stop-color="#23888e"/><stop offset="0.667" stop-color="#23898e"/><stop offset="0.722" stop-color="#238a8e"/><stop offset="0.778" stop-color="#238a8e"/><stop offset="0.833" stop-color="#228b8d"/><stop offset="0.889" stop-color="#228e8d"/><stop offset="0.944" stop-color="#21928c"/><stop offset="1.000" stop-color="#1f988b"/></linearGradient>
<linearGradient id="gb70" x1="0" y1="0" x2="0" y2="1"><stop offset="0.000" stop-color="#21918c"/><stop offset="0.056" stop-color="#228b8d"/><stop offset="0.111" stop-color="#24868e"/><stop offset="0.167" stop-color="#25838e"/><stop offset="0.222" stop-color="#26818e"/><stop offset="0.278" stop-color="#26808e"/><stop offset="0.333" stop-color="#26818e"/><stop offset="0.389" stop-color="#25838e"/><stop offset="0.444" stop-color="#24868e"/><stop offset="0.500" stop-color="#23888e"/><stop offset="0.556" stop-color="#238a8e"/><stop offset="0.611" stop-color="#228b8d"/><stop offset="0.667" stop-color="#228c8d"/><stop offset="0.722" stop-color="#228c8d"/><stop offset="0.778" stop-color="#228c8d"/><stop offset="0.833" stop-color="#228d8d"/><stop offset="0.889" stop-color="#218f8d"/><stop offset="0.944" stop-color="#20938c"/><stop offset="1.000" stop-color="#1f998b"/></linearGradient>
<linearGradient id="gb71" x1="0" y1="0" x2="0" y2="1"><stop offset="0.000" stop-color="#20958c"/><stop offset="0.056" stop-color="#218e8d"/><stop offset="0.111" stop-color="#23898e"/><stop offset="0.167" stop-color="#24868e"/><stop offset="0.222" stop-color="#25848e"/><stop offset="0.278" stop-color="#25848e"/><stop offset="0.333" stop-color="#25848e"/><stop offset="0.389" stop-color="#24868e"/><stop offset="0.444" stop-color="#23898e"/><stop offset="0.500" stop-color="#228b8d"/><stop offset="0.556" stop-color="#228c8d"/><stop offset="0.611" stop-color="#228d8d"/><stop offset="0.667" stop-color="#218e8d"/><stop offset="0.722" stop-color="#218e8d"/><stop offset="0.778" stop-color="#218e8d"/><stop offset="0.833" stop-color="#218f8d"/><stop offset="0.889" stop-color="#21918c"/><stop offset="0.944" stop-color="#20958c"/><stop offset="1.000" stop-color="#1f9a8a"/></linearGradient>
<linearGradient id="gb72" x1="0" y1="0" x2="0" y2="1"><stop offset="0.000" stop-color="#1f998a"/><stop offset="0.056" stop-color="#20928c"/><stop offset="0.111" stop-color="#228d8d"/><stop offset="0.167" stop-color="#238a8e"/><stop offset="0.222" stop-color="#23888e"/><stop offset="0.278" stop-color="#23878e"/><stop offset="0.333" stop-color="#23888e"/><stop offset="0.389" stop-color="#238a8e"/><stop offset="0.444" stop-color="#228c8d"/><stop offset="0.500" stop-color="#228e8d"/><stop offset="0.556" stop-color="#218f8d"/><stop offset="0.611" stop-color="#21908c"/><stop offset="0.667" stop-color="#21918c"/><stop offset="0.722" stop-color="#21918c"/><stop offset="0.778" stop-color="#21908c"/><stop offset="0.833" stop-color="#21918c"/><stop offset="0.889" stop-color="#20938c"/><stop offset="0.944" stop-color="#20968b"/><stop offset="1.000" stop-color="#209b8a"/></linearGradient>
<linearGradient id="gb73" x1="0" y1="0" x2="0" y2="1"><stop offset="0.000" stop-color="#209e89"/><stop offset="0.056" stop-color="#1f968b"/><stop offset="0.111" stop-color="#21918c"/><stop offset="0.167" stop-color="#228d8d"/><stop offset="0.222" stop-color="#228b8d"/><stop offset="0.278" stop-color="#228b8d"/><stop offset="0.333" stop-color="#228b8d"/><stop offset="0.389" stop-color="#228d8d"/><stop offset="0.444" stop-color="#218f8d"/><stop offset="0.500" stop-color="#21918c"/><stop offset="0.556" stop-color="#21928c"/><stop offset="0.611" stop-color="#20938c"/><stop offset="0.667" stop-color="#20938c"/><stop offset="0.722" stop-color="#20938c"/><stop offset="0.778" stop-color="#20928c"/><stop offset="0.833" stop-color="#20938c"/><stop offset="0.889" stop-color="#20948c"/><stop offset="0.944" stop-color="#1f978b"/><stop offset="1.000" stop-color="#209c89"/></linearGradient>
<linearGradient id="gb74" x1="0" y1="0" x2="0" y2="1"><stop offset="0.000" stop-color="#21a286"/><stop offset="0.056" stop-color="#209b8a"/><stop offset="0.111" stop-color="#20958c"/><stop offset="0.167" stop-color="#21918c"/><stop offset="0.222" stop-color="#218f8d"/><stop offset="0.278" stop-color="#218f8d"/><stop offset="0.333" stop-color="#218f8d"/><stop offset="0.389" stop-color="#21908c"/><stop offset="0.444" stop-color="#20928c"/><stop offset="0.500" stop-color="#20948c"/><stop offset="0.556" stop-color="#20958c"/><stop offset="0.611" stop-color="#20958c"/><stop offset="0.667" stop-color="#20968b"/><stop offset="0.722" stop-color="#20958c"/><stop offset="0.778" stop-color="#20958c"/><stop offset="0.833" stop-color="#20958c"/><stop offset="0.889" stop-color="#1f968b"/><stop offset="0.944" stop-color="#1f998b"/><stop offset="1.000" stop-color="#209d89"/></linearGradient>
<linearGradient id="gb75" x1="0" y1="0" x2="0" y2="1"><stop offset="0.000" stop-color="#22a884"/><stop offset="0.056" stop-color="#20a088"/><stop offset="0.111" stop-color="#1f9a8a"/><stop offset="0.167" stop-color="#20968b"/><stop offset="0.222" stop-color="#20948c"/><stop offset="0.278" stop-color="#20938c"/><stop offset="0.333" stop-color="#20938c"/><stop offset="0.389" stop-color="#20948c"/><stop offset="0.444" stop-color="#20958b"/><stop offset="0.500" stop-color="#1f978b"/><stop offset="0.556" stop-color="#1f978b"/><stop offset="0.611" stop-color="#1f988b"/><stop offset="0.667" stop-color="#1f988b"/><stop offset="0.722" stop-color="#1f988b"/><stop offset="0.778" stop-color="#1f978b"/><stop offset="0.833" stop-color="#1f978b"/><stop offset="0.889" stop-color="#1f988b"/><stop offset="0.944" stop-color="#1f9a8a"/><stop offset="1.000" stop-color="#209e88"/></linearGradient>
<linearGradient id="gb76" x1="0" y1="0" x2="0" y2="1"><stop offset="0.000" stop-color="#28ad81"/><stop offset="0.056" stop-color="#21a585"/><stop offset="0.111" stop-color="#209e88"/><stop offset="0.167" stop-color="#1f9a8a"/><stop offset="0.222" stop-color="#1f988b"/><stop offset="0.278" stop-color="#1f978b"/><stop offset="0.333" stop-color="#1f978b"/><stop offset="0.389" stop-color="#1f988b"/><stop offset="0.444" stop-color="#1f998b"/><stop offset="0.500" stop-color="#1f9a8a"/><stop offset="0.556" stop-color="#1f9a8a"/><stop offset="0.611" stop-color="#1f9b8a"/><stop offset="0.667" stop-color="#1f9b8a"/><stop offset="0.722" stop-color="#1f9a8a"/><stop offset="0.778" stop-color="#1f998b"/><stop offset="0.833" stop-color="#1f998b"/><stop offset="0.889" stop-color="#1f9a8a"/><stop offset="0.944" stop-color="#209c89"/><stop offset="1.000" stop-color="#209f88"/></linearGradient>
<linearGradient id="gb77" x1="0" y1="0" x2="0" y2="1"><stop offset="0.000" stop-color="#2fb27d"/><stop offset="0.056" stop-color="#24aa83"/><stop offset="0.111" stop-color="#21a386"/><stop offset="0.167" stop-color="#209f88"/><stop offset="0.222" stop-color="#209c89"/><stop offset="0.278" stop-color="#209b8a"/><stop offset="0.333" stop-color="#1f9b8a"/><stop offset="0.389" stop-color="#209b8a"/><stop offset="0.444" stop-color="#209c89"/><stop offset="0.500" stop-color="#209d89"/><stop offset="0.556" stop-color="#209d89"/><stop offset="0.611" stop-color="#209d89"/><stop offset="0.667" stop-color="#209d89"/><stop offset="0.722" stop-color="#209c89"/><stop offset="0.778" stop-color="#209b8a"/><stop offset="0.833" stop-color="#209b8a"/><stop offset="0.889" stop-color="#209c89"/><stop offset="0.944" stop-color="#209e89"/><stop offset="1.000" stop-color="#21a187"/></linearGradient>
<linearGradient id="gb78" x1="0" y1="0" x2="0" y2="1"><stop offset="0.000" stop-color="#36b878"/><stop offset="0.056" stop-color="#2baf7f"/><stop offset="0.111" stop-color="#23a884"/><stop offset="0.167" stop-color="#21a486"/><stop offset="0.222" stop-color="#21a187"/><stop offset="0.278" stop-color="#209f88"/><stop offset="0.333" stop-color="#209f88"/><stop offset="0.389" stop-color="#209f88"/><stop offset="0.444" stop-color="#20a088"/><stop offset="0.500" stop-color="#20a088"/><stop offset="0.556" stop-color="#21a087"/><stop offset="0.611" stop-color="#20a088"/><stop offset="0.667" stop-color="#20a088"/><stop offset="0.722" stop-color="#209f88"/><stop offset="0.778" stop-color="#209e89"/><stop offset="0.833" stop-color="#209d89"/><stop offset="0.889" stop-color="#209e89"/><stop offset="0.944" stop-color="#209f88"/><stop offset="1.000" stop-color="#21a287"/></linearGradient>
<linearGradient id="gb79" x1="0" y1="0" x2="0" y2="1"><stop offset="0.000" stop-color="#43bd71"/><stop offset="0.056" stop-color="#32b57b"/><stop offset="0.111" stop-color="#29ae80"/><stop offset="0.167" stop-color="#23a983"/><stop offset="0.222" stop-color="#22a685"/><stop offset="0.278" stop-color="#21a486"/><stop offset="0.333" stop-color="#21a386"/><stop offset="0.389" stop-color="#21a386"/><stop offset="0.444" stop-color="#21a386"/><stop offset="0.500" stop-color="#21a386"/><stop offset="0.556" stop-color="#21a386"/><stop offset="0.611" stop-color="#21a386"/><stop offset="0.667" stop-color="#21a287"/><stop offset="0.722" stop-color="#21a187"/><stop offset="0.778" stop-color="#21a087"/><stop offset="0.833" stop-color="#209f88"/><stop offset="0.889" stop-color="#20a088"/><stop offset="0.944" stop-color="#21a187"/><stop offset="1.000" stop-color="#21a386"/></linearGradient>
<linearGradient id="gb80" x1="0" y1="0" x2="0" y2="1"><stop offset="0.000" stop-color="#50c36a"/><stop offset="0.056" stop-color="#3cba75"/><stop offset="0.111" stop-color="#30b37c"/><stop offset="0.167" stop-color="#29ae80"/><stop offset="0.222" stop-color="#25aa82"/><stop offset="0.278" stop-color="#22a884"/><stop offset="0.333" stop-color="#22a784"/><stop offset="0.389" stop-color="#22a785"/><stop offset="0.444" stop-color="#22a685"/><stop offset="0.500" stop-color="#22a685"/><stop offset="0.556" stop-color="#22a685"/><stop offset="0.611" stop-color="#22a585"/><stop offset="0.667" stop-color="#21a585"/><stop offset="0.722" stop-color="#21a486"/><stop offset="0.778" stop-color="#21a286"/><stop offset="0.833" stop-color="#21a287"/><stop offset="0.889" stop-color="#21a287"/><stop offset="0.944" stop-color="#21a386"/><stop offset="1.000" stop-color="#21a585"/></linearGradient>
<linearGradient id="gb81" x1="0" y1="0" x2="0" y2="1"><stop offset="0.000" stop-color="#5ec862"/><stop offset="0.056" stop-color="#48bf6f"/><stop offset="0.111" stop-color="#38b878"/><stop offset="0.167" stop-color="#30b37c"/><stop offset="0.222" stop-color="#2baf7f"/><stop offset="0.278" stop-color="#28ad81"/><stop offset="0.333" stop-color="#26ab82"/><stop offset="0.389" stop-color="#25aa82"/><stop offset="0.444" stop-color="#25aa83"/><stop offset="0.500" stop-color="#24aa83"/><stop offset="0.556" stop-color="#23a983"/><stop offset="0.611" stop-color="#22a884"/><stop offset="0.667" stop-color="#22a784"/><stop offset="0.722" stop-color="#22a685"/><stop offset="0.778" stop-color="#21a585"/><stop offset="0.833" stop-color="#21a486"/><stop offset="0.889" stop-color="#21a486"/><stop offset="0.944" stop-color="#21a486"/><stop offset="1.000" stop-color="#22a685"/></linearGradient>
<linearGradient id="gb82" x1="0" y1="0" x2="0" y2="1"><stop offset="0.000" stop-color="#6ecd59"/><stop offset="0.056" stop-color="#53c568"/><stop offset="0.111" stop-color="#43bd72"/><stop offset="0.167" stop-color="#37b878"/><stop offset="0.222" stop-color="#31b47b"/><stop offset="0.278" stop-color="#2eb17d"/><stop offset="0.333" stop-color="#2baf7f"/><stop offset="0.389" stop-color="#2aae7f"/><stop offset="0.444" stop-color="#29ae80"/><stop offset="0.500" stop-color="#28ad80"/><stop offset="0.556" stop-color="#27ac81"/><stop offset="0.611" stop-color="#26ab82"/><stop offset="0.667" stop-color="#24aa83"/><stop offset="0.722" stop-color="#23a984"/><stop offset="0.778" stop-color="#22a784"/><stop offset="0.833" stop-color="#22a685"/><stop offset="0.889" stop-color="#22a685"/><stop offset="0.944" stop-color="#22a685"/><stop offset="1.000" stop-color="#22a884"/></linearGradient>
<linearGradient id="gb83" x1="0" y1="0" x2="0" y2="1"><stop offset="0.000" stop-color="#7dd24f"/><stop offset="0.056" stop-color="#61c960"/><stop offset="0.111" stop-color="#4dc26c"/><stop offset="0.167" stop-color="#41bc72"/><stop offset="0.222" stop-color="#39b977"/><stop offset="0.278" stop-color="#34b67a"/><stop offset="0.333" stop-color="#31b47b"/><stop offset="0.389" stop-color="#2fb27c"/><stop offset="0.444" stop-color="#2eb17d"/><stop offset="0.500" stop-color="#2cb07e"/><stop offset="0.556" stop-color="#2baf7f"/><stop offset="0.611" stop-color="#29ae80"/><stop offset="0.667" stop-color="#27ac81"/><stop offset="0.722" stop-color="#26ab82"/><stop offset="0.778" stop-color="#24aa83"/><stop offset="0.833" stop-color="#23a984"/><stop offset="0.889" stop-color="#22a884"/><stop offset="0.944" stop-color="#22a884"/><stop offset="1.000" stop-color="#23a983"/></linearGradient>
<linearGradient id="gb84" x1="0" y1="0" x2="0" y2="1"><stop offset="0.000" stop-color="#8ed644"/><stop offset="0.056" stop-color="#6fce57"/><stop offset="0.111" stop-color="#59c765"/><stop offset="0.167" stop-color="#4bc16d"/><stop offset="0.222" stop-color="#43bd71"/><stop offset="0.278" stop-color="#3dba75"/><stop offset="0.333" stop-color="#38b877"/><stop offset="0.389" stop-color="#35b779"/><stop offset="0.444" stop-color="#33b57a"/><stop offset="0.500" stop-color="#31b47b"/><stop offset="0.556" stop-color="#2fb27d"/><stop offset="0.611" stop-color="#2db07e"/><stop offset="0.667" stop-color="#2baf7f"/><stop offset="0.722" stop-color="#29ad80"/><stop offset="0.778" stop-color="#27ac81"/><stop offset="0.833" stop-color="#26ab82"/><stop offset="0.889" stop-color="#25aa82"/><stop offset="0.944" stop-color="#25aa82"/><stop offset="1.000" stop-color="#26ab82"/></linearGradient>
<linearGradient id="gb85" x1="0" y1="0" x2="0" y2="1"><stop offset="0.000" stop-color="#9fda3a"/><stop offset="0.056" stop-color="#7ed24f"/><stop offset="0.111" stop-color="#66cb5d"/><stop offset="0.167" stop-color="#56c667"/><stop offset="0.222" stop-color="#4dc26c"/><stop offset="0.278" stop-color="#47bf6f"/><stop offset="0.333" stop-color="#42bd72"/><stop offset="0.389" stop-color="#3ebb74"/><stop offset="0.444" stop-color="#3ab976"/><stop offset="0.500" stop-color="#36b778"/><stop offset="0.556" stop-color="#33b57a"/><stop offset="0.611" stop-color="#30b37c"/><stop offset="0.667" stop-color="#2eb17d"/><stop offset="0.722" stop-color="#2cb07e"/><stop offset="0.778" stop-color="#2aae7f"/><stop offset="0.833" stop-color="#29ad80"/><stop offset="0.889" stop-color="#28ac81"/><stop offset="0.944" stop-color="#27ac81"/><stop offset="1.000" stop-color="#28ac81"/></linearGradient>
<linearGradient id="gb86" x1="0" y1="0" x2="0" y2="1"><stop offset="0.000" stop-color="#b1dd2f"/><stop offset="0.056" stop-color="#8dd545"/><stop offset="0.111" stop-color="#73cf55"/><stop offset="0.167" stop-color="#63ca5f"/><stop offset="0.222" stop-color="#59c665"/><stop offset="0.278" stop-color="#51c46a"/><stop offset="0.333" stop-color="#4cc16d"/><stop offset="0.389" stop-color="#47bf6f"/><stop offset="0.444" stop-color="#43bd72"/><stop offset="0.500" stop-color="#3ebb74"/><stop offset="0.556" stop-color="#39b977"/><stop offset="0.611" stop-color="#34b679"/><stop offset="0.667" stop-color="#31b47b"/><stop offset="0.722" stop-color="#2fb27d"/><stop offset="0.778" stop-color="#2db17e"/><stop offset="0.833" stop-color="#2cb07e"/><stop offset="0.889" stop-color="#2aaf7f"/><stop offset="0.944" stop-color="#2aae7f"/><stop offset="1.000" stop-color="#2aae7f"/></linearGradient>
<linearGradient id="gb87" x1="0" y1="0" x2="0" y2="1"><stop offset="0.000" stop-color="#c2e025"/><stop offset="0.056" stop-color="#9dd93b"/><stop offset="0.111" stop-color="#81d34c"/><stop offset="0.167" stop-color="#70ce57"/><stop offset="0.222" stop-color="#66cb5d"/><stop offset="0.278" stop-color="#5ec862"/><stop offset="0.333" stop-color="#56c666"/><stop offset="0.389" stop-color="#51c46a"/><stop offset="0.444" stop-color="#4cc16d"/><stop offset="0.500" stop-color="#46bf70"/><stop offset="0.556" stop-color="#40bc73"/><stop offset="0.611" stop-color="#3ab976"/><stop offset="0.667" stop-color="#35b779"/><stop offset="0.722" stop-color="#32b57b"/><stop offset="0.778" stop-color="#30b37c"/><stop offset="0.833" stop-color="#2fb27d"/><stop offset="0.889" stop-color="#2db17d"/><stop offset="0.944" stop-color="#2db07e"/><stop offset="1.000" stop-color="#2cb07e"/></linearGradient>
<linearGradient id="gb88" x1="0" y1="0" x2="0" y2="1"><stop offset="0.000" stop-color="#d3e21b"/><stop offset="0.056" stop-color="#acdc32"/><stop offset="0.111" stop-color="#90d643"/><stop offset="0.167" stop-color="#7dd24f"/><stop offset="0.222" stop-color="#73cf55"/><stop offset="0.278" stop-color="#6bcc5a"/><stop offset="0.333" stop-color="#64ca5f"/><stop offset="0.389" stop-color="#5dc863"/><stop offset="0.444" stop-color="#55c567"/><stop offset="0.500" stop-color="#4fc36b"/><stop offset="0.556" stop-color="#48bf6f"/><stop offset="0.611" stop-color="#40bc73"/><stop offset="0.667" stop-color="#3ab976"/><stop offset="0.722" stop-color="#35b779"/><stop offset="0.778" stop-color="#33b67a"/><stop offset="0.833" stop-color="#32b47b"/><stop offset="0.889" stop-color="#30b37c"/><stop offset="0.944" stop-color="#2fb37c"/><stop offset="1.000" stop-color="#2fb27d"/></linearGradient>
<linearGradient id="gb89" x1="0" y1="0" x2="0" y2="1"><stop offset="0.000" stop-color="#e3e41f"/><stop offset="0.056" stop-color="#bcdf28"/><stop offset="0.111" stop-color="#9ed93a"/><stop offset="0.167" stop-color="#8bd546"/><stop offset="0.222" stop-color="#81d34c"/><stop offset="0.278" stop-color="#79d152"/><stop offset="0.333" stop-color="#71ce56"/><stop offset="0.389" stop-color="#69cc5b"/><stop offset="0.444" stop-color="#61c960"/><stop offset="0.500" stop-color="#58c665"/><stop offset="0.556" stop-color="#4fc36b"/><stop offset="0.611" stop-color="#47bf6f"/><stop offset="0.667" stop-color="#40bc73"/><stop offset="0.722" stop-color="#3bba76"/><stop offset="0.778" stop-color="#37b878"/><stop offset="0.833" stop-color="#35b779"/><stop offset="0.889" stop-color="#33b67a"/><stop offset="0.944" stop-color="#32b57b"/><stop offset="1.000" stop-color="#31b47b"/></linearGradient>
<linearGradient id="gb90" x1="0" y1="0" x2="0" y2="1"><stop offset="0.000" stop-color="#f4e623"/><stop offset="0.056" stop-color="#cbe11f"/><stop offset="0.111" stop-color="#addc31"/><stop offset="0.167" stop-color="#9ad83d"/><stop offset="0.222" stop-color="#91d643"/><stop offset="0.278" stop-color="#88d448"/><stop offset="0.333" stop-color="#80d24d"/><stop offset="0.389" stop-color="#77d053"/><stop offset="0.444" stop-color="#6ecd59"/><stop offset="0.500" stop-color="#63ca5f"/><stop offset="0.556" stop-color="#58c666"/><stop offset="0.611" stop-color="#4ec26c"/><stop offset="0.667" stop-color="#46bf70"/><stop offset="0.722" stop-color="#40bc73"/><stop offset="0.778" stop-color="#3dba75"/><stop offset="0.833" stop-color="#3ab976"/><stop offset="0.889" stop-color="#38b878"/><stop offset="0.944" stop-color="#35b779"/><stop offset="1.000" stop-color="#34b67a"/></linearGradient>
<linearGradient id="gb91" x1="0" y1="0" x2="0" y2="1"><stop offset="0.000" stop-color="#fde725"/><stop offset="0.056" stop-color="#dae31d"/><stop offset="0.111" stop-color="#bcdf28"/><stop offset="0.167" stop-color="#a9dc34"/><stop offset="0.222" stop-color="#a0da39"/><stop offset="0.278" stop-color="#99d83e"/><stop offset="0.333" stop-color="#90d643"/><stop offset="0.389" stop-color="#86d44a"/><stop offset="0.444" stop-color="#7ad151"/><stop offset="0.500" stop-color="#6fcd58"/><stop offset="0.556" stop-color="#62c960"/><stop offset="0.611" stop-color="#54c568"/><stop offset="0.667" stop-color="#4cc16d"/><stop offset="0.722" stop-color="#46be70"/><stop offset="0.778" stop-color="#42bd72"/><stop offset="0.833" stop-color="#3fbc73"/><stop offset="0.889" stop-color="#3dbb75"/><stop offset="0.944" stop-color="#3ab976"/><stop offset="1.000" stop-color="#38b877"/></linearGradient>
<linearGradient id="gb92" x1="0" y1="0" x2="0" y2="1"><stop offset="0.000" stop-color="#fde725"/><stop offset="0.056" stop-color="#e9e520"/><stop offset="0.111" stop-color="#cbe11f"/><stop offset="0.167" stop-color="#b8de2b"/><stop offset="0.222" stop-color="#b1dd2f"/><stop offset="0.278" stop-color="#a9dc33"/><stop offset="0.333" stop-color="#a0da39"/><stop offset="0.389" stop-color="#96d740"/><stop offset="0.444" stop-color="#89d548"/><stop offset="0.500" stop-color="#7bd151"/><stop offset="0.556" stop-color="#6ccd59"/><stop offset="0.611" stop-color="#5dc863"/><stop offset="0.667" stop-color="#52c469"/><stop offset="0.722" stop-color="#4bc16d"/><stop offset="0.778" stop-color="#47bf6f"/><stop offset="0.833" stop-color="#45be70"/><stop offset="0.889" stop-color="#42bd72"/><stop offset="0.944" stop-color="#3fbc73"/><stop offset="1.000" stop-color="#3dba75"/></linearGradient>
<linearGradient id="cb641" x1="0" y1="1" x2="0" y2="0"><stop offset="0.0000" stop-color="#440154"/><stop offset="0.0667" stop-color="#481a6c"/><stop offset="0.1333" stop-color="#472f7d"/><stop offset="0.2000" stop-color="#414487"/><stop offset="0.2667" stop-color="#39568c"/><stop offset="0.3333" stop-color="#31688e"/><stop offset="0.4000" stop-color="#2a788e"/><stop offset="0.4667" stop-color="#23888e"/><stop offset="0.5333" stop-color="#1f988b"/><stop offset="0.6000" stop-color="#22a884"/><stop offset="0.6667" stop-color="#35b779"/><stop offset="0.7333" stop-color="#54c568"/><stop offset="0.8000" stop-color="#7ad151"/><stop offset="0.8667" stop-color="#a5db36"/><stop offset="0.9333" stop-color="#d2e21b"/><stop offset="1.0000" stop-color="#fde725"/></linearGradient>
</defs>
<g clip-path="url(#cpa)"><rect x="104.5" y="86.8" width="6.6" height="453.8" fill="url(#ga0)"/><rect x="110.5" y="86.8" width="6.6" height="453.8" fill="url(#ga1)"/><rect x="116.5" y="86.8" width="6.6" height="453.8" fill="url(#ga2)"/><rect x="122.5" y="86.8" width="6.6" height="453.8" fill="url(#ga3)"/><rect x="128.5" y="86.8" width="6.6" height="453.8" fill="url(#ga4)"/><rect x="134.5" y="86.8" width="6.6" height="453.8" fill="url(#ga5)"/><rect x="140.5" y="86.8" width="6.6" height="453.8" fill="url(#ga6)"/><rect x="146.5" y="86.8" width="6.6" height="453.8" fill="url(#ga7)"/><rect x="152.5" y="86.8" width="6.6" height="453.8" fill="url(#ga8)"/><rect x="158.5" y="86.8" width="6.6" height="453.8" fill="url(#ga9)"/><rect x="164.5" y="86.8" width="6.6" height="453.8" fill="url(#ga10)"/><rect x="170.5" y="86.8" width="6.6" height="453.8" fill="url(#ga11)"/><rect x="176.5" y="86.8" width="6.6" height="453.8" fill="url(#ga12)"/><rect x="182.5" y="86.8" width="6.6" height="453.8" fill="url(#ga13)"/><rect x="188.5" y="86.8" width="6.6" height="453.8" fill="url(#ga14)"/><rect x="194.5" y="86.8" width="6.6" height="453.8" fill="url(#ga15)"/><rect x="200.5" y="86.8" width="6.6" height="453.8" fill="url(#ga16)"/><rect x="206.5" y="86.8" width="6.6" height="453.8" fill="url(#ga17)"/><rect x="212.5" y="86.8" width="6.6" height="453.8" fill="url(#ga18)"/><rect x="218.5" y="86.8" width="6.6" height="453.8" fill="url(#ga19)"/><rect x="224.5" y="86.8" width="6.6" height="453.8" fill="url(#ga20)"/><rect x="230.5" y="86.8" width="6.6" height="453.8" fill="url(#ga21)"/><rect x="236.5" y="86.8" width="6.6" height="453.8" fill="url(#ga22)"/><rect x="242.5" y="86.8" width="6.6" height="453.8" fill="url(#ga23)"/><rect x="248.5" y="86.8" width="6.6" height="453.8" fill="url(#ga24)"/><rect x="254.5" y="86.8" width="6.6" height="453.8" fill="url(#ga25)"/><rect x="260.5" y="86.8" width="6.6" height="453.8" fill="url(#ga26)"/><rect x="266.5" y="86.8" width="6.6" height="453.8" fill="url(#ga27)"/><rect x="272.5" y="86.8" width="6.6" height="453.8" fill="url(#ga28)"/><rect x="278.5" y="86.8" width="6.6" height="453.8" fill="url(#ga29)"/><rect x="284.5" y="86.8" width="6.6" height="453.8" fill="url(#ga30)"/><rect x="290.5" y="86.8" width="6.6" height="453.8" fill="url(#ga31)"/><rect x="296.5" y="86.8" width="6.6" height="453.8" fill="url(#ga32)"/><rect x="302.5" y="86.8" width="6.6" height="453.8" fill="url(#ga33)"/><rect x="308.5" y="86.8" width="6.6" height="453.8" fill="url(#ga34)"/><rect x="314.5" y="86.8" width="6.6" height="453.8" fill="url(#ga35)"/><rect x="320.5" y="86.8" width="6.6" height="453.8" fill="url(#ga36)"/><rect x="326.5" y="86.8" width="6.6" height="453.8" fill="url(#ga37)"/><rect x="332.5" y="86.8" width="6.6" height="453.8" fill="url(#ga38)"/><rect x="338.5" y="86.8" width="6.6" height="453.8" fill="url(#ga39)"/><rect x="344.5" y="86.8" width="6.6" height="453.8" fill="url(#ga40)"/><rect x="350.5" y="86.8" width="6.6" height="453.8" fill="url(#ga41)"/><rect x="356.5" y="86.8" width="6.6" height="453.8" fill="url(#ga42)"/><rect x="362.5" y="86.8" width="6.6" height="453.8" fill="url(#ga43)"/><rect x="368.5" y="86.8" width="6.6" height="453.8" fill="url(#ga44)"/><rect x="374.5" y="86.8" width="6.6" height="453.8" fill="url(#ga45)"/><rect x="380.5" y="86.8" width="6.6" height="453.8" fill="url(#ga46)"/><rect x="386.5" y="86.8" width="6.6" height="453.8" fill="url(#ga47)"/><rect x="392.5" y="86.8" width="6.6" height="453.8" fill="url(#ga48)"/><rect x="398.5" y="86.8" width="6.6" height="453.8" fill="url(#ga49)"/><rect x="404.5" y="86.8" width="6.6" height="453.8" fill="url(#ga50)"/><rect x="410.5" y="86.8" width="6.6" height="453.8" fill="url(#ga51)"/><rect x="416.5" y="86.8" width="6.6" height="453.8" fill="url(#ga52)"/><rect x="422.5" y="86.8" width="6.6" height="453.8" fill="url(#ga53)"/><rect x="428.5" y="86.8" width="6.6" height="453.8" fill="url(#ga54)"/><rect x="434.5" y="86.8" width="6.6" height="453.8" fill="url(#ga55)"/><rect x="440.5" y="86.8" width="6.6" height="453.8" fill="url(#ga56)"/><rect x="446.5" y="86.8" width="6.6" height="453.8" fill="url(#ga57)"/><rect x="452.5" y="86.8" width="6.6" height="453.8" fill="url(#ga58)"/><rect x="458.5" y="86.8" width="6.6" height="453.8" fill="url(#ga59)"/><rect x="464.5" y="86.8" width="6.6" height="453.8" fill="url(#ga60)"/><rect x="470.5" y="86.8" width="6.6" height="453.8" fill="url(#ga61)"/><rect x="476.5" y="86.8" width="6.6" height="453.8" fill="url(#ga62)"/><rect x="482.5" y="86.8" width="6.6" height="453.8" fill="url(#ga63)"/><rect x="488.5" y="86.8" width="6.6" height="453.8" fill="url(#ga64)"/><rect x="494.5" y="86.8" width="6.6" height="453.8" fill="url(#ga65)"/><rect x="500.5" y="86.8" width="6.6" height="453.8" fill="url(#ga66)"/><rect x="506.5" y="86.8" width="6.6" height="453.8" fill="url(#ga67)"/><rect x="512.5" y="86.8" width="6.6" height="453.8" fill="url(#ga68)"/><rect x="518.5" y="86.8" width="6.6" height="453.8" fill="url(#ga69)"/><rect x="524.5" y="86.8" width="6.6" height="453.8" fill="url(#ga70)"/><rect x="530.5" y="86.8" width="6.6" height="453.8" fill="url(#ga71)"/><rect x="536.5" y="86.8" width="6.6" height="453.8" fill="url(#ga72)"/><rect x="542.5" y="86.8" width="6.6" height="453.8" fill="url(#ga73)"/><rect x="548.5" y="86.8" width="6.6" height="453.8" fill="url(#ga74)"/><rect x="554.5" y="86.8" width="6.6" height="453.8" fill="url(#ga75)"/><rect x="560.5" y="86.8" width="6.6" height="453.8" fill="url(#ga76)"/><rect x="566.5" y="86.8" width="6.6" height="453.8" fill="url(#ga77)"/><rect x="572.5" y="86.8" width="6.6" height="453.8" fill="url(#ga78)"/><rect x="578.5" y="86.8" width="6.6" height="453.8" fill="url(#ga79)"/><rect x="584.5" y="86.8" width="6.6" height="453.8" fill="url(#ga80)"/><rect x="590.5" y="86.8" width="6.6" height="453.8" fill="url(#ga81)"/><rect x="596.5" y="86.8" width="6.6" height="453.8" fill="url(#ga82)"/><rect x="602.5" y="86.8" width="6.6" height="453.8" fill="url(#ga83)"/><rect x="608.5" y="86.8" width="6.6" height="453.8" fill="url(#ga84)"/><rect x="614.5" y="86.8" width="6.6" height="453.8" fill="url(#ga85)"/><rect x="620.5" y="86.8" width="6.6" height="453.8" fill="url(#ga86)"/><rect x="626.5" y="86.8" width="6.6" height="453.8" fill="url(#ga87)"/><rect x="632.5" y="86.8" width="6.6" height="453.8" fill="url(#ga88)"/><rect x="638.5" y="86.8" width="6.6" height="453.8" fill="url(#ga89)"/><rect x="644.5" y="86.8" width="6.6" height="453.8" fill="url(#ga90)"/><rect x="650.5" y="86.8" width="6.6" height="453.8" fill="url(#ga91)"/><rect x="656.5" y="86.8" width="6.6" height="453.8" fill="url(#ga92)"/></g>
<g fill="#078407"><circle cx="112.7" cy="95.2" r="7.8"/><circle cx="266.2" cy="104.7" r="7.8"/><circle cx="479.9" cy="99.2" r="7.8"/><circle cx="655.6" cy="95.2" r="7.8"/><circle cx="491.1" cy="135.4" r="7.8"/><circle cx="431.2" cy="148.8" r="7.8"/><circle cx="566.6" cy="171.0" r="7.8"/><circle cx="584.6" cy="171.0" r="7.8"/><circle cx="348.5" cy="210.6" r="7.8"/><circle cx="386.4" cy="214.9" r="7.8"/><circle cx="655.6" cy="228.6" r="7.8"/><circle cx="299.6" cy="233.1" r="7.8"/><circle cx="288.4" cy="250.5" r="7.8"/><circle cx="228.1" cy="254.8" r="7.8"/><circle cx="112.7" cy="273.5" r="7.8"/><circle cx="112.7" cy="280.0" r="7.8"/><circle cx="112.7" cy="286.5" r="7.8"/><circle cx="375.2" cy="273.5" r="7.8"/><circle cx="299.1" cy="281.7" r="7.8"/><circle cx="311.6" cy="286.2" r="7.8"/><circle cx="303.6" cy="290.4" r="7.8"/><circle cx="375.2" cy="308.4" r="7.8"/><circle cx="452.9" cy="317.5" r="7.8"/><circle cx="138.8" cy="371.1" r="7.8"/><circle cx="261.2" cy="393.3" r="7.8"/><circle cx="232.6" cy="437.2" r="7.8"/><circle cx="524.2" cy="482.0" r="7.8"/><circle cx="513.0" cy="495.2" r="7.8"/><circle cx="491.1" cy="513.2" r="7.8"/><circle cx="150.3" cy="513.2" r="7.8"/><circle cx="112.7" cy="534.9" r="7.8"/><circle cx="359.5" cy="534.9" r="7.8"/><circle cx="408.3" cy="534.9" r="7.8"/><rect x="243.3" y="87.6" width="64" height="15.2" rx="7.6"/></g>
<circle cx="219.8" cy="95" r="6.8" fill="#f01414"/>
<rect x="434.8" y="266.6" width="13.8" height="13.8" fill="#8a3a10"/>
<rect x="437.8" y="269.6" width="7.8" height="7.8" fill="#d81c10"/>
<rect x="85.7" y="72.8" width="597.8" height="485.2" fill="none" stroke="#000" stroke-width="1.9"/>
<line x1="77.7" y1="479.6" x2="85.7" y2="479.6" stroke="#141414" stroke-width="1.7"/>
<text transform="matrix(0.8800 0 0 1 38.15 488.96)" font-family='"DejaVu Sans", "Liberation Sans", sans-serif' stroke="#141414" stroke-width="0.4" stroke-linejoin="round" font-size="22.60" fill="#141414">−2</text>
<line x1="77.7" y1="392.8" x2="85.7" y2="392.8" stroke="#141414" stroke-width="1.7"/>
<text transform="matrix(1.0000 0 0 1 55.62 401.99)" font-family='"DejaVu Sans", "Liberation Sans", sans-serif' stroke="#141414" stroke-width="0.4" stroke-linejoin="round" font-size="22.60" fill="#141414">0</text>
<line x1="77.7" y1="306.3" x2="85.7" y2="306.3" stroke="#141414" stroke-width="1.7"/>
<text transform="matrix(1.0000 0 0 1 56.41 315.66)" font-family='"DejaVu Sans", "Liberation Sans", sans-serif' stroke="#141414" stroke-width="0.4" stroke-linejoin="round" font-size="22.60" fill="#141414">2</text>
<line x1="77.7" y1="219.9" x2="85.7" y2="219.9" stroke="#141414" stroke-width="1.7"/>
<text transform="matrix(1.0000 0 0 1 55.39 229.15)" font-family='"DejaVu Sans", "Liberation Sans", sans-serif' stroke="#141414" stroke-width="0.4" stroke-linejoin="round" font-size="22.60" fill="#141414">4</text>
<line x1="77.7" y1="132.6" x2="85.7" y2="132.6" stroke="#141414" stroke-width="1.7"/>
<text transform="matrix(1.0000 0 0 1 55.51 141.79)" font-family='"DejaVu Sans", "Liberation Sans", sans-serif' stroke="#141414" stroke-width="0.4" stroke-linejoin="round" font-size="22.60" fill="#141414">6</text>
<line x1="212.3" y1="558.0" x2="212.3" y2="566.6" stroke="#141414" stroke-width="1.7"/>
<text transform="matrix(0.9000 0 0 1 196.95 591.92)" font-family='"DejaVu Sans", "Liberation Sans", sans-serif' stroke="#141414" stroke-width="0.4" stroke-linejoin="round" font-size="22.60" fill="#141414">−2</text>
<line x1="348.3" y1="558.0" x2="348.3" y2="566.6" stroke="#141414" stroke-width="1.7"/>
<text transform="matrix(1.0000 0 0 1 340.82 591.92)" font-family='"DejaVu Sans", "Liberation Sans", sans-serif' stroke="#141414" stroke-width="0.4" stroke-linejoin="round" font-size="22.60" fill="#141414">0</text>
<line x1="481.8" y1="558.0" x2="481.8" y2="566.6" stroke="#141414" stroke-width="1.7"/>
<text transform="matrix(1.0000 0 0 1 474.61 591.92)" font-family='"DejaVu Sans", "Liberation Sans", sans-serif' stroke="#141414" stroke-width="0.4" stroke-linejoin="round" font-size="22.60" fill="#141414">2</text>
<line x1="615.5" y1="558.0" x2="615.5" y2="566.6" stroke="#141414" stroke-width="1.7"/>
<text transform="matrix(1.0000 0 0 1 608.08 591.70)" font-family='"DejaVu Sans", "Liberation Sans", sans-serif' stroke="#141414" stroke-width="0.4" stroke-linejoin="round" font-size="22.60" fill="#141414">4</text>
<rect x="720.4" y="72.8" width="23.2" height="485.2" fill="url(#cb0)" stroke="#111" stroke-width="1.6"/>
<line x1="743.6" y1="106.0" x2="751.6" y2="106.0" stroke="#141414" stroke-width="1.7"/>
<text transform="matrix(0.8800 0 0 1 759.87 115.65)" font-family='"DejaVu Sans", "Liberation Sans", sans-serif' stroke="#141414" stroke-width="0.4" stroke-linejoin="round" font-size="23.30" fill="#141414">0.20</text>
<line x1="743.6" y1="168.5" x2="751.6" y2="168.5" stroke="#141414" stroke-width="1.7"/>
<text transform="matrix(0.8800 0 0 1 759.87 178.15)" font-family='"DejaVu Sans", "Liberation Sans", sans-serif' stroke="#141414" stroke-width="0.4" stroke-linejoin="round" font-size="23.30" fill="#141414">0.18</text>
<line x1="743.6" y1="230.6" x2="751.6" y2="230.6" stroke="#141414" stroke-width="1.7"/>
<text transform="matrix(0.8800 0 0 1 759.87 240.25)" font-family='"DejaVu Sans", "Liberation Sans", sans-serif' stroke="#141414" stroke-width="0.4" stroke-linejoin="round" font-size="23.30" fill="#141414">0.16</text>
<line x1="743.6" y1="295.0" x2="751.6" y2="295.0" stroke="#141414" stroke-width="1.7"/>
<text transform="matrix(0.8800 0 0 1 759.87 304.65)" font-family='"DejaVu Sans", "Liberation Sans", sans-serif' stroke="#141414" stroke-width="0.4" stroke-linejoin="round" font-size="23.30" fill="#141414">0.14</text>
<line x1="743.6" y1="357.4" x2="751.6" y2="357.4" stroke="#141414" stroke-width="1.7"/>
<text transform="matrix(0.8800 0 0 1 759.87 367.05)" font-family='"DejaVu Sans", "Liberation Sans", sans-serif' stroke="#141414" stroke-width="0.4" stroke-linejoin="round" font-size="23.30" fill="#141414">0.12</text>
<line x1="743.6" y1="421.7" x2="751.6" y2="421.7" stroke="#141414" stroke-width="1.7"/>
<text transform="matrix(0.8800 0 0 1 759.87 431.35)" font-family='"DejaVu Sans", "Liberation Sans", sans-serif' stroke="#141414" stroke-width="0.4" stroke-linejoin="round" font-size="23.30" fill="#141414">0.10</text>
<line x1="743.6" y1="484.5" x2="751.6" y2="484.5" stroke="#141414" stroke-width="1.7"/>
<text transform="matrix(0.8800 0 0 1 759.87 494.15)" font-family='"DejaVu Sans", "Liberation Sans", sans-serif' stroke="#141414" stroke-width="0.4" stroke-linejoin="round" font-size="23.30" fill="#141414">0.08</text>
<line x1="743.6" y1="548.6" x2="751.6" y2="548.6" stroke="#141414" stroke-width="1.7"/>
<text transform="matrix(0.8800 0 0 1 759.87 558.25)" font-family='"DejaVu Sans", "Liberation Sans", sans-serif' stroke="#141414" stroke-width="0.4" stroke-linejoin="round" font-size="23.30" fill="#141414">0.06</text>
<rect x="45.1" y="64.0" width="2" height="2.8" fill="#222"/>
<rect x="341.8" y="64.3" width="2" height="2.8" fill="#222"/>
<rect x="697.0" y="64.0" width="2" height="2.8" fill="#222"/>
<rect x="112.4" y="705.0" width="2" height="2.8" fill="#222"/>
<rect x="306.9" y="705.0" width="2" height="2.8" fill="#222"/>
<rect x="662.6" y="705.0" width="2" height="2.8" fill="#222"/>
<g clip-path="url(#cpb)"><rect x="120.6" y="728.2" width="6.6" height="453.8" fill="url(#gb0)"/><rect x="126.6" y="728.2" width="6.6" height="453.8" fill="url(#gb1)"/><rect x="132.6" y="728.2" width="6.6" height="453.8" fill="url(#gb2)"/><rect x="138.6" y="728.2" width="6.6" height="453.8" fill="url(#gb3)"/><rect x="144.6" y="728.2" width="6.6" height="453.8" fill="url(#gb4)"/><rect x="150.6" y="728.2" width="6.6" height="453.8" fill="url(#gb5)"/><rect x="156.6" y="728.2" width="6.6" height="453.8" fill="url(#gb6)"/><rect x="162.6" y="728.2" width="6.6" height="453.8" fill="url(#gb7)"/><rect x="168.6" y="728.2" width="6.6" height="453.8" fill="url(#gb8)"/><rect x="174.6" y="728.2" width="6.6" height="453.8" fill="url(#gb9)"/><rect x="180.6" y="728.2" width="6.6" height="453.8" fill="url(#gb10)"/><rect x="186.6" y="728.2" width="6.6" height="453.8" fill="url(#gb11)"/><rect x="192.6" y="728.2" width="6.6" height="453.8" fill="url(#gb12)"/><rect x="198.6" y="728.2" width="6.6" height="453.8" fill="url(#gb13)"/><rect x="204.6" y="728.2" width="6.6" height="453.8" fill="url(#gb14)"/><rect x="210.6" y="728.2" width="6.6" height="453.8" fill="url(#gb15)"/><rect x="216.6" y="728.2" width="6.6" height="453.8" fill="url(#gb16)"/><rect x="222.6" y="728.2" width="6.6" height="453.8" fill="url(#gb17)"/><rect x="228.6" y="728.2" width="6.6" height="453.8" fill="url(#gb18)"/><rect x="234.6" y="728.2" width="6.6" height="453.8" fill="url(#gb19)"/><rect x="240.6" y="728.2" width="6.6" height="453.8" fill="url(#gb20)"/><rect x="246.6" y="728.2" width="6.6" height="453.8" fill="url(#gb21)"/><rect x="252.6" y="728.2" width="6.6" height="453.8" fill="url(#gb22)"/><rect x="258.6" y="728.2" width="6.6" height="453.8" fill="url(#gb23)"/><rect x="264.6" y="728.2" width="6.6" height="453.8" fill="url(#gb24)"/><rect x="270.6" y="728.2" width="6.6" height="453.8" fill="url(#gb25)"/><rect x="276.6" y="728.2" width="6.6" height="453.8" fill="url(#gb26)"/><rect x="282.6" y="728.2" width="6.6" height="453.8" fill="url(#gb27)"/><rect x="288.6" y="728.2" width="6.6" height="453.8" fill="url(#gb28)"/><rect x="294.6" y="728.2" width="6.6" height="453.8" fill="url(#gb29)"/><rect x="300.6" y="728.2" width="6.6" height="453.8" fill="url(#gb30)"/><rect x="306.6" y="728.2" width="6.6" height="453.8" fill="url(#gb31)"/><rect x="312.6" y="728.2" width="6.6" height="453.8" fill="url(#gb32)"/><rect x="318.6" y="728.2" width="6.6" height="453.8" fill="url(#gb33)"/><rect x="324.6" y="728.2" width="6.6" height="453.8" fill="url(#gb34)"/><rect x="330.6" y="728.2" width="6.6" height="453.8" fill="url(#gb35)"/><rect x="336.6" y="728.2" width="6.6" height="453.8" fill="url(#gb36)"/><rect x="342.6" y="728.2" width="6.6" height="453.8" fill="url(#gb37)"/><rect x="348.6" y="728.2" width="6.6" height="453.8" fill="url(#gb38)"/><rect x="354.6" y="728.2" width="6.6" height="453.8" fill="url(#gb39)"/><rect x="360.6" y="728.2" width="6.6" height="453.8" fill="url(#gb40)"/><rect x="366.6" y="728.2" width="6.6" height="453.8" fill="url(#gb41)"/><rect x="372.6" y="728.2" width="6.6" height="453.8" fill="url(#gb42)"/><rect x="378.6" y="728.2" width="6.6" height="453.8" fill="url(#gb43)"/><rect x="384.6" y="728.2" width="6.6" height="453.8" fill="url(#gb44)"/><rect x="390.6" y="728.2" width="6.6" height="453.8" fill="url(#gb45)"/><rect x="396.6" y="728.2" width="6.6" height="453.8" fill="url(#gb46)"/><rect x="402.6" y="728.2" width="6.6" height="453.8" fill="url(#gb47)"/><rect x="408.6" y="728.2" width="6.6" height="453.8" fill="url(#gb48)"/><rect x="414.6" y="728.2" width="6.6" height="453.8" fill="url(#gb49)"/><rect x="420.6" y="728.2" width="6.6" height="453.8" fill="url(#gb50)"/><rect x="426.6" y="728.2" width="6.6" height="453.8" fill="url(#gb51)"/><rect x="432.6" y="728.2" width="6.6" height="453.8" fill="url(#gb52)"/><rect x="438.6" y="728.2" width="6.6" height="453.8" fill="url(#gb53)"/><rect x="444.6" y="728.2" width="6.6" height="453.8" fill="url(#gb54)"/><rect x="450.6" y="728.2" width="6.6" height="453.8" fill="url(#gb55)"/><rect x="456.6" y="728.2" width="6.6" height="453.8" fill="url(#gb56)"/><rect x="462.6" y="728.2" width="6.6" height="453.8" fill="url(#gb57)"/><rect x="468.6" y="728.2" width="6.6" height="453.8" fill="url(#gb58)"/><rect x="474.6" y="728.2" width="6.6" height="453.8" fill="url(#gb59)"/><rect x="480.6" y="728.2" width="6.6" height="453.8" fill="url(#gb60)"/><rect x="486.6" y="728.2" width="6.6" height="453.8" fill="url(#gb61)"/><rect x="492.6" y="728.2" width="6.6" height="453.8" fill="url(#gb62)"/><rect x="498.6" y="728.2" width="6.6" height="453.8" fill="url(#gb63)"/><rect x="504.6" y="728.2" width="6.6" height="453.8" fill="url(#gb64)"/><rect x="510.6" y="728.2" width="6.6" height="453.8" fill="url(#gb65)"/><rect x="516.6" y="728.2" width="6.6" height="453.8" fill="url(#gb66)"/><rect x="522.6" y="728.2" width="6.6" height="453.8" fill="url(#gb67)"/><rect x="528.6" y="728.2" width="6.6" height="453.8" fill="url(#gb68)"/><rect x="534.6" y="728.2" width="6.6" height="453.8" fill="url(#gb69)"/><rect x="540.6" y="728.2" width="6.6" height="453.8" fill="url(#gb70)"/><rect x="546.6" y="728.2" width="6.6" height="453.8" fill="url(#gb71)"/><rect x="552.6" y="728.2" width="6.6" height="453.8" fill="url(#gb72)"/><rect x="558.6" y="728.2" width="6.6" height="453.8" fill="url(#gb73)"/><rect x="564.6" y="728.2" width="6.6" height="453.8" fill="url(#gb74)"/><rect x="570.6" y="728.2" width="6.6" height="453.8" fill="url(#gb75)"/><rect x="576.6" y="728.2" width="6.6" height="453.8" fill="url(#gb76)"/><rect x="582.6" y="728.2" width="6.6" height="453.8" fill="url(#gb77)"/><rect x="588.6" y="728.2" width="6.6" height="453.8" fill="url(#gb78)"/><rect x="594.6" y="728.2" width="6.6" height="453.8" fill="url(#gb79)"/><rect x="600.6" y="728.2" width="6.6" height="453.8" fill="url(#gb80)"/><rect x="606.6" y="728.2" width="6.6" height="453.8" fill="url(#gb81)"/><rect x="612.6" y="728.2" width="6.6" height="453.8" fill="url(#gb82)"/><rect x="618.6" y="728.2" width="6.6" height="453.8" fill="url(#gb83)"/><rect x="624.6" y="728.2" width="6.6" height="453.8" fill="url(#gb84)"/><rect x="630.6" y="728.2" width="6.6" height="453.8" fill="url(#gb85)"/><rect x="636.6" y="728.2" width="6.6" height="453.8" fill="url(#gb86)"/><rect x="642.6" y="728.2" width="6.6" height="453.8" fill="url(#gb87)"/><rect x="648.6" y="728.2" width="6.6" height="453.8" fill="url(#gb88)"/><rect x="654.6" y="728.2" width="6.6" height="453.8" fill="url(#gb89)"/><rect x="660.6" y="728.2" width="6.6" height="453.8" fill="url(#gb90)"/><rect x="666.6" y="728.2" width="6.6" height="453.8" fill="url(#gb91)"/><rect x="672.6" y="728.2" width="6.6" height="453.8" fill="url(#gb92)"/></g>
<rect x="101.8" y="714.2" width="597.8" height="485.2" fill="none" stroke="#000" stroke-width="1.9"/>
<line x1="93.8" y1="1121.0" x2="101.8" y2="1121.0" stroke="#141414" stroke-width="1.7"/>
<text transform="matrix(0.8800 0 0 1 54.25 1130.36)" font-family='"DejaVu Sans", "Liberation Sans", sans-serif' stroke="#141414" stroke-width="0.4" stroke-linejoin="round" font-size="22.60" fill="#141414">−2</text>
<line x1="93.8" y1="1034.2" x2="101.8" y2="1034.2" stroke="#141414" stroke-width="1.7"/>
<text transform="matrix(1.0000 0 0 1 71.72 1043.39)" font-family='"DejaVu Sans", "Liberation Sans", sans-serif' stroke="#141414" stroke-width="0.4" stroke-linejoin="round" font-size="22.60" fill="#141414">0</text>
<line x1="93.8" y1="947.7" x2="101.8" y2="947.7" stroke="#141414" stroke-width="1.7"/>
<text transform="matrix(1.0000 0 0 1 72.51 957.06)" font-family='"DejaVu Sans", "Liberation Sans", sans-serif' stroke="#141414" stroke-width="0.4" stroke-linejoin="round" font-size="22.60" fill="#141414">2</text>
<line x1="93.8" y1="861.3" x2="101.8" y2="861.3" stroke="#141414" stroke-width="1.7"/>
<text transform="matrix(1.0000 0 0 1 71.49 870.55)" font-family='"DejaVu Sans", "Liberation Sans", sans-serif' stroke="#141414" stroke-width="0.4" stroke-linejoin="round" font-size="22.60" fill="#141414">4</text>
<line x1="93.8" y1="774.0" x2="101.8" y2="774.0" stroke="#141414" stroke-width="1.7"/>
<text transform="matrix(1.0000 0 0 1 71.61 783.19)" font-family='"DejaVu Sans", "Liberation Sans", sans-serif' stroke="#141414" stroke-width="0.4" stroke-linejoin="round" font-size="22.60" fill="#141414">6</text>
<line x1="228.4" y1="1199.4" x2="228.4" y2="1208.0" stroke="#141414" stroke-width="1.7"/>
<text transform="matrix(0.9000 0 0 1 213.05 1233.32)" font-family='"DejaVu Sans", "Liberation Sans", sans-serif' stroke="#141414" stroke-width="0.4" stroke-linejoin="round" font-size="22.60" fill="#141414">−2</text>
<line x1="364.4" y1="1199.4" x2="364.4" y2="1208.0" stroke="#141414" stroke-width="1.7"/>
<text transform="matrix(1.0000 0 0 1 356.92 1233.32)" font-family='"DejaVu Sans", "Liberation Sans", sans-serif' stroke="#141414" stroke-width="0.4" stroke-linejoin="round" font-size="22.60" fill="#141414">0</text>
<line x1="497.9" y1="1199.4" x2="497.9" y2="1208.0" stroke="#141414" stroke-width="1.7"/>
<text transform="matrix(1.0000 0 0 1 490.71 1233.32)" font-family='"DejaVu Sans", "Liberation Sans", sans-serif' stroke="#141414" stroke-width="0.4" stroke-linejoin="round" font-size="22.60" fill="#141414">2</text>
<line x1="631.6" y1="1199.4" x2="631.6" y2="1208.0" stroke="#141414" stroke-width="1.7"/>
<text transform="matrix(1.0000 0 0 1 624.18 1233.10)" font-family='"DejaVu Sans", "Liberation Sans", sans-serif' stroke="#141414" stroke-width="0.4" stroke-linejoin="round" font-size="22.60" fill="#141414">4</text>
<rect x="736.7" y="714.2" width="23.2" height="485.2" fill="url(#cb641)" stroke="#111" stroke-width="1.6"/>
<line x1="759.9" y1="725.3" x2="767.9" y2="725.3" stroke="#141414" stroke-width="1.7"/>
<text transform="matrix(0.8800 0 0 1 776.17 734.95)" font-family='"DejaVu Sans", "Liberation Sans", sans-serif' stroke="#141414" stroke-width="0.4" stroke-linejoin="round" font-size="23.30" fill="#141414">0.08</text>
<line x1="759.9" y1="791.6" x2="767.9" y2="791.6" stroke="#141414" stroke-width="1.7"/>
<text transform="matrix(0.8800 0 0 1 776.17 801.25)" font-family='"DejaVu Sans", "Liberation Sans", sans-serif' stroke="#141414" stroke-width="0.4" stroke-linejoin="round" font-size="23.30" fill="#141414">0.07</text>
<line x1="759.9" y1="860.9" x2="767.9" y2="860.9" stroke="#141414" stroke-width="1.7"/>
<text transform="matrix(0.8800 0 0 1 776.17 870.55)" font-family='"DejaVu Sans", "Liberation Sans", sans-serif' stroke="#141414" stroke-width="0.4" stroke-linejoin="round" font-size="23.30" fill="#141414">0.06</text>
<line x1="759.9" y1="927.9" x2="767.9" y2="927.9" stroke="#141414" stroke-width="1.7"/>
<text transform="matrix(0.8800 0 0 1 776.17 937.55)" font-family='"DejaVu Sans", "Liberation Sans", sans-serif' stroke="#141414" stroke-width="0.4" stroke-linejoin="round" font-size="23.30" fill="#141414">0.05</text>
<line x1="759.9" y1="994.2" x2="767.9" y2="994.2" stroke="#141414" stroke-width="1.7"/>
<text transform="matrix(0.8800 0 0 1 776.17 1003.85)" font-family='"DejaVu Sans", "Liberation Sans", sans-serif' stroke="#141414" stroke-width="0.4" stroke-linejoin="round" font-size="23.30" fill="#141414">0.04</text>
<line x1="759.9" y1="1063.2" x2="767.9" y2="1063.2" stroke="#141414" stroke-width="1.7"/>
<text transform="matrix(0.8800 0 0 1 776.17 1072.85)" font-family='"DejaVu Sans", "Liberation Sans", sans-serif' stroke="#141414" stroke-width="0.4" stroke-linejoin="round" font-size="23.30" fill="#141414">0.03</text>
<line x1="759.9" y1="1130.0" x2="767.9" y2="1130.0" stroke="#141414" stroke-width="1.7"/>
<text transform="matrix(0.8800 0 0 1 776.17 1139.65)" font-family='"DejaVu Sans", "Liberation Sans", sans-serif' stroke="#141414" stroke-width="0.4" stroke-linejoin="round" font-size="23.30" fill="#141414">0.02</text>
<line x1="759.9" y1="1197.3" x2="767.9" y2="1197.3" stroke="#141414" stroke-width="1.7"/>
<text transform="matrix(0.8800 0 0 1 776.17 1206.95)" font-family='"DejaVu Sans", "Liberation Sans", sans-serif' stroke="#141414" stroke-width="0.4" stroke-linejoin="round" font-size="23.30" fill="#141414">0.01</text>
<rect x="977.0" y="333.8" width="747.2" height="486.0" fill="none" stroke="#000" stroke-width="1.9"/>
<line x1="969.0" y1="779.7" x2="977.0" y2="779.7" stroke="#141414" stroke-width="1.7"/>
<text transform="matrix(1.0000 0 0 1 946.04 787.79)" font-family='"DejaVu Sans", "Liberation Sans", sans-serif' stroke="#141414" stroke-width="0.4" stroke-linejoin="round" font-size="23.20" fill="#141414">5</text>
<line x1="969.0" y1="726.1" x2="977.0" y2="726.1" stroke="#141414" stroke-width="1.7"/>
<text transform="matrix(0.9000 0 0 1 933.64 734.31)" font-family='"DejaVu Sans", "Liberation Sans", sans-serif' stroke="#141414" stroke-width="0.4" stroke-linejoin="round" font-size="23.20" fill="#141414">10</text>
<line x1="969.0" y1="672.4" x2="977.0" y2="672.4" stroke="#141414" stroke-width="1.7"/>
<text transform="matrix(0.9000 0 0 1 934.06 680.49)" font-family='"DejaVu Sans", "Liberation Sans", sans-serif' stroke="#141414" stroke-width="0.4" stroke-linejoin="round" font-size="23.20" fill="#141414">15</text>
<line x1="969.0" y1="616.9" x2="977.0" y2="616.9" stroke="#141414" stroke-width="1.7"/>
<text transform="matrix(0.9000 0 0 1 933.64 625.11)" font-family='"DejaVu Sans", "Liberation Sans", sans-serif' stroke="#141414" stroke-width="0.4" stroke-linejoin="round" font-size="23.20" fill="#141414">20</text>
<line x1="969.0" y1="563.4" x2="977.0" y2="563.4" stroke="#141414" stroke-width="1.7"/>
<text transform="matrix(0.9000 0 0 1 934.06 571.61)" font-family='"DejaVu Sans", "Liberation Sans", sans-serif' stroke="#141414" stroke-width="0.4" stroke-linejoin="round" font-size="23.20" fill="#141414">25</text>
<line x1="969.0" y1="509.3" x2="977.0" y2="509.3" stroke="#141414" stroke-width="1.7"/>
<text transform="matrix(0.9000 0 0 1 933.64 517.51)" font-family='"DejaVu Sans", "Liberation Sans", sans-serif' stroke="#141414" stroke-width="0.4" stroke-linejoin="round" font-size="23.20" fill="#141414">30</text>
<line x1="969.0" y1="454.2" x2="977.0" y2="454.2" stroke="#141414" stroke-width="1.7"/>
<text transform="matrix(0.9000 0 0 1 934.06 462.41)" font-family='"DejaVu Sans", "Liberation Sans", sans-serif' stroke="#141414" stroke-width="0.4" stroke-linejoin="round" font-size="23.20" fill="#141414">35</text>
<line x1="969.0" y1="400.8" x2="977.0" y2="400.8" stroke="#141414" stroke-width="1.7"/>
<text transform="matrix(0.9000 0 0 1 933.64 409.01)" font-family='"DejaVu Sans", "Liberation Sans", sans-serif' stroke="#141414" stroke-width="0.4" stroke-linejoin="round" font-size="23.20" fill="#141414">40</text>
<line x1="969.0" y1="347.2" x2="977.0" y2="347.2" stroke="#141414" stroke-width="1.7"/>
<text transform="matrix(0.9000 0 0 1 934.06 355.29)" font-family='"DejaVu Sans", "Liberation Sans", sans-serif' stroke="#141414" stroke-width="0.4" stroke-linejoin="round" font-size="23.20" fill="#141414">45</text>
<line x1="1005.7" y1="819.8" x2="1005.7" y2="828.4" stroke="#141414" stroke-width="1.7"/>
<text transform="matrix(1.0000 0 0 1 998.03 853.87)" font-family='"DejaVu Sans", "Liberation Sans", sans-serif' stroke="#141414" stroke-width="0.4" stroke-linejoin="round" font-size="23.20" fill="#141414">0</text>
<line x1="1119.6" y1="819.8" x2="1119.6" y2="828.4" stroke="#141414" stroke-width="1.7"/>
<text transform="matrix(0.9000 0 0 1 1105.74 853.87)" font-family='"DejaVu Sans", "Liberation Sans", sans-serif' stroke="#141414" stroke-width="0.4" stroke-linejoin="round" font-size="23.20" fill="#141414">20</text>
<line x1="1233.3" y1="819.8" x2="1233.3" y2="828.4" stroke="#141414" stroke-width="1.7"/>
<text transform="matrix(0.9000 0 0 1 1219.70 853.87)" font-family='"DejaVu Sans", "Liberation Sans", sans-serif' stroke="#141414" stroke-width="0.4" stroke-linejoin="round" font-size="23.20" fill="#141414">40</text>
<line x1="1346.9" y1="819.8" x2="1346.9" y2="828.4" stroke="#141414" stroke-width="1.7"/>
<text transform="matrix(0.9000 0 0 1 1333.19 853.87)" font-family='"DejaVu Sans", "Liberation Sans", sans-serif' stroke="#141414" stroke-width="0.4" stroke-linejoin="round" font-size="23.20" fill="#141414">60</text>
<line x1="1460.6" y1="819.8" x2="1460.6" y2="828.4" stroke="#141414" stroke-width="1.7"/>
<text transform="matrix(0.9000 0 0 1 1446.94 853.87)" font-family='"DejaVu Sans", "Liberation Sans", sans-serif' stroke="#141414" stroke-width="0.4" stroke-linejoin="round" font-size="23.20" fill="#141414">80</text>
<line x1="1574.2" y1="819.8" x2="1574.2" y2="828.4" stroke="#141414" stroke-width="1.7"/>
<text transform="matrix(0.9000 0 0 1 1552.59 853.87)" font-family='"DejaVu Sans", "Liberation Sans", sans-serif' stroke="#141414" stroke-width="0.4" stroke-linejoin="round" font-size="23.20" fill="#141414">100</text>
<line x1="1690.4" y1="819.8" x2="1690.4" y2="828.4" stroke="#141414" stroke-width="1.7"/>
<text transform="matrix(0.9000 0 0 1 1666.29 853.87)" font-family='"DejaVu Sans", "Liberation Sans", sans-serif' stroke="#141414" stroke-width="0.4" stroke-linejoin="round" font-size="23.20" fill="#141414">120</text>
<rect x="1333" y="867.6" width="1.6" height="1.6" fill="#444"/>
<polyline fill="none" stroke="#fa0a14" stroke-width="2.6" stroke-linejoin="round" stroke-linecap="round" points="1011.4,360.6 1017.1,360.6 1022.8,360.6 1028.5,356.2 1034.2,356.2 1039.9,356.2 1045.6,356.2 1051.3,357.9 1057.0,357.9 1062.7,357.9 1068.3,357.9 1074.0,357.9 1079.7,357.9 1085.4,357.9 1091.1,360.3 1096.8,365.0 1102.5,374.5 1108.2,382.4 1113.9,390.4 1119.6,398.3 1125.3,406.3 1131.0,414.2 1136.7,422.2 1142.3,430.1 1148.0,438.0 1153.7,446.0 1159.4,453.9 1165.1,461.9 1170.8,469.8 1176.4,477.8 1182.1,485.7 1187.8,493.7 1193.5,501.6 1199.2,509.6 1204.9,517.5 1210.6,525.4 1216.2,533.4 1221.9,541.3 1227.6,549.3 1233.3,557.2 1239.0,565.2 1244.7,573.1 1250.3,581.1 1256.0,589.0 1261.7,597.0 1267.4,604.9 1273.1,612.8 1278.7,620.8 1284.4,628.7 1290.1,636.7 1295.8,644.6 1301.5,652.6 1307.1,660.5 1312.8,668.5 1318.5,676.4 1324.2,684.4 1329.9,692.3 1335.5,700.2 1341.2,708.2 1346.9,716.1 1352.6,724.1 1358.3,732.0 1364.0,740.0 1369.6,747.9 1375.3,757.0 1381.0,763.9 1386.7,768.9 1392.4,775.1 1398.1,779.5 1403.8,783.8 1409.4,786.9 1415.1,790.2 1420.8,792.0 1426.5,793.2 1432.2,794.4 1437.9,795.1 1443.5,797.2 1449.2,797.2 1454.9,797.2 1460.6,797.2 1466.3,797.2 1472.0,794.9 1477.6,794.9 1483.3,794.9 1489.0,794.9 1494.7,794.9 1500.4,794.9 1506.0,794.9 1511.7,794.9 1517.4,794.9 1523.1,794.9 1528.8,794.9 1534.4,794.9 1540.1,794.9 1545.8,794.9 1551.5,794.9 1557.2,794.9 1562.8,794.9 1568.5,794.9 1574.2,794.9 1580.0,794.9 1585.8,794.9 1591.6,794.9 1597.4,794.9 1603.2,794.9 1609.1,794.9 1614.9,794.9 1620.7,794.9 1626.5,794.9 1632.3,794.9 1638.1,794.9 1643.9,794.9 1649.7,794.9 1655.5,794.9 1661.4,794.9 1667.2,794.9 1673.0,794.9 1678.8,794.9 1684.6,794.9 1690.4,794.9"/>
<g fill="#fa0a14"><rect x="1008.4" y="357.6" width="6.0" height="6.0" rx="1.2"/><rect x="1014.1" y="357.6" width="6.0" height="6.0" rx="1.2"/><rect x="1019.8" y="357.6" width="6.0" height="6.0" rx="1.2"/><rect x="1025.5" y="353.2" width="6.0" height="6.0" rx="1.2"/><rect x="1031.2" y="353.2" width="6.0" height="6.0" rx="1.2"/><rect x="1036.9" y="353.2" width="6.0" height="6.0" rx="1.2"/><rect x="1042.6" y="353.2" width="6.0" height="6.0" rx="1.2"/><rect x="1048.3" y="354.9" width="6.0" height="6.0" rx="1.2"/><rect x="1054.0" y="354.9" width="6.0" height="6.0" rx="1.2"/><rect x="1059.7" y="354.9" width="6.0" height="6.0" rx="1.2"/><rect x="1065.3" y="354.9" width="6.0" height="6.0" rx="1.2"/><rect x="1071.0" y="354.9" width="6.0" height="6.0" rx="1.2"/><rect x="1076.7" y="354.9" width="6.0" height="6.0" rx="1.2"/><rect x="1082.4" y="354.9" width="6.0" height="6.0" rx="1.2"/><rect x="1088.1" y="357.3" width="6.0" height="6.0" rx="1.2"/><rect x="1093.8" y="362.0" width="6.0" height="6.0" rx="1.2"/><rect x="1099.5" y="371.5" width="6.0" height="6.0" rx="1.2"/><rect x="1105.2" y="379.4" width="6.0" height="6.0" rx="1.2"/><rect x="1110.9" y="387.4" width="6.0" height="6.0" rx="1.2"/><rect x="1116.6" y="395.3" width="6.0" height="6.0" rx="1.2"/><rect x="1122.3" y="403.3" width="6.0" height="6.0" rx="1.2"/><rect x="1128.0" y="411.2" width="6.0" height="6.0" rx="1.2"/><rect x="1133.7" y="419.2" width="6.0" height="6.0" rx="1.2"/><rect x="1139.3" y="427.1" width="6.0" height="6.0" rx="1.2"/><rect x="1145.0" y="435.0" width="6.0" height="6.0" rx="1.2"/><rect x="1150.7" y="443.0" width="6.0" height="6.0" rx="1.2"/><rect x="1156.4" y="450.9" width="6.0" height="6.0" rx="1.2"/><rect x="1162.1" y="458.9" width="6.0" height="6.0" rx="1.2"/><rect x="1167.8" y="466.8" width="6.0" height="6.0" rx="1.2"/><rect x="1173.4" y="474.8" width="6.0" height="6.0" rx="1.2"/><rect x="1179.1" y="482.7" width="6.0" height="6.0" rx="1.2"/><rect x="1184.8" y="490.7" width="6.0" height="6.0" rx="1.2"/><rect x="1190.5" y="498.6" width="6.0" height="6.0" rx="1.2"/><rect x="1196.2" y="506.6" width="6.0" height="6.0" rx="1.2"/><rect x="1201.9" y="514.5" width="6.0" height="6.0" rx="1.2"/><rect x="1207.6" y="522.4" width="6.0" height="6.0" rx="1.2"/><rect x="1213.2" y="530.4" width="6.0" height="6.0" rx="1.2"/><rect x="1218.9" y="538.3" width="6.0" height="6.0" rx="1.2"/><rect x="1224.6" y="546.3" width="6.0" height="6.0" rx="1.2"/><rect x="1230.3" y="554.2" width="6.0" height="6.0" rx="1.2"/><rect x="1236.0" y="562.2" width="6.0" height="6.0" rx="1.2"/><rect x="1241.7" y="570.1" width="6.0" height="6.0" rx="1.2"/><rect x="1247.3" y="578.1" width="6.0" height="6.0" rx="1.2"/><rect x="1253.0" y="586.0" width="6.0" height="6.0" rx="1.2"/><rect x="1258.7" y="594.0" width="6.0" height="6.0" rx="1.2"/><rect x="1264.4" y="601.9" width="6.0" height="6.0" rx="1.2"/><rect x="1270.1" y="609.8" width="6.0" height="6.0" rx="1.2"/><rect x="1275.7" y="617.8" width="6.0" height="6.0" rx="1.2"/><rect x="1281.4" y="625.7" width="6.0" height="6.0" rx="1.2"/><rect x="1287.1" y="633.7" width="6.0" height="6.0" rx="1.2"/><rect x="1292.8" y="641.6" width="6.0" height="6.0" rx="1.2"/><rect x="1298.5" y="649.6" width="6.0" height="6.0" rx="1.2"/><rect x="1304.1" y="657.5" width="6.0" height="6.0" rx="1.2"/><rect x="1309.8" y="665.5" width="6.0" height="6.0" rx="1.2"/><rect x="1315.5" y="673.4" width="6.0" height="6.0" rx="1.2"/><rect x="1321.2" y="681.4" width="6.0" height="6.0" rx="1.2"/><rect x="1326.9" y="689.3" width="6.0" height="6.0" rx="1.2"/><rect x="1332.5" y="697.2" width="6.0" height="6.0" rx="1.2"/><rect x="1338.2" y="705.2" width="6.0" height="6.0" rx="1.2"/><rect x="1343.9" y="713.1" width="6.0" height="6.0" rx="1.2"/><rect x="1349.6" y="721.1" width="6.0" height="6.0" rx="1.2"/><rect x="1355.3" y="729.0" width="6.0" height="6.0" rx="1.2"/><rect x="1361.0" y="737.0" width="6.0" height="6.0" rx="1.2"/><rect x="1366.6" y="744.9" width="6.0" height="6.0" rx="1.2"/><rect x="1372.3" y="754.0" width="6.0" height="6.0" rx="1.2"/><rect x="1378.0" y="760.9" width="6.0" height="6.0" rx="1.2"/><rect x="1383.7" y="765.9" width="6.0" height="6.0" rx="1.2"/><rect x="1389.4" y="772.1" width="6.0" height="6.0" rx="1.2"/><rect x="1395.1" y="776.5" width="6.0" height="6.0" rx="1.2"/><rect x="1400.8" y="780.8" width="6.0" height="6.0" rx="1.2"/><rect x="1406.4" y="783.9" width="6.0" height="6.0" rx="1.2"/><rect x="1412.1" y="787.2" width="6.0" height="6.0" rx="1.2"/><rect x="1417.8" y="789.0" width="6.0" height="6.0" rx="1.2"/><rect x="1423.5" y="790.2" width="6.0" height="6.0" rx="1.2"/><rect x="1429.2" y="791.4" width="6.0" height="6.0" rx="1.2"/><rect x="1434.9" y="792.1" width="6.0" height="6.0" rx="1.2"/><rect x="1440.5" y="794.2" width="6.0" height="6.0" rx="1.2"/><rect x="1446.2" y="794.2" width="6.0" height="6.0" rx="1.2"/><rect x="1451.9" y="794.2" width="6.0" height="6.0" rx="1.2"/><rect x="1457.6" y="794.2" width="6.0" height="6.0" rx="1.2"/><rect x="1463.3" y="794.2" width="6.0" height="6.0" rx="1.2"/><rect x="1469.0" y="791.9" width="6.0" height="6.0" rx="1.2"/><rect x="1474.6" y="791.9" width="6.0" height="6.0" rx="1.2"/><rect x="1480.3" y="791.9" width="6.0" height="6.0" rx="1.2"/><rect x="1486.0" y="791.9" width="6.0" height="6.0" rx="1.2"/><rect x="1491.7" y="791.9" width="6.0" height="6.0" rx="1.2"/><rect x="1497.4" y="791.9" width="6.0" height="6.0" rx="1.2"/><rect x="1503.0" y="791.9" width="6.0" height="6.0" rx="1.2"/><rect x="1508.7" y="791.9" width="6.0" height="6.0" rx="1.2"/><rect x="1514.4" y="791.9" width="6.0" height="6.0" rx="1.2"/><rect x="1520.1" y="791.9" width="6.0" height="6.0" rx="1.2"/><rect x="1525.8" y="791.9" width="6.0" height="6.0" rx="1.2"/><rect x="1531.4" y="791.9" width="6.0" height="6.0" rx="1.2"/><rect x="1537.1" y="791.9" width="6.0" height="6.0" rx="1.2"/><rect x="1542.8" y="791.9" width="6.0" height="6.0" rx="1.2"/><rect x="1548.5" y="791.9" width="6.0" height="6.0" rx="1.2"/><rect x="1554.2" y="791.9" width="6.0" height="6.0" rx="1.2"/><rect x="1559.8" y="791.9" width="6.0" height="6.0" rx="1.2"/><rect x="1565.5" y="791.9" width="6.0" height="6.0" rx="1.2"/><rect x="1571.2" y="791.9" width="6.0" height="6.0" rx="1.2"/><rect x="1577.0" y="791.9" width="6.0" height="6.0" rx="1.2"/><rect x="1582.8" y="791.9" width="6.0" height="6.0" rx="1.2"/><rect x="1588.6" y="791.9" width="6.0" height="6.0" rx="1.2"/><rect x="1594.4" y="791.9" width="6.0" height="6.0" rx="1.2"/><rect x="1600.2" y="791.9" width="6.0" height="6.0" rx="1.2"/><rect x="1606.1" y="791.9" width="6.0" height="6.0" rx="1.2"/><rect x="1611.9" y="791.9" width="6.0" height="6.0" rx="1.2"/><rect x="1617.7" y="791.9" width="6.0" height="6.0" rx="1.2"/><rect x="1623.5" y="791.9" width="6.0" height="6.0" rx="1.2"/><rect x="1629.3" y="791.9" width="6.0" height="6.0" rx="1.2"/><rect x="1635.1" y="791.9" width="6.0" height="6.0" rx="1.2"/><rect x="1640.9" y="791.9" width="6.0" height="6.0" rx="1.2"/><rect x="1646.7" y="791.9" width="6.0" height="6.0" rx="1.2"/><rect x="1652.5" y="791.9" width="6.0" height="6.0" rx="1.2"/><rect x="1658.4" y="791.9" width="6.0" height="6.0" rx="1.2"/><rect x="1664.2" y="791.9" width="6.0" height="6.0" rx="1.2"/><rect x="1670.0" y="791.9" width="6.0" height="6.0" rx="1.2"/><rect x="1675.8" y="791.9" width="6.0" height="6.0" rx="1.2"/><rect x="1681.6" y="791.9" width="6.0" height="6.0" rx="1.2"/><rect x="1687.4" y="791.9" width="6.0" height="6.0" rx="1.2"/></g>
<circle cx="221.5" cy="91.2" r="2.3" fill="#848286"/>
<polygon points="220.3,93.2 222.7,89.2 910.8,504.7 907.4,510.3" fill="#848286"/>
<polygon points="924.5,516.8 902.4,514.7 912.4,498.2" fill="#848286"/>
<text transform="matrix(1.0800 0 0 1 0 0)" font-family='"Liberation Serif", serif' fill="#000"><tspan x="102.72" y="37.93" font-size="54.29">(</tspan><tspan x="121.85" y="37.85" font-size="54.79" font-style="italic">a</tspan><tspan x="149.79" y="37.93" font-size="54.29">)</tspan></text>
<text transform="matrix(1.0300 0 0 1 0 0)" font-family='"Liberation Serif", serif' fill="#000"><tspan x="129.81" y="686.73" font-size="54.29">(</tspan><tspan x="149.11" y="687.16" font-size="54.47" font-style="italic">b</tspan><tspan x="178.26" y="686.73" font-size="54.29">)</tspan></text>
<text transform="matrix(1.0000 0 0 1 0 0)" font-family='"Liberation Serif", serif' fill="#000"><tspan x="994.98" y="305.52" font-size="54.34">(</tspan><tspan x="1014.06" y="305.45" font-size="55.00" font-style="italic">c</tspan><tspan x="1041.06" y="305.52" font-size="54.34">)</tspan></text>
<text transform="matrix(1.1300 0 0 1 0 0)" font-family='"Liberation Serif", serif' fill="#000"><tspan x="1.30" y="323.60" font-size="53.48" font-style="italic">z</tspan><tspan x="22.25" y="334.70" font-size="36.52">2</tspan></text>
<text transform="matrix(1.1300 0 0 1 0 0)" font-family='"Liberation Serif", serif' fill="#000"><tspan x="352.28" y="651.30" font-size="53.48" font-style="italic">z</tspan><tspan x="371.88" y="663.10" font-size="38.33">1</tspan></text>
<text transform="matrix(1.1300 0 0 1 0 0)" font-family='"Liberation Serif", serif' fill="#000"><tspan x="4.00" y="951.70" font-size="53.26" font-style="italic">z</tspan><tspan x="24.75" y="963.30" font-size="37.12">2</tspan></text>
<text transform="matrix(1.1300 0 0 1 0 0)" font-family='"Liberation Serif", serif' fill="#000"><tspan x="354.97" y="1274.70" font-size="53.48" font-style="italic">z</tspan><tspan x="374.68" y="1286.30" font-size="37.95">1</tspan></text>
<text transform="matrix(1.0800 0 0 1 0 0)" font-family='"Liberation Serif", serif' fill="#000"><tspan x="774.58" y="633.11" font-size="52.50" font-style="italic">β</tspan><tspan x="807.06" y="633.29" font-size="53.52">(</tspan><tspan x="825.43" y="633.20" font-size="53.33" font-style="italic">i</tspan><tspan x="842.83" y="633.29" font-size="53.52">)</tspan></text>
<text transform="matrix(0.9700 0 0 1 0 0)" x="1316.76 1346.53 1372.95 1398.67 1416.71 1441.79 1455.67 1464.88" y="925" font-family='"Liberation Serif", serif' font-style="italic" font-size="54.5" fill="#000">cycle, i</text>
</svg>
</body></html>
